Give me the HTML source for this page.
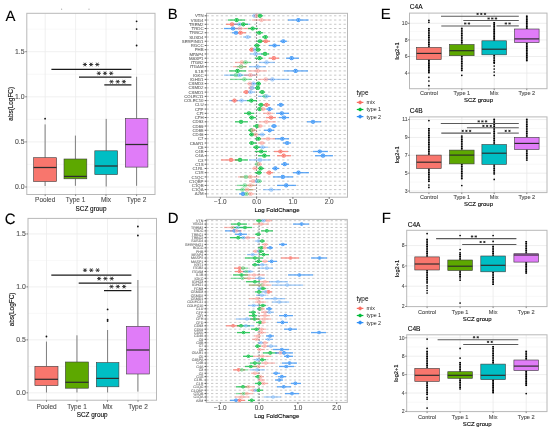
<!DOCTYPE html>
<html><head><meta charset="utf-8"><style>
html,body{margin:0;padding:0;background:#fff;}
body{width:550px;height:429px;overflow:hidden;}
svg{display:block;will-change:transform;font-family:"Liberation Sans", sans-serif;}
</style></head><body>
<svg width="550" height="429" viewBox="0 0 550 429">
<rect x="0" y="0" width="550" height="429" fill="#fff"/>
<text x="5.5" y="20.7" font-size="14.9" text-anchor="start" fill="#000" stroke="#000" stroke-width="0.1" style="text-rendering:geometricPrecision">A</text>
<rect x="26.8" y="13.3" width="128.2" height="181.2" fill="#fff" stroke="none" stroke-width="0"/>
<line x1="26.8" y1="164.45" x2="155" y2="164.45" stroke="#F5F5F5" stroke-width="0.7"/>
<line x1="26.8" y1="119.35" x2="155" y2="119.35" stroke="#F5F5F5" stroke-width="0.7"/>
<line x1="26.8" y1="74.25" x2="155" y2="74.25" stroke="#F5F5F5" stroke-width="0.7"/>
<line x1="26.8" y1="29.15" x2="155" y2="29.15" stroke="#F5F5F5" stroke-width="0.7"/>
<line x1="26.8" y1="187" x2="155" y2="187" stroke="#ECECEC" stroke-width="0.8"/>
<line x1="26.8" y1="141.9" x2="155" y2="141.9" stroke="#ECECEC" stroke-width="0.8"/>
<line x1="26.8" y1="96.8" x2="155" y2="96.8" stroke="#ECECEC" stroke-width="0.8"/>
<line x1="26.8" y1="51.7" x2="155" y2="51.7" stroke="#ECECEC" stroke-width="0.8"/>
<line x1="45.2" y1="13.3" x2="45.2" y2="194.5" stroke="#ECECEC" stroke-width="0.8"/>
<line x1="75.6" y1="13.3" x2="75.6" y2="194.5" stroke="#ECECEC" stroke-width="0.8"/>
<line x1="106" y1="13.3" x2="106" y2="194.5" stroke="#ECECEC" stroke-width="0.8"/>
<line x1="136.6" y1="13.3" x2="136.6" y2="194.5" stroke="#ECECEC" stroke-width="0.8"/>
<rect x="26.8" y="13.3" width="128.2" height="181.2" fill="none" stroke="#B8B8B8" stroke-width="1"/>
<line x1="25.2" y1="187" x2="26.8" y2="187" stroke="#555" stroke-width="0.7"/>
<text x="24.6" y="189.4" font-size="6.9" text-anchor="end" fill="#4D4D4D" stroke="#4D4D4D" stroke-width="0.1">0.0</text>
<line x1="25.2" y1="141.9" x2="26.8" y2="141.9" stroke="#555" stroke-width="0.7"/>
<text x="24.6" y="144.3" font-size="6.9" text-anchor="end" fill="#4D4D4D" stroke="#4D4D4D" stroke-width="0.1">0.5</text>
<line x1="25.2" y1="96.8" x2="26.8" y2="96.8" stroke="#555" stroke-width="0.7"/>
<text x="24.6" y="99.2" font-size="6.9" text-anchor="end" fill="#4D4D4D" stroke="#4D4D4D" stroke-width="0.1">1.0</text>
<line x1="25.2" y1="51.7" x2="26.8" y2="51.7" stroke="#555" stroke-width="0.7"/>
<text x="24.6" y="54.1" font-size="6.9" text-anchor="end" fill="#4D4D4D" stroke="#4D4D4D" stroke-width="0.1">1.5</text>
<line x1="45.2" y1="194.5" x2="45.2" y2="196.1" stroke="#555" stroke-width="0.7"/>
<text x="45.2" y="202.1" font-size="6.5" text-anchor="middle" fill="#4D4D4D" stroke="#4D4D4D" stroke-width="0.1">Pooled</text>
<line x1="75.6" y1="194.5" x2="75.6" y2="196.1" stroke="#555" stroke-width="0.7"/>
<text x="75.6" y="202.1" font-size="6.5" text-anchor="middle" fill="#4D4D4D" stroke="#4D4D4D" stroke-width="0.1">Type 1</text>
<line x1="106" y1="194.5" x2="106" y2="196.1" stroke="#555" stroke-width="0.7"/>
<text x="106" y="202.1" font-size="6.5" text-anchor="middle" fill="#4D4D4D" stroke="#4D4D4D" stroke-width="0.1">Mix</text>
<line x1="136.6" y1="194.5" x2="136.6" y2="196.1" stroke="#555" stroke-width="0.7"/>
<text x="136.6" y="202.1" font-size="6.5" text-anchor="middle" fill="#4D4D4D" stroke="#4D4D4D" stroke-width="0.1">Type 2</text>
<text x="91" y="210.6" font-size="6.4" text-anchor="middle" fill="#000" stroke="#000" stroke-width="0.1">SCZ group</text>
<text x="12.6" y="103.8" font-size="6.4" text-anchor="middle" fill="#000" stroke="#000" stroke-width="0.1" transform="rotate(-90 12.6 103.8)">abs(LogFC)</text>
<line x1="45.1" y1="124.4" x2="45.1" y2="157.7" stroke="#555" stroke-width="0.75"/>
<line x1="45.1" y1="181.5" x2="45.1" y2="186" stroke="#555" stroke-width="0.75"/>
<rect x="33.6" y="157.7" width="23" height="23.8" fill="#F8766D" stroke="#3c3c3c" stroke-width="0.6"/>
<line x1="33.6" y1="167.5" x2="56.6" y2="167.5" stroke="#2e2e2e" stroke-width="1.25"/>
<circle cx="45.1" cy="118.7" r="0.9" fill="#111"/>
<line x1="75.4" y1="135.6" x2="75.4" y2="159" stroke="#555" stroke-width="0.75"/>
<line x1="75.4" y1="178.8" x2="75.4" y2="185.8" stroke="#555" stroke-width="0.75"/>
<rect x="64" y="159" width="22.8" height="19.8" fill="#5DA800" stroke="#3c3c3c" stroke-width="0.6"/>
<line x1="64" y1="176.4" x2="86.8" y2="176.4" stroke="#2e2e2e" stroke-width="1.25"/>
<line x1="106.2" y1="118.9" x2="106.2" y2="150.8" stroke="#555" stroke-width="0.75"/>
<line x1="106.2" y1="174.6" x2="106.2" y2="186.5" stroke="#555" stroke-width="0.75"/>
<rect x="94.8" y="150.8" width="22.8" height="23.8" fill="#00BEC4" stroke="#3c3c3c" stroke-width="0.6"/>
<line x1="94.8" y1="166" x2="117.6" y2="166" stroke="#2e2e2e" stroke-width="1.25"/>
<line x1="136.6" y1="76.8" x2="136.6" y2="118.6" stroke="#555" stroke-width="0.75"/>
<line x1="136.6" y1="167.1" x2="136.6" y2="185.8" stroke="#555" stroke-width="0.75"/>
<rect x="125.3" y="118.6" width="22.6" height="48.5" fill="#E07CF8" stroke="#3c3c3c" stroke-width="0.6"/>
<line x1="125.3" y1="144.5" x2="147.9" y2="144.5" stroke="#2e2e2e" stroke-width="1.25"/>
<circle cx="136.6" cy="21.3" r="0.9" fill="#111"/>
<circle cx="136.6" cy="29.1" r="0.9" fill="#111"/>
<circle cx="136.6" cy="45.5" r="0.9" fill="#111"/>
<line x1="51.4" y1="69.3" x2="131.4" y2="69.3" stroke="#1a1a1a" stroke-width="1.25"/>
<line x1="79" y1="77.1" x2="131.4" y2="77.1" stroke="#1a1a1a" stroke-width="1.25"/>
<line x1="104.3" y1="84.9" x2="131.4" y2="84.9" stroke="#1a1a1a" stroke-width="1.25"/>
<path d="M82.8 64.5L87 64.5M83.85 62.68L85.95 66.32M85.95 62.68L83.85 66.32" stroke="#262626" stroke-width="0.85" fill="none"/>
<path d="M89 64.5L93.2 64.5M90.05 62.68L92.15 66.32M92.15 62.68L90.05 66.32" stroke="#262626" stroke-width="0.85" fill="none"/>
<path d="M95.2 64.5L99.4 64.5M96.25 62.68L98.35 66.32M98.35 62.68L96.25 66.32" stroke="#262626" stroke-width="0.85" fill="none"/>
<path d="M96.7 73.3L100.9 73.3M97.75 71.48L99.85 75.12M99.85 71.48L97.75 75.12" stroke="#262626" stroke-width="0.85" fill="none"/>
<path d="M102.9 73.3L107.1 73.3M103.95 71.48L106.05 75.12M106.05 71.48L103.95 75.12" stroke="#262626" stroke-width="0.85" fill="none"/>
<path d="M109.1 73.3L113.3 73.3M110.15 71.48L112.25 75.12M112.25 71.48L110.15 75.12" stroke="#262626" stroke-width="0.85" fill="none"/>
<path d="M109.4 81.7L113.6 81.7M110.45 79.88L112.55 83.52M112.55 79.88L110.45 83.52" stroke="#262626" stroke-width="0.85" fill="none"/>
<path d="M115.6 81.7L119.8 81.7M116.65 79.88L118.75 83.52M118.75 79.88L116.65 83.52" stroke="#262626" stroke-width="0.85" fill="none"/>
<path d="M121.8 81.7L126 81.7M122.85 79.88L124.95 83.52M124.95 79.88L122.85 83.52" stroke="#262626" stroke-width="0.85" fill="none"/>
<circle cx="61.6" cy="9.2" r="0.6" fill="#aaa"/>
<circle cx="89" cy="9.2" r="0.6" fill="#aaa"/>
<text x="4.7" y="224.2" font-size="14.9" text-anchor="start" fill="#000" stroke="#000" stroke-width="0.1" style="text-rendering:geometricPrecision">C</text>
<rect x="28" y="218.4" width="128.5" height="181.8" fill="#fff" stroke="none" stroke-width="0"/>
<line x1="28" y1="366.32" x2="156.5" y2="366.32" stroke="#F5F5F5" stroke-width="0.7"/>
<line x1="28" y1="313.38" x2="156.5" y2="313.38" stroke="#F5F5F5" stroke-width="0.7"/>
<line x1="28" y1="260.43" x2="156.5" y2="260.43" stroke="#F5F5F5" stroke-width="0.7"/>
<line x1="28" y1="392.8" x2="156.5" y2="392.8" stroke="#ECECEC" stroke-width="0.8"/>
<line x1="28" y1="339.85" x2="156.5" y2="339.85" stroke="#ECECEC" stroke-width="0.8"/>
<line x1="28" y1="286.9" x2="156.5" y2="286.9" stroke="#ECECEC" stroke-width="0.8"/>
<line x1="28" y1="233.95" x2="156.5" y2="233.95" stroke="#ECECEC" stroke-width="0.8"/>
<line x1="46.5" y1="218.4" x2="46.5" y2="400.2" stroke="#ECECEC" stroke-width="0.8"/>
<line x1="77" y1="218.4" x2="77" y2="400.2" stroke="#ECECEC" stroke-width="0.8"/>
<line x1="107.5" y1="218.4" x2="107.5" y2="400.2" stroke="#ECECEC" stroke-width="0.8"/>
<line x1="138" y1="218.4" x2="138" y2="400.2" stroke="#ECECEC" stroke-width="0.8"/>
<rect x="28" y="218.4" width="128.5" height="181.8" fill="none" stroke="#B8B8B8" stroke-width="1"/>
<line x1="26.4" y1="392.8" x2="28" y2="392.8" stroke="#555" stroke-width="0.7"/>
<text x="25.8" y="395.2" font-size="6.9" text-anchor="end" fill="#4D4D4D" stroke="#4D4D4D" stroke-width="0.1">0.0</text>
<line x1="26.4" y1="339.85" x2="28" y2="339.85" stroke="#555" stroke-width="0.7"/>
<text x="25.8" y="342.25" font-size="6.9" text-anchor="end" fill="#4D4D4D" stroke="#4D4D4D" stroke-width="0.1">0.5</text>
<line x1="26.4" y1="286.9" x2="28" y2="286.9" stroke="#555" stroke-width="0.7"/>
<text x="25.8" y="289.3" font-size="6.9" text-anchor="end" fill="#4D4D4D" stroke="#4D4D4D" stroke-width="0.1">1.0</text>
<line x1="26.4" y1="233.95" x2="28" y2="233.95" stroke="#555" stroke-width="0.7"/>
<text x="25.8" y="236.35" font-size="6.9" text-anchor="end" fill="#4D4D4D" stroke="#4D4D4D" stroke-width="0.1">1.5</text>
<line x1="46.5" y1="400.2" x2="46.5" y2="401.8" stroke="#555" stroke-width="0.7"/>
<text x="46.5" y="408.8" font-size="6.5" text-anchor="middle" fill="#4D4D4D" stroke="#4D4D4D" stroke-width="0.1">Pooled</text>
<line x1="77" y1="400.2" x2="77" y2="401.8" stroke="#555" stroke-width="0.7"/>
<text x="77" y="408.8" font-size="6.5" text-anchor="middle" fill="#4D4D4D" stroke="#4D4D4D" stroke-width="0.1">Type 1</text>
<line x1="107.5" y1="400.2" x2="107.5" y2="401.8" stroke="#555" stroke-width="0.7"/>
<text x="107.5" y="408.8" font-size="6.5" text-anchor="middle" fill="#4D4D4D" stroke="#4D4D4D" stroke-width="0.1">Mix</text>
<line x1="138" y1="400.2" x2="138" y2="401.8" stroke="#555" stroke-width="0.7"/>
<text x="138" y="408.8" font-size="6.5" text-anchor="middle" fill="#4D4D4D" stroke="#4D4D4D" stroke-width="0.1">Type 2</text>
<text x="92.2" y="417.4" font-size="6.4" text-anchor="middle" fill="#000" stroke="#000" stroke-width="0.1">SCZ group</text>
<text x="13.8" y="309.5" font-size="6.4" text-anchor="middle" fill="#000" stroke="#000" stroke-width="0.1" transform="rotate(-90 13.8 309.5)">abs(LogFC)</text>
<line x1="46.45" y1="341.6" x2="46.45" y2="366.3" stroke="#555" stroke-width="0.75"/>
<line x1="46.45" y1="385.6" x2="46.45" y2="392.5" stroke="#555" stroke-width="0.75"/>
<rect x="34.9" y="366.3" width="23.1" height="19.3" fill="#F8766D" stroke="#3c3c3c" stroke-width="0.6"/>
<line x1="34.9" y1="379.3" x2="58" y2="379.3" stroke="#2e2e2e" stroke-width="1.25"/>
<circle cx="46.45" cy="336.5" r="0.9" fill="#111"/>
<line x1="76.95" y1="335.3" x2="76.95" y2="362" stroke="#555" stroke-width="0.75"/>
<line x1="76.95" y1="388.2" x2="76.95" y2="392.5" stroke="#555" stroke-width="0.75"/>
<rect x="65.4" y="362" width="23.1" height="26.2" fill="#5DA800" stroke="#3c3c3c" stroke-width="0.6"/>
<line x1="65.4" y1="382.3" x2="88.5" y2="382.3" stroke="#2e2e2e" stroke-width="1.25"/>
<line x1="107.6" y1="330" x2="107.6" y2="362.6" stroke="#555" stroke-width="0.75"/>
<line x1="107.6" y1="386.8" x2="107.6" y2="392.5" stroke="#555" stroke-width="0.75"/>
<rect x="96.3" y="362.6" width="22.6" height="24.2" fill="#00BEC4" stroke="#3c3c3c" stroke-width="0.6"/>
<line x1="96.3" y1="378.4" x2="118.9" y2="378.4" stroke="#2e2e2e" stroke-width="1.25"/>
<circle cx="107.6" cy="309.4" r="0.9" fill="#111"/>
<circle cx="107.6" cy="319.6" r="0.9" fill="#111"/>
<circle cx="107.6" cy="321" r="0.9" fill="#111"/>
<line x1="137.9" y1="280" x2="137.9" y2="326.3" stroke="#555" stroke-width="0.75"/>
<line x1="137.9" y1="374" x2="137.9" y2="391.6" stroke="#555" stroke-width="0.75"/>
<rect x="126.5" y="326.3" width="22.8" height="47.7" fill="#E07CF8" stroke="#3c3c3c" stroke-width="0.6"/>
<line x1="126.5" y1="350" x2="149.3" y2="350" stroke="#2e2e2e" stroke-width="1.25"/>
<circle cx="137.9" cy="226.5" r="0.9" fill="#111"/>
<circle cx="137.9" cy="235.5" r="0.9" fill="#111"/>
<line x1="51.3" y1="275" x2="131.4" y2="275" stroke="#1a1a1a" stroke-width="1.25"/>
<line x1="78.7" y1="283.2" x2="131.4" y2="283.2" stroke="#1a1a1a" stroke-width="1.25"/>
<line x1="104" y1="290.6" x2="131.4" y2="290.6" stroke="#1a1a1a" stroke-width="1.25"/>
<path d="M82.9 270.2L87.1 270.2M83.95 268.38L86.05 272.02M86.05 268.38L83.95 272.02" stroke="#262626" stroke-width="0.85" fill="none"/>
<path d="M89.2 270.2L93.4 270.2M90.25 268.38L92.35 272.02M92.35 268.38L90.25 272.02" stroke="#262626" stroke-width="0.85" fill="none"/>
<path d="M95.5 270.2L99.7 270.2M96.55 268.38L98.65 272.02M98.65 268.38L96.55 272.02" stroke="#262626" stroke-width="0.85" fill="none"/>
<path d="M97 278.6L101.2 278.6M98.05 276.78L100.15 280.42M100.15 276.78L98.05 280.42" stroke="#262626" stroke-width="0.85" fill="none"/>
<path d="M103.3 278.6L107.5 278.6M104.35 276.78L106.45 280.42M106.45 276.78L104.35 280.42" stroke="#262626" stroke-width="0.85" fill="none"/>
<path d="M109.6 278.6L113.8 278.6M110.65 276.78L112.75 280.42M112.75 276.78L110.65 280.42" stroke="#262626" stroke-width="0.85" fill="none"/>
<path d="M109.4 286.6L113.6 286.6M110.45 284.78L112.55 288.42M112.55 284.78L110.45 288.42" stroke="#262626" stroke-width="0.85" fill="none"/>
<path d="M115.7 286.6L119.9 286.6M116.75 284.78L118.85 288.42M118.85 284.78L116.75 288.42" stroke="#262626" stroke-width="0.85" fill="none"/>
<path d="M122 286.6L126.2 286.6M123.05 284.78L125.15 288.42M125.15 284.78L123.05 288.42" stroke="#262626" stroke-width="0.85" fill="none"/>
<text x="167.8" y="19.2" font-size="14.9" text-anchor="start" fill="#000" stroke="#000" stroke-width="0.1" style="text-rendering:geometricPrecision">B</text>
<rect x="206.5" y="13.3" width="141" height="183.9" fill="#fff" stroke="none" stroke-width="0"/>
<line x1="206.65" y1="15.8" x2="347.5" y2="15.8" stroke="#C8C8C8" stroke-width="1" stroke-dasharray="2.3 2.42"/>
<line x1="206.65" y1="20.04" x2="347.5" y2="20.04" stroke="#C8C8C8" stroke-width="1" stroke-dasharray="2.3 2.42"/>
<line x1="206.65" y1="24.28" x2="347.5" y2="24.28" stroke="#C8C8C8" stroke-width="1" stroke-dasharray="2.3 2.42"/>
<line x1="206.65" y1="28.52" x2="347.5" y2="28.52" stroke="#C8C8C8" stroke-width="1" stroke-dasharray="2.3 2.42"/>
<line x1="206.65" y1="32.76" x2="347.5" y2="32.76" stroke="#C8C8C8" stroke-width="1" stroke-dasharray="2.3 2.42"/>
<line x1="206.65" y1="37" x2="347.5" y2="37" stroke="#C8C8C8" stroke-width="1" stroke-dasharray="2.3 2.42"/>
<line x1="206.65" y1="41.24" x2="347.5" y2="41.24" stroke="#C8C8C8" stroke-width="1" stroke-dasharray="2.3 2.42"/>
<line x1="206.65" y1="45.48" x2="347.5" y2="45.48" stroke="#C8C8C8" stroke-width="1" stroke-dasharray="2.3 2.42"/>
<line x1="206.65" y1="49.72" x2="347.5" y2="49.72" stroke="#C8C8C8" stroke-width="1" stroke-dasharray="2.3 2.42"/>
<line x1="206.65" y1="53.96" x2="347.5" y2="53.96" stroke="#C8C8C8" stroke-width="1" stroke-dasharray="2.3 2.42"/>
<line x1="206.65" y1="58.2" x2="347.5" y2="58.2" stroke="#C8C8C8" stroke-width="1" stroke-dasharray="2.3 2.42"/>
<line x1="206.65" y1="62.44" x2="347.5" y2="62.44" stroke="#C8C8C8" stroke-width="1" stroke-dasharray="2.3 2.42"/>
<line x1="206.65" y1="66.68" x2="347.5" y2="66.68" stroke="#C8C8C8" stroke-width="1" stroke-dasharray="2.3 2.42"/>
<line x1="206.65" y1="70.92" x2="347.5" y2="70.92" stroke="#C8C8C8" stroke-width="1" stroke-dasharray="2.3 2.42"/>
<line x1="206.65" y1="75.16" x2="347.5" y2="75.16" stroke="#C8C8C8" stroke-width="1" stroke-dasharray="2.3 2.42"/>
<line x1="206.65" y1="79.4" x2="347.5" y2="79.4" stroke="#C8C8C8" stroke-width="1" stroke-dasharray="2.3 2.42"/>
<line x1="206.65" y1="83.64" x2="347.5" y2="83.64" stroke="#C8C8C8" stroke-width="1" stroke-dasharray="2.3 2.42"/>
<line x1="206.65" y1="87.88" x2="347.5" y2="87.88" stroke="#C8C8C8" stroke-width="1" stroke-dasharray="2.3 2.42"/>
<line x1="206.65" y1="92.12" x2="347.5" y2="92.12" stroke="#C8C8C8" stroke-width="1" stroke-dasharray="2.3 2.42"/>
<line x1="206.65" y1="96.36" x2="347.5" y2="96.36" stroke="#C8C8C8" stroke-width="1" stroke-dasharray="2.3 2.42"/>
<line x1="206.65" y1="100.6" x2="347.5" y2="100.6" stroke="#C8C8C8" stroke-width="1" stroke-dasharray="2.3 2.42"/>
<line x1="206.65" y1="104.84" x2="347.5" y2="104.84" stroke="#C8C8C8" stroke-width="1" stroke-dasharray="2.3 2.42"/>
<line x1="206.65" y1="109.08" x2="347.5" y2="109.08" stroke="#C8C8C8" stroke-width="1" stroke-dasharray="2.3 2.42"/>
<line x1="206.65" y1="113.32" x2="347.5" y2="113.32" stroke="#C8C8C8" stroke-width="1" stroke-dasharray="2.3 2.42"/>
<line x1="206.65" y1="117.56" x2="347.5" y2="117.56" stroke="#C8C8C8" stroke-width="1" stroke-dasharray="2.3 2.42"/>
<line x1="206.65" y1="121.8" x2="347.5" y2="121.8" stroke="#C8C8C8" stroke-width="1" stroke-dasharray="2.3 2.42"/>
<line x1="206.65" y1="126.04" x2="347.5" y2="126.04" stroke="#C8C8C8" stroke-width="1" stroke-dasharray="2.3 2.42"/>
<line x1="206.65" y1="130.28" x2="347.5" y2="130.28" stroke="#C8C8C8" stroke-width="1" stroke-dasharray="2.3 2.42"/>
<line x1="206.65" y1="134.52" x2="347.5" y2="134.52" stroke="#C8C8C8" stroke-width="1" stroke-dasharray="2.3 2.42"/>
<line x1="206.65" y1="138.76" x2="347.5" y2="138.76" stroke="#C8C8C8" stroke-width="1" stroke-dasharray="2.3 2.42"/>
<line x1="206.65" y1="143" x2="347.5" y2="143" stroke="#C8C8C8" stroke-width="1" stroke-dasharray="2.3 2.42"/>
<line x1="206.65" y1="147.24" x2="347.5" y2="147.24" stroke="#C8C8C8" stroke-width="1" stroke-dasharray="2.3 2.42"/>
<line x1="206.65" y1="151.48" x2="347.5" y2="151.48" stroke="#C8C8C8" stroke-width="1" stroke-dasharray="2.3 2.42"/>
<line x1="206.65" y1="155.72" x2="347.5" y2="155.72" stroke="#C8C8C8" stroke-width="1" stroke-dasharray="2.3 2.42"/>
<line x1="206.65" y1="159.96" x2="347.5" y2="159.96" stroke="#C8C8C8" stroke-width="1" stroke-dasharray="2.3 2.42"/>
<line x1="206.65" y1="164.2" x2="347.5" y2="164.2" stroke="#C8C8C8" stroke-width="1" stroke-dasharray="2.3 2.42"/>
<line x1="206.65" y1="168.44" x2="347.5" y2="168.44" stroke="#C8C8C8" stroke-width="1" stroke-dasharray="2.3 2.42"/>
<line x1="206.65" y1="172.68" x2="347.5" y2="172.68" stroke="#C8C8C8" stroke-width="1" stroke-dasharray="2.3 2.42"/>
<line x1="206.65" y1="176.92" x2="347.5" y2="176.92" stroke="#C8C8C8" stroke-width="1" stroke-dasharray="2.3 2.42"/>
<line x1="206.65" y1="181.16" x2="347.5" y2="181.16" stroke="#C8C8C8" stroke-width="1" stroke-dasharray="2.3 2.42"/>
<line x1="206.65" y1="185.4" x2="347.5" y2="185.4" stroke="#C8C8C8" stroke-width="1" stroke-dasharray="2.3 2.42"/>
<line x1="206.65" y1="189.64" x2="347.5" y2="189.64" stroke="#C8C8C8" stroke-width="1" stroke-dasharray="2.3 2.42"/>
<line x1="206.65" y1="193.88" x2="347.5" y2="193.88" stroke="#C8C8C8" stroke-width="1" stroke-dasharray="2.3 2.42"/>
<line x1="256.6" y1="13.3" x2="256.6" y2="197.2" stroke="#555" stroke-width="0.8" stroke-dasharray="1.6 1.4"/>
<rect x="206.5" y="13.3" width="141" height="183.9" fill="none" stroke="#B8B8B8" stroke-width="1"/>
<line x1="206.5" y1="13.3" x2="206.5" y2="197.2" stroke="#ABABAB" stroke-width="0.9"/>
<line x1="204.7" y1="15.8" x2="206.5" y2="15.8" stroke="#333" stroke-width="0.8"/>
<text x="203.5" y="17.39" font-size="4.3" text-anchor="end" fill="#666666" stroke="#666666" stroke-width="0.08" style="text-rendering:geometricPrecision">VTN</text>
<line x1="204.7" y1="20.04" x2="206.5" y2="20.04" stroke="#333" stroke-width="0.8"/>
<text x="203.5" y="21.63" font-size="4.3" text-anchor="end" fill="#666666" stroke="#666666" stroke-width="0.08" style="text-rendering:geometricPrecision">VSIG4</text>
<line x1="204.7" y1="24.28" x2="206.5" y2="24.28" stroke="#333" stroke-width="0.8"/>
<text x="203.5" y="25.87" font-size="4.3" text-anchor="end" fill="#666666" stroke="#666666" stroke-width="0.08" style="text-rendering:geometricPrecision">TREM2</text>
<line x1="204.7" y1="28.52" x2="206.5" y2="28.52" stroke="#333" stroke-width="0.8"/>
<text x="203.5" y="30.11" font-size="4.3" text-anchor="end" fill="#666666" stroke="#666666" stroke-width="0.08" style="text-rendering:geometricPrecision">TRDC</text>
<line x1="204.7" y1="32.76" x2="206.5" y2="32.76" stroke="#333" stroke-width="0.8"/>
<text x="203.5" y="34.35" font-size="4.3" text-anchor="end" fill="#666666" stroke="#666666" stroke-width="0.08" style="text-rendering:geometricPrecision">TRBC2</text>
<line x1="204.7" y1="37" x2="206.5" y2="37" stroke="#333" stroke-width="0.8"/>
<text x="203.5" y="38.59" font-size="4.3" text-anchor="end" fill="#666666" stroke="#666666" stroke-width="0.08" style="text-rendering:geometricPrecision">SUSD4</text>
<line x1="204.7" y1="41.24" x2="206.5" y2="41.24" stroke="#333" stroke-width="0.8"/>
<text x="203.5" y="42.83" font-size="4.3" text-anchor="end" fill="#666666" stroke="#666666" stroke-width="0.08" style="text-rendering:geometricPrecision">SERPING1</text>
<line x1="204.7" y1="45.48" x2="206.5" y2="45.48" stroke="#333" stroke-width="0.8"/>
<text x="203.5" y="47.07" font-size="4.3" text-anchor="end" fill="#666666" stroke="#666666" stroke-width="0.08" style="text-rendering:geometricPrecision">RGCC</text>
<line x1="204.7" y1="49.72" x2="206.5" y2="49.72" stroke="#333" stroke-width="0.8"/>
<text x="203.5" y="51.31" font-size="4.3" text-anchor="end" fill="#666666" stroke="#666666" stroke-width="0.08" style="text-rendering:geometricPrecision">PHB</text>
<line x1="204.7" y1="53.96" x2="206.5" y2="53.96" stroke="#333" stroke-width="0.8"/>
<text x="203.5" y="55.55" font-size="4.3" text-anchor="end" fill="#666666" stroke="#666666" stroke-width="0.08" style="text-rendering:geometricPrecision">MFAP4</text>
<line x1="204.7" y1="58.2" x2="206.5" y2="58.2" stroke="#333" stroke-width="0.8"/>
<text x="203.5" y="59.79" font-size="4.3" text-anchor="end" fill="#666666" stroke="#666666" stroke-width="0.08" style="text-rendering:geometricPrecision">MASP1</text>
<line x1="204.7" y1="62.44" x2="206.5" y2="62.44" stroke="#333" stroke-width="0.8"/>
<text x="203.5" y="64.03" font-size="4.3" text-anchor="end" fill="#666666" stroke="#666666" stroke-width="0.08" style="text-rendering:geometricPrecision">ITGB2</text>
<line x1="204.7" y1="66.68" x2="206.5" y2="66.68" stroke="#333" stroke-width="0.8"/>
<text x="203.5" y="68.27" font-size="4.3" text-anchor="end" fill="#666666" stroke="#666666" stroke-width="0.08" style="text-rendering:geometricPrecision">ITGAM</text>
<line x1="204.7" y1="70.92" x2="206.5" y2="70.92" stroke="#333" stroke-width="0.8"/>
<text x="203.5" y="72.51" font-size="4.3" text-anchor="end" fill="#666666" stroke="#666666" stroke-width="0.08" style="text-rendering:geometricPrecision">IL1B</text>
<line x1="204.7" y1="75.16" x2="206.5" y2="75.16" stroke="#333" stroke-width="0.8"/>
<text x="203.5" y="76.75" font-size="4.3" text-anchor="end" fill="#666666" stroke="#666666" stroke-width="0.08" style="text-rendering:geometricPrecision">IGKC</text>
<line x1="204.7" y1="79.4" x2="206.5" y2="79.4" stroke="#333" stroke-width="0.8"/>
<text x="203.5" y="80.99" font-size="4.3" text-anchor="end" fill="#666666" stroke="#666666" stroke-width="0.08" style="text-rendering:geometricPrecision">IGHG1</text>
<line x1="204.7" y1="83.64" x2="206.5" y2="83.64" stroke="#333" stroke-width="0.8"/>
<text x="203.5" y="85.23" font-size="4.3" text-anchor="end" fill="#666666" stroke="#666666" stroke-width="0.08" style="text-rendering:geometricPrecision">CSMD3</text>
<line x1="204.7" y1="87.88" x2="206.5" y2="87.88" stroke="#333" stroke-width="0.8"/>
<text x="203.5" y="89.47" font-size="4.3" text-anchor="end" fill="#666666" stroke="#666666" stroke-width="0.08" style="text-rendering:geometricPrecision">CSMD2</text>
<line x1="204.7" y1="92.12" x2="206.5" y2="92.12" stroke="#333" stroke-width="0.8"/>
<text x="203.5" y="93.71" font-size="4.3" text-anchor="end" fill="#666666" stroke="#666666" stroke-width="0.08" style="text-rendering:geometricPrecision">CSMD1</text>
<line x1="204.7" y1="96.36" x2="206.5" y2="96.36" stroke="#333" stroke-width="0.8"/>
<text x="203.5" y="97.95" font-size="4.3" text-anchor="end" fill="#666666" stroke="#666666" stroke-width="0.08" style="text-rendering:geometricPrecision">COLEC11</text>
<line x1="204.7" y1="100.6" x2="206.5" y2="100.6" stroke="#333" stroke-width="0.8"/>
<text x="203.5" y="102.19" font-size="4.3" text-anchor="end" fill="#666666" stroke="#666666" stroke-width="0.08" style="text-rendering:geometricPrecision">COLEC10</text>
<line x1="204.7" y1="104.84" x2="206.5" y2="104.84" stroke="#333" stroke-width="0.8"/>
<text x="203.5" y="106.43" font-size="4.3" text-anchor="end" fill="#666666" stroke="#666666" stroke-width="0.08" style="text-rendering:geometricPrecision">CLU</text>
<line x1="204.7" y1="109.08" x2="206.5" y2="109.08" stroke="#333" stroke-width="0.8"/>
<text x="203.5" y="110.67" font-size="4.3" text-anchor="end" fill="#666666" stroke="#666666" stroke-width="0.08" style="text-rendering:geometricPrecision">CFP</text>
<line x1="204.7" y1="113.32" x2="206.5" y2="113.32" stroke="#333" stroke-width="0.8"/>
<text x="203.5" y="114.91" font-size="4.3" text-anchor="end" fill="#666666" stroke="#666666" stroke-width="0.08" style="text-rendering:geometricPrecision">CFI</text>
<line x1="204.7" y1="117.56" x2="206.5" y2="117.56" stroke="#333" stroke-width="0.8"/>
<text x="203.5" y="119.15" font-size="4.3" text-anchor="end" fill="#666666" stroke="#666666" stroke-width="0.08" style="text-rendering:geometricPrecision">CFH</text>
<line x1="204.7" y1="121.8" x2="206.5" y2="121.8" stroke="#333" stroke-width="0.8"/>
<text x="203.5" y="123.39" font-size="4.3" text-anchor="end" fill="#666666" stroke="#666666" stroke-width="0.08" style="text-rendering:geometricPrecision">CD93</text>
<line x1="204.7" y1="126.04" x2="206.5" y2="126.04" stroke="#333" stroke-width="0.8"/>
<text x="203.5" y="127.63" font-size="4.3" text-anchor="end" fill="#666666" stroke="#666666" stroke-width="0.08" style="text-rendering:geometricPrecision">CD59</text>
<line x1="204.7" y1="130.28" x2="206.5" y2="130.28" stroke="#333" stroke-width="0.8"/>
<text x="203.5" y="131.87" font-size="4.3" text-anchor="end" fill="#666666" stroke="#666666" stroke-width="0.08" style="text-rendering:geometricPrecision">CD55</text>
<line x1="204.7" y1="134.52" x2="206.5" y2="134.52" stroke="#333" stroke-width="0.8"/>
<text x="203.5" y="136.11" font-size="4.3" text-anchor="end" fill="#666666" stroke="#666666" stroke-width="0.08" style="text-rendering:geometricPrecision">CD46</text>
<line x1="204.7" y1="138.76" x2="206.5" y2="138.76" stroke="#333" stroke-width="0.8"/>
<text x="203.5" y="140.35" font-size="4.3" text-anchor="end" fill="#666666" stroke="#666666" stroke-width="0.08" style="text-rendering:geometricPrecision">C7</text>
<line x1="204.7" y1="143" x2="206.5" y2="143" stroke="#333" stroke-width="0.8"/>
<text x="203.5" y="144.59" font-size="4.3" text-anchor="end" fill="#666666" stroke="#666666" stroke-width="0.08" style="text-rendering:geometricPrecision">C5AR1</text>
<line x1="204.7" y1="147.24" x2="206.5" y2="147.24" stroke="#333" stroke-width="0.8"/>
<text x="203.5" y="148.83" font-size="4.3" text-anchor="end" fill="#666666" stroke="#666666" stroke-width="0.08" style="text-rendering:geometricPrecision">C5</text>
<line x1="204.7" y1="151.48" x2="206.5" y2="151.48" stroke="#333" stroke-width="0.8"/>
<text x="203.5" y="153.07" font-size="4.3" text-anchor="end" fill="#666666" stroke="#666666" stroke-width="0.08" style="text-rendering:geometricPrecision">C4B</text>
<line x1="204.7" y1="155.72" x2="206.5" y2="155.72" stroke="#333" stroke-width="0.8"/>
<text x="203.5" y="157.31" font-size="4.3" text-anchor="end" fill="#666666" stroke="#666666" stroke-width="0.08" style="text-rendering:geometricPrecision">C4A</text>
<line x1="204.7" y1="159.96" x2="206.5" y2="159.96" stroke="#333" stroke-width="0.8"/>
<text x="203.5" y="161.55" font-size="4.3" text-anchor="end" fill="#666666" stroke="#666666" stroke-width="0.08" style="text-rendering:geometricPrecision">C3</text>
<line x1="204.7" y1="164.2" x2="206.5" y2="164.2" stroke="#333" stroke-width="0.8"/>
<text x="203.5" y="165.79" font-size="4.3" text-anchor="end" fill="#666666" stroke="#666666" stroke-width="0.08" style="text-rendering:geometricPrecision">C1S</text>
<line x1="204.7" y1="168.44" x2="206.5" y2="168.44" stroke="#333" stroke-width="0.8"/>
<text x="203.5" y="170.03" font-size="4.3" text-anchor="end" fill="#666666" stroke="#666666" stroke-width="0.08" style="text-rendering:geometricPrecision">C1RL</text>
<line x1="204.7" y1="172.68" x2="206.5" y2="172.68" stroke="#333" stroke-width="0.8"/>
<text x="203.5" y="174.27" font-size="4.3" text-anchor="end" fill="#666666" stroke="#666666" stroke-width="0.08" style="text-rendering:geometricPrecision">C1R</text>
<line x1="204.7" y1="176.92" x2="206.5" y2="176.92" stroke="#333" stroke-width="0.8"/>
<text x="203.5" y="178.51" font-size="4.3" text-anchor="end" fill="#666666" stroke="#666666" stroke-width="0.08" style="text-rendering:geometricPrecision">C1QC</text>
<line x1="204.7" y1="181.16" x2="206.5" y2="181.16" stroke="#333" stroke-width="0.8"/>
<text x="203.5" y="182.75" font-size="4.3" text-anchor="end" fill="#666666" stroke="#666666" stroke-width="0.08" style="text-rendering:geometricPrecision">C1QBP</text>
<line x1="204.7" y1="185.4" x2="206.5" y2="185.4" stroke="#333" stroke-width="0.8"/>
<text x="203.5" y="186.99" font-size="4.3" text-anchor="end" fill="#666666" stroke="#666666" stroke-width="0.08" style="text-rendering:geometricPrecision">C1QB</text>
<line x1="204.7" y1="189.64" x2="206.5" y2="189.64" stroke="#333" stroke-width="0.8"/>
<text x="203.5" y="191.23" font-size="4.3" text-anchor="end" fill="#666666" stroke="#666666" stroke-width="0.08" style="text-rendering:geometricPrecision">C1QA</text>
<line x1="204.7" y1="193.88" x2="206.5" y2="193.88" stroke="#333" stroke-width="0.8"/>
<text x="203.5" y="195.47" font-size="4.3" text-anchor="end" fill="#666666" stroke="#666666" stroke-width="0.08" style="text-rendering:geometricPrecision">A2M</text>
<line x1="252" y1="15.8" x2="257" y2="15.8" stroke="#2E8EF6" stroke-width="1.3" stroke-opacity="0.45"/>
<line x1="253" y1="15.8" x2="260" y2="15.8" stroke="#F96D62" stroke-width="1.3" stroke-opacity="0.45"/>
<line x1="257" y1="15.8" x2="263" y2="15.8" stroke="#00BC3A" stroke-width="1.3" stroke-opacity="0.75"/>
<circle cx="254.6" cy="15.8" r="2.1" fill="#2E8EF6" fill-opacity="0.5"/>
<circle cx="254.6" cy="15.8" r="1.22" fill="none" stroke="#fff" stroke-width="0.5" stroke-opacity="0.85"/>
<circle cx="256.6" cy="15.8" r="2.1" fill="#F96D62" fill-opacity="0.5"/>
<circle cx="256.6" cy="15.8" r="1.22" fill="none" stroke="#fff" stroke-width="0.5" stroke-opacity="0.85"/>
<circle cx="260" cy="15.8" r="2.1" fill="#00BC3A" fill-opacity="1"/>
<circle cx="260" cy="15.8" r="1.22" fill="none" stroke="#fff" stroke-width="0.5" stroke-opacity="0.65"/>
<line x1="228" y1="20.04" x2="245" y2="20.04" stroke="#00BC3A" stroke-width="1.3" stroke-opacity="0.75"/>
<line x1="252" y1="20.04" x2="271" y2="20.04" stroke="#F96D62" stroke-width="1.3" stroke-opacity="0.45"/>
<line x1="288" y1="20.04" x2="308.6" y2="20.04" stroke="#2E8EF6" stroke-width="1.3" stroke-opacity="0.75"/>
<circle cx="236.6" cy="20.04" r="2.1" fill="#00BC3A" fill-opacity="1"/>
<circle cx="236.6" cy="20.04" r="1.22" fill="none" stroke="#fff" stroke-width="0.5" stroke-opacity="0.65"/>
<circle cx="261.4" cy="20.04" r="2.1" fill="#F96D62" fill-opacity="0.5"/>
<circle cx="261.4" cy="20.04" r="1.22" fill="none" stroke="#fff" stroke-width="0.5" stroke-opacity="0.85"/>
<circle cx="298.4" cy="20.04" r="2.1" fill="#2E8EF6" fill-opacity="1"/>
<circle cx="298.4" cy="20.04" r="1.22" fill="none" stroke="#fff" stroke-width="0.5" stroke-opacity="0.65"/>
<line x1="226" y1="24.28" x2="238" y2="24.28" stroke="#F96D62" stroke-width="1.3" stroke-opacity="0.75"/>
<line x1="230" y1="24.28" x2="250" y2="24.28" stroke="#2E8EF6" stroke-width="1.3" stroke-opacity="0.45"/>
<line x1="238" y1="24.28" x2="248" y2="24.28" stroke="#00BC3A" stroke-width="1.3" stroke-opacity="0.75"/>
<circle cx="232" cy="24.28" r="2.1" fill="#F96D62" fill-opacity="1"/>
<circle cx="232" cy="24.28" r="1.22" fill="none" stroke="#fff" stroke-width="0.5" stroke-opacity="0.65"/>
<circle cx="239.5" cy="24.28" r="2.1" fill="#2E8EF6" fill-opacity="0.5"/>
<circle cx="239.5" cy="24.28" r="1.22" fill="none" stroke="#fff" stroke-width="0.5" stroke-opacity="0.85"/>
<circle cx="243.3" cy="24.28" r="2.1" fill="#00BC3A" fill-opacity="1"/>
<circle cx="243.3" cy="24.28" r="1.22" fill="none" stroke="#fff" stroke-width="0.5" stroke-opacity="0.65"/>
<line x1="224" y1="28.52" x2="242" y2="28.52" stroke="#2E8EF6" stroke-width="1.3" stroke-opacity="0.75"/>
<line x1="232" y1="28.52" x2="252" y2="28.52" stroke="#F96D62" stroke-width="1.3" stroke-opacity="0.45"/>
<line x1="248" y1="28.52" x2="258" y2="28.52" stroke="#00BC3A" stroke-width="1.3" stroke-opacity="0.75"/>
<circle cx="233" cy="28.52" r="2.1" fill="#2E8EF6" fill-opacity="1"/>
<circle cx="233" cy="28.52" r="1.22" fill="none" stroke="#fff" stroke-width="0.5" stroke-opacity="0.65"/>
<circle cx="240" cy="28.52" r="2.1" fill="#F96D62" fill-opacity="0.5"/>
<circle cx="240" cy="28.52" r="1.22" fill="none" stroke="#fff" stroke-width="0.5" stroke-opacity="0.85"/>
<circle cx="252.6" cy="28.52" r="2.1" fill="#00BC3A" fill-opacity="1"/>
<circle cx="252.6" cy="28.52" r="1.22" fill="none" stroke="#fff" stroke-width="0.5" stroke-opacity="0.65"/>
<line x1="232" y1="32.76" x2="240" y2="32.76" stroke="#2E8EF6" stroke-width="1.3" stroke-opacity="0.75"/>
<line x1="236" y1="32.76" x2="246" y2="32.76" stroke="#F96D62" stroke-width="1.3" stroke-opacity="0.75"/>
<line x1="256" y1="32.76" x2="263" y2="32.76" stroke="#00BC3A" stroke-width="1.3" stroke-opacity="0.75"/>
<circle cx="236" cy="32.76" r="2.1" fill="#2E8EF6" fill-opacity="1"/>
<circle cx="236" cy="32.76" r="1.22" fill="none" stroke="#fff" stroke-width="0.5" stroke-opacity="0.65"/>
<circle cx="240.6" cy="32.76" r="2.1" fill="#F96D62" fill-opacity="1"/>
<circle cx="240.6" cy="32.76" r="1.22" fill="none" stroke="#fff" stroke-width="0.5" stroke-opacity="0.65"/>
<circle cx="259.3" cy="32.76" r="2.1" fill="#00BC3A" fill-opacity="1"/>
<circle cx="259.3" cy="32.76" r="1.22" fill="none" stroke="#fff" stroke-width="0.5" stroke-opacity="0.65"/>
<line x1="243" y1="37" x2="251" y2="37" stroke="#2E8EF6" stroke-width="1.3" stroke-opacity="0.45"/>
<line x1="262" y1="37" x2="268" y2="37" stroke="#00BC3A" stroke-width="1.3" stroke-opacity="0.75"/>
<circle cx="247.6" cy="37" r="2.1" fill="#2E8EF6" fill-opacity="0.5"/>
<circle cx="247.6" cy="37" r="1.22" fill="none" stroke="#fff" stroke-width="0.5" stroke-opacity="0.85"/>
<circle cx="265.4" cy="37" r="2.1" fill="#00BC3A" fill-opacity="1"/>
<circle cx="265.4" cy="37" r="1.22" fill="none" stroke="#fff" stroke-width="0.5" stroke-opacity="0.65"/>
<line x1="257" y1="41.24" x2="264" y2="41.24" stroke="#00BC3A" stroke-width="1.3" stroke-opacity="0.75"/>
<line x1="262" y1="41.24" x2="270" y2="41.24" stroke="#F96D62" stroke-width="1.3" stroke-opacity="0.75"/>
<line x1="280" y1="41.24" x2="287" y2="41.24" stroke="#2E8EF6" stroke-width="1.3" stroke-opacity="0.75"/>
<circle cx="260" cy="41.24" r="2.1" fill="#00BC3A" fill-opacity="1"/>
<circle cx="260" cy="41.24" r="1.22" fill="none" stroke="#fff" stroke-width="0.5" stroke-opacity="0.65"/>
<circle cx="265.8" cy="41.24" r="2.1" fill="#F96D62" fill-opacity="1"/>
<circle cx="265.8" cy="41.24" r="1.22" fill="none" stroke="#fff" stroke-width="0.5" stroke-opacity="0.65"/>
<circle cx="283.3" cy="41.24" r="2.1" fill="#2E8EF6" fill-opacity="1"/>
<circle cx="283.3" cy="41.24" r="1.22" fill="none" stroke="#fff" stroke-width="0.5" stroke-opacity="0.65"/>
<line x1="254" y1="45.48" x2="260" y2="45.48" stroke="#00BC3A" stroke-width="1.3" stroke-opacity="0.75"/>
<line x1="269" y1="45.48" x2="280" y2="45.48" stroke="#2E8EF6" stroke-width="1.3" stroke-opacity="0.75"/>
<circle cx="257" cy="45.48" r="2.1" fill="#00BC3A" fill-opacity="1"/>
<circle cx="257" cy="45.48" r="1.22" fill="none" stroke="#fff" stroke-width="0.5" stroke-opacity="0.65"/>
<circle cx="274.5" cy="45.48" r="2.1" fill="#2E8EF6" fill-opacity="1"/>
<circle cx="274.5" cy="45.48" r="1.22" fill="none" stroke="#fff" stroke-width="0.5" stroke-opacity="0.65"/>
<line x1="249" y1="49.72" x2="255" y2="49.72" stroke="#F96D62" stroke-width="1.3" stroke-opacity="0.75"/>
<line x1="251" y1="49.72" x2="259" y2="49.72" stroke="#2E8EF6" stroke-width="1.3" stroke-opacity="0.45"/>
<line x1="255" y1="49.72" x2="261" y2="49.72" stroke="#00BC3A" stroke-width="1.3" stroke-opacity="0.75"/>
<circle cx="251.7" cy="49.72" r="2.1" fill="#F96D62" fill-opacity="1"/>
<circle cx="251.7" cy="49.72" r="1.22" fill="none" stroke="#fff" stroke-width="0.5" stroke-opacity="0.65"/>
<circle cx="255" cy="49.72" r="2.1" fill="#2E8EF6" fill-opacity="0.5"/>
<circle cx="255" cy="49.72" r="1.22" fill="none" stroke="#fff" stroke-width="0.5" stroke-opacity="0.85"/>
<circle cx="258" cy="49.72" r="2.1" fill="#00BC3A" fill-opacity="1"/>
<circle cx="258" cy="49.72" r="1.22" fill="none" stroke="#fff" stroke-width="0.5" stroke-opacity="0.65"/>
<line x1="250" y1="53.96" x2="263" y2="53.96" stroke="#2E8EF6" stroke-width="1.3" stroke-opacity="0.45"/>
<line x1="261" y1="53.96" x2="269" y2="53.96" stroke="#00BC3A" stroke-width="1.3" stroke-opacity="0.75"/>
<circle cx="255.6" cy="53.96" r="2.1" fill="#2E8EF6" fill-opacity="0.5"/>
<circle cx="255.6" cy="53.96" r="1.22" fill="none" stroke="#fff" stroke-width="0.5" stroke-opacity="0.85"/>
<circle cx="265" cy="53.96" r="2.1" fill="#00BC3A" fill-opacity="1"/>
<circle cx="265" cy="53.96" r="1.22" fill="none" stroke="#fff" stroke-width="0.5" stroke-opacity="0.65"/>
<line x1="255" y1="58.2" x2="263" y2="58.2" stroke="#00BC3A" stroke-width="1.3" stroke-opacity="0.75"/>
<line x1="269" y1="58.2" x2="279" y2="58.2" stroke="#F96D62" stroke-width="1.3" stroke-opacity="0.75"/>
<line x1="286" y1="58.2" x2="299" y2="58.2" stroke="#2E8EF6" stroke-width="1.3" stroke-opacity="0.75"/>
<circle cx="259.6" cy="58.2" r="2.1" fill="#00BC3A" fill-opacity="1"/>
<circle cx="259.6" cy="58.2" r="1.22" fill="none" stroke="#fff" stroke-width="0.5" stroke-opacity="0.65"/>
<circle cx="273.8" cy="58.2" r="2.1" fill="#F96D62" fill-opacity="1"/>
<circle cx="273.8" cy="58.2" r="1.22" fill="none" stroke="#fff" stroke-width="0.5" stroke-opacity="0.65"/>
<circle cx="291.6" cy="58.2" r="2.1" fill="#2E8EF6" fill-opacity="1"/>
<circle cx="291.6" cy="58.2" r="1.22" fill="none" stroke="#fff" stroke-width="0.5" stroke-opacity="0.65"/>
<line x1="235" y1="62.44" x2="248" y2="62.44" stroke="#F96D62" stroke-width="1.3" stroke-opacity="0.45"/>
<line x1="242" y1="62.44" x2="251" y2="62.44" stroke="#00BC3A" stroke-width="1.3" stroke-opacity="0.45"/>
<line x1="259" y1="62.44" x2="275" y2="62.44" stroke="#2E8EF6" stroke-width="1.3" stroke-opacity="0.45"/>
<circle cx="241.8" cy="62.44" r="2.1" fill="#F96D62" fill-opacity="0.5"/>
<circle cx="241.8" cy="62.44" r="1.22" fill="none" stroke="#fff" stroke-width="0.5" stroke-opacity="0.85"/>
<circle cx="245.5" cy="62.44" r="2.1" fill="#00BC3A" fill-opacity="0.5"/>
<circle cx="245.5" cy="62.44" r="1.22" fill="none" stroke="#fff" stroke-width="0.5" stroke-opacity="0.85"/>
<circle cx="266.5" cy="62.44" r="2.1" fill="#2E8EF6" fill-opacity="0.5"/>
<circle cx="266.5" cy="62.44" r="1.22" fill="none" stroke="#fff" stroke-width="0.5" stroke-opacity="0.85"/>
<line x1="233" y1="66.68" x2="247" y2="66.68" stroke="#F96D62" stroke-width="1.3" stroke-opacity="0.45"/>
<line x1="237" y1="66.68" x2="246" y2="66.68" stroke="#00BC3A" stroke-width="1.3" stroke-opacity="0.45"/>
<line x1="249" y1="66.68" x2="266" y2="66.68" stroke="#2E8EF6" stroke-width="1.3" stroke-opacity="0.45"/>
<circle cx="241" cy="66.68" r="2.1" fill="#F96D62" fill-opacity="0.5"/>
<circle cx="241" cy="66.68" r="1.22" fill="none" stroke="#fff" stroke-width="0.5" stroke-opacity="0.85"/>
<circle cx="241" cy="66.68" r="2.1" fill="#00BC3A" fill-opacity="0.5"/>
<circle cx="241" cy="66.68" r="1.22" fill="none" stroke="#fff" stroke-width="0.5" stroke-opacity="0.85"/>
<circle cx="257.5" cy="66.68" r="2.1" fill="#2E8EF6" fill-opacity="0.5"/>
<circle cx="257.5" cy="66.68" r="1.22" fill="none" stroke="#fff" stroke-width="0.5" stroke-opacity="0.85"/>
<line x1="229" y1="70.92" x2="246" y2="70.92" stroke="#00BC3A" stroke-width="1.3" stroke-opacity="0.75"/>
<line x1="248" y1="70.92" x2="267" y2="70.92" stroke="#F96D62" stroke-width="1.3" stroke-opacity="0.45"/>
<line x1="284" y1="70.92" x2="308" y2="70.92" stroke="#2E8EF6" stroke-width="1.3" stroke-opacity="0.75"/>
<circle cx="237.5" cy="70.92" r="2.1" fill="#00BC3A" fill-opacity="1"/>
<circle cx="237.5" cy="70.92" r="1.22" fill="none" stroke="#fff" stroke-width="0.5" stroke-opacity="0.65"/>
<circle cx="257.5" cy="70.92" r="2.1" fill="#F96D62" fill-opacity="0.5"/>
<circle cx="257.5" cy="70.92" r="1.22" fill="none" stroke="#fff" stroke-width="0.5" stroke-opacity="0.85"/>
<circle cx="295.6" cy="70.92" r="2.1" fill="#2E8EF6" fill-opacity="1"/>
<circle cx="295.6" cy="70.92" r="1.22" fill="none" stroke="#fff" stroke-width="0.5" stroke-opacity="0.65"/>
<line x1="230" y1="75.16" x2="243" y2="75.16" stroke="#00BC3A" stroke-width="1.3" stroke-opacity="0.45"/>
<line x1="224" y1="75.16" x2="255" y2="75.16" stroke="#2E8EF6" stroke-width="1.3" stroke-opacity="0.45"/>
<line x1="244" y1="75.16" x2="258" y2="75.16" stroke="#F96D62" stroke-width="1.3" stroke-opacity="0.45"/>
<circle cx="236" cy="75.16" r="2.1" fill="#00BC3A" fill-opacity="0.5"/>
<circle cx="236" cy="75.16" r="1.22" fill="none" stroke="#fff" stroke-width="0.5" stroke-opacity="0.85"/>
<circle cx="239.6" cy="75.16" r="2.1" fill="#2E8EF6" fill-opacity="0.5"/>
<circle cx="239.6" cy="75.16" r="1.22" fill="none" stroke="#fff" stroke-width="0.5" stroke-opacity="0.85"/>
<circle cx="250.5" cy="75.16" r="2.1" fill="#F96D62" fill-opacity="0.5"/>
<circle cx="250.5" cy="75.16" r="1.22" fill="none" stroke="#fff" stroke-width="0.5" stroke-opacity="0.85"/>
<line x1="230" y1="79.4" x2="252" y2="79.4" stroke="#00BC3A" stroke-width="1.3" stroke-opacity="0.45"/>
<line x1="258" y1="79.4" x2="273" y2="79.4" stroke="#F96D62" stroke-width="1.3" stroke-opacity="0.45"/>
<line x1="265" y1="79.4" x2="289" y2="79.4" stroke="#2E8EF6" stroke-width="1.3" stroke-opacity="0.45"/>
<circle cx="244.4" cy="79.4" r="2.1" fill="#00BC3A" fill-opacity="0.5"/>
<circle cx="244.4" cy="79.4" r="1.22" fill="none" stroke="#fff" stroke-width="0.5" stroke-opacity="0.85"/>
<circle cx="265.8" cy="79.4" r="2.1" fill="#F96D62" fill-opacity="0.5"/>
<circle cx="265.8" cy="79.4" r="1.22" fill="none" stroke="#fff" stroke-width="0.5" stroke-opacity="0.85"/>
<circle cx="272.4" cy="79.4" r="2.1" fill="#2E8EF6" fill-opacity="0.5"/>
<circle cx="272.4" cy="79.4" r="1.22" fill="none" stroke="#fff" stroke-width="0.5" stroke-opacity="0.85"/>
<line x1="247" y1="83.64" x2="254" y2="83.64" stroke="#F96D62" stroke-width="1.3" stroke-opacity="0.45"/>
<line x1="249" y1="83.64" x2="257" y2="83.64" stroke="#2E8EF6" stroke-width="1.3" stroke-opacity="0.45"/>
<line x1="256" y1="83.64" x2="261" y2="83.64" stroke="#00BC3A" stroke-width="1.3" stroke-opacity="0.75"/>
<circle cx="250" cy="83.64" r="2.1" fill="#F96D62" fill-opacity="0.5"/>
<circle cx="250" cy="83.64" r="1.22" fill="none" stroke="#fff" stroke-width="0.5" stroke-opacity="0.85"/>
<circle cx="253.5" cy="83.64" r="2.1" fill="#2E8EF6" fill-opacity="0.5"/>
<circle cx="253.5" cy="83.64" r="1.22" fill="none" stroke="#fff" stroke-width="0.5" stroke-opacity="0.85"/>
<circle cx="258.5" cy="83.64" r="2.1" fill="#00BC3A" fill-opacity="1"/>
<circle cx="258.5" cy="83.64" r="1.22" fill="none" stroke="#fff" stroke-width="0.5" stroke-opacity="0.65"/>
<line x1="248" y1="87.88" x2="254" y2="87.88" stroke="#F96D62" stroke-width="1.3" stroke-opacity="0.45"/>
<line x1="249" y1="87.88" x2="256" y2="87.88" stroke="#2E8EF6" stroke-width="1.3" stroke-opacity="0.45"/>
<line x1="255" y1="87.88" x2="260" y2="87.88" stroke="#00BC3A" stroke-width="1.3" stroke-opacity="0.75"/>
<circle cx="251.3" cy="87.88" r="2.1" fill="#F96D62" fill-opacity="0.5"/>
<circle cx="251.3" cy="87.88" r="1.22" fill="none" stroke="#fff" stroke-width="0.5" stroke-opacity="0.85"/>
<circle cx="252" cy="87.88" r="2.1" fill="#2E8EF6" fill-opacity="0.5"/>
<circle cx="252" cy="87.88" r="1.22" fill="none" stroke="#fff" stroke-width="0.5" stroke-opacity="0.85"/>
<circle cx="257.8" cy="87.88" r="2.1" fill="#00BC3A" fill-opacity="1"/>
<circle cx="257.8" cy="87.88" r="1.22" fill="none" stroke="#fff" stroke-width="0.5" stroke-opacity="0.65"/>
<line x1="243" y1="92.12" x2="249" y2="92.12" stroke="#F96D62" stroke-width="1.3" stroke-opacity="0.75"/>
<line x1="247" y1="92.12" x2="255" y2="92.12" stroke="#2E8EF6" stroke-width="1.3" stroke-opacity="0.45"/>
<line x1="259" y1="92.12" x2="265" y2="92.12" stroke="#00BC3A" stroke-width="1.3" stroke-opacity="0.75"/>
<circle cx="246.2" cy="92.12" r="2.1" fill="#F96D62" fill-opacity="1"/>
<circle cx="246.2" cy="92.12" r="1.22" fill="none" stroke="#fff" stroke-width="0.5" stroke-opacity="0.65"/>
<circle cx="250.5" cy="92.12" r="2.1" fill="#2E8EF6" fill-opacity="0.5"/>
<circle cx="250.5" cy="92.12" r="1.22" fill="none" stroke="#fff" stroke-width="0.5" stroke-opacity="0.85"/>
<circle cx="262.2" cy="92.12" r="2.1" fill="#00BC3A" fill-opacity="1"/>
<circle cx="262.2" cy="92.12" r="1.22" fill="none" stroke="#fff" stroke-width="0.5" stroke-opacity="0.65"/>
<line x1="262" y1="96.36" x2="268" y2="96.36" stroke="#00BC3A" stroke-width="1.3" stroke-opacity="0.45"/>
<line x1="258" y1="96.36" x2="271" y2="96.36" stroke="#2E8EF6" stroke-width="1.3" stroke-opacity="0.45"/>
<circle cx="265" cy="96.36" r="2.1" fill="#00BC3A" fill-opacity="0.5"/>
<circle cx="265" cy="96.36" r="1.22" fill="none" stroke="#fff" stroke-width="0.5" stroke-opacity="0.85"/>
<circle cx="266.5" cy="96.36" r="2.1" fill="#2E8EF6" fill-opacity="0.5"/>
<circle cx="266.5" cy="96.36" r="1.22" fill="none" stroke="#fff" stroke-width="0.5" stroke-opacity="0.85"/>
<line x1="231" y1="100.6" x2="238" y2="100.6" stroke="#F96D62" stroke-width="1.3" stroke-opacity="0.75"/>
<line x1="229" y1="100.6" x2="252" y2="100.6" stroke="#2E8EF6" stroke-width="1.3" stroke-opacity="0.45"/>
<line x1="247" y1="100.6" x2="257" y2="100.6" stroke="#00BC3A" stroke-width="1.3" stroke-opacity="0.75"/>
<circle cx="234.5" cy="100.6" r="2.1" fill="#F96D62" fill-opacity="1"/>
<circle cx="234.5" cy="100.6" r="1.22" fill="none" stroke="#fff" stroke-width="0.5" stroke-opacity="0.65"/>
<circle cx="241.5" cy="100.6" r="2.1" fill="#2E8EF6" fill-opacity="0.5"/>
<circle cx="241.5" cy="100.6" r="1.22" fill="none" stroke="#fff" stroke-width="0.5" stroke-opacity="0.85"/>
<circle cx="251.3" cy="100.6" r="2.1" fill="#00BC3A" fill-opacity="1"/>
<circle cx="251.3" cy="100.6" r="1.22" fill="none" stroke="#fff" stroke-width="0.5" stroke-opacity="0.65"/>
<line x1="258" y1="104.84" x2="265" y2="104.84" stroke="#00BC3A" stroke-width="1.3" stroke-opacity="0.75"/>
<line x1="263" y1="104.84" x2="270" y2="104.84" stroke="#F96D62" stroke-width="1.3" stroke-opacity="0.75"/>
<line x1="277" y1="104.84" x2="284" y2="104.84" stroke="#2E8EF6" stroke-width="1.3" stroke-opacity="0.75"/>
<circle cx="261" cy="104.84" r="2.1" fill="#00BC3A" fill-opacity="1"/>
<circle cx="261" cy="104.84" r="1.22" fill="none" stroke="#fff" stroke-width="0.5" stroke-opacity="0.65"/>
<circle cx="266.5" cy="104.84" r="2.1" fill="#F96D62" fill-opacity="1"/>
<circle cx="266.5" cy="104.84" r="1.22" fill="none" stroke="#fff" stroke-width="0.5" stroke-opacity="0.65"/>
<circle cx="280.8" cy="104.84" r="2.1" fill="#2E8EF6" fill-opacity="1"/>
<circle cx="280.8" cy="104.84" r="1.22" fill="none" stroke="#fff" stroke-width="0.5" stroke-opacity="0.65"/>
<line x1="257" y1="109.08" x2="263" y2="109.08" stroke="#00BC3A" stroke-width="1.3" stroke-opacity="0.75"/>
<line x1="260" y1="109.08" x2="266" y2="109.08" stroke="#F96D62" stroke-width="1.3" stroke-opacity="0.45"/>
<line x1="266" y1="109.08" x2="273" y2="109.08" stroke="#2E8EF6" stroke-width="1.3" stroke-opacity="0.75"/>
<circle cx="259.6" cy="109.08" r="2.1" fill="#00BC3A" fill-opacity="1"/>
<circle cx="259.6" cy="109.08" r="1.22" fill="none" stroke="#fff" stroke-width="0.5" stroke-opacity="0.65"/>
<circle cx="263" cy="109.08" r="2.1" fill="#F96D62" fill-opacity="0.5"/>
<circle cx="263" cy="109.08" r="1.22" fill="none" stroke="#fff" stroke-width="0.5" stroke-opacity="0.85"/>
<circle cx="269.5" cy="109.08" r="2.1" fill="#2E8EF6" fill-opacity="1"/>
<circle cx="269.5" cy="109.08" r="1.22" fill="none" stroke="#fff" stroke-width="0.5" stroke-opacity="0.65"/>
<line x1="244" y1="113.32" x2="254" y2="113.32" stroke="#00BC3A" stroke-width="1.3" stroke-opacity="0.75"/>
<line x1="263" y1="113.32" x2="273" y2="113.32" stroke="#F96D62" stroke-width="1.3" stroke-opacity="0.45"/>
<line x1="276" y1="113.32" x2="289" y2="113.32" stroke="#2E8EF6" stroke-width="1.3" stroke-opacity="0.75"/>
<circle cx="249" cy="113.32" r="2.1" fill="#00BC3A" fill-opacity="1"/>
<circle cx="249" cy="113.32" r="1.22" fill="none" stroke="#fff" stroke-width="0.5" stroke-opacity="0.65"/>
<circle cx="268.7" cy="113.32" r="2.1" fill="#F96D62" fill-opacity="0.5"/>
<circle cx="268.7" cy="113.32" r="1.22" fill="none" stroke="#fff" stroke-width="0.5" stroke-opacity="0.85"/>
<circle cx="281.8" cy="113.32" r="2.1" fill="#2E8EF6" fill-opacity="1"/>
<circle cx="281.8" cy="113.32" r="1.22" fill="none" stroke="#fff" stroke-width="0.5" stroke-opacity="0.65"/>
<line x1="249" y1="117.56" x2="256" y2="117.56" stroke="#00BC3A" stroke-width="1.3" stroke-opacity="0.75"/>
<line x1="266" y1="117.56" x2="276" y2="117.56" stroke="#F96D62" stroke-width="1.3" stroke-opacity="0.75"/>
<line x1="279" y1="117.56" x2="289" y2="117.56" stroke="#2E8EF6" stroke-width="1.3" stroke-opacity="0.75"/>
<circle cx="251.7" cy="117.56" r="2.1" fill="#00BC3A" fill-opacity="1"/>
<circle cx="251.7" cy="117.56" r="1.22" fill="none" stroke="#fff" stroke-width="0.5" stroke-opacity="0.65"/>
<circle cx="271" cy="117.56" r="2.1" fill="#F96D62" fill-opacity="1"/>
<circle cx="271" cy="117.56" r="1.22" fill="none" stroke="#fff" stroke-width="0.5" stroke-opacity="0.65"/>
<circle cx="284" cy="117.56" r="2.1" fill="#2E8EF6" fill-opacity="1"/>
<circle cx="284" cy="117.56" r="1.22" fill="none" stroke="#fff" stroke-width="0.5" stroke-opacity="0.65"/>
<line x1="235" y1="121.8" x2="248" y2="121.8" stroke="#00BC3A" stroke-width="1.3" stroke-opacity="0.75"/>
<line x1="259" y1="121.8" x2="276" y2="121.8" stroke="#F96D62" stroke-width="1.3" stroke-opacity="0.45"/>
<line x1="307" y1="121.8" x2="321" y2="121.8" stroke="#2E8EF6" stroke-width="1.3" stroke-opacity="0.75"/>
<circle cx="241" cy="121.8" r="2.1" fill="#00BC3A" fill-opacity="1"/>
<circle cx="241" cy="121.8" r="1.22" fill="none" stroke="#fff" stroke-width="0.5" stroke-opacity="0.65"/>
<circle cx="266.3" cy="121.8" r="2.1" fill="#F96D62" fill-opacity="0.5"/>
<circle cx="266.3" cy="121.8" r="1.22" fill="none" stroke="#fff" stroke-width="0.5" stroke-opacity="0.85"/>
<circle cx="313" cy="121.8" r="2.1" fill="#2E8EF6" fill-opacity="1"/>
<circle cx="313" cy="121.8" r="1.22" fill="none" stroke="#fff" stroke-width="0.5" stroke-opacity="0.65"/>
<line x1="253" y1="126.04" x2="260" y2="126.04" stroke="#00BC3A" stroke-width="1.3" stroke-opacity="0.75"/>
<line x1="256" y1="126.04" x2="263" y2="126.04" stroke="#F96D62" stroke-width="1.3" stroke-opacity="0.45"/>
<line x1="271" y1="126.04" x2="277" y2="126.04" stroke="#2E8EF6" stroke-width="1.3" stroke-opacity="0.75"/>
<circle cx="257" cy="126.04" r="2.1" fill="#00BC3A" fill-opacity="1"/>
<circle cx="257" cy="126.04" r="1.22" fill="none" stroke="#fff" stroke-width="0.5" stroke-opacity="0.65"/>
<circle cx="260" cy="126.04" r="2.1" fill="#F96D62" fill-opacity="0.5"/>
<circle cx="260" cy="126.04" r="1.22" fill="none" stroke="#fff" stroke-width="0.5" stroke-opacity="0.85"/>
<circle cx="274" cy="126.04" r="2.1" fill="#2E8EF6" fill-opacity="1"/>
<circle cx="274" cy="126.04" r="1.22" fill="none" stroke="#fff" stroke-width="0.5" stroke-opacity="0.65"/>
<line x1="248" y1="130.28" x2="255" y2="130.28" stroke="#00BC3A" stroke-width="1.3" stroke-opacity="0.75"/>
<line x1="250" y1="130.28" x2="257" y2="130.28" stroke="#F96D62" stroke-width="1.3" stroke-opacity="0.45"/>
<line x1="264" y1="130.28" x2="274" y2="130.28" stroke="#2E8EF6" stroke-width="1.3" stroke-opacity="0.75"/>
<circle cx="251.3" cy="130.28" r="2.1" fill="#00BC3A" fill-opacity="1"/>
<circle cx="251.3" cy="130.28" r="1.22" fill="none" stroke="#fff" stroke-width="0.5" stroke-opacity="0.65"/>
<circle cx="252.7" cy="130.28" r="2.1" fill="#F96D62" fill-opacity="0.5"/>
<circle cx="252.7" cy="130.28" r="1.22" fill="none" stroke="#fff" stroke-width="0.5" stroke-opacity="0.85"/>
<circle cx="269.7" cy="130.28" r="2.1" fill="#2E8EF6" fill-opacity="1"/>
<circle cx="269.7" cy="130.28" r="1.22" fill="none" stroke="#fff" stroke-width="0.5" stroke-opacity="0.65"/>
<line x1="249" y1="134.52" x2="256" y2="134.52" stroke="#00BC3A" stroke-width="1.3" stroke-opacity="0.75"/>
<line x1="253" y1="134.52" x2="260" y2="134.52" stroke="#F96D62" stroke-width="1.3" stroke-opacity="0.45"/>
<line x1="258" y1="134.52" x2="265" y2="134.52" stroke="#2E8EF6" stroke-width="1.3" stroke-opacity="0.45"/>
<circle cx="251.7" cy="134.52" r="2.1" fill="#00BC3A" fill-opacity="1"/>
<circle cx="251.7" cy="134.52" r="1.22" fill="none" stroke="#fff" stroke-width="0.5" stroke-opacity="0.65"/>
<circle cx="255.6" cy="134.52" r="2.1" fill="#F96D62" fill-opacity="0.5"/>
<circle cx="255.6" cy="134.52" r="1.22" fill="none" stroke="#fff" stroke-width="0.5" stroke-opacity="0.85"/>
<circle cx="262.2" cy="134.52" r="2.1" fill="#2E8EF6" fill-opacity="0.5"/>
<circle cx="262.2" cy="134.52" r="1.22" fill="none" stroke="#fff" stroke-width="0.5" stroke-opacity="0.85"/>
<line x1="255" y1="138.76" x2="261" y2="138.76" stroke="#00BC3A" stroke-width="1.3" stroke-opacity="0.75"/>
<line x1="259" y1="138.76" x2="276" y2="138.76" stroke="#F96D62" stroke-width="1.3" stroke-opacity="0.45"/>
<line x1="275" y1="138.76" x2="289" y2="138.76" stroke="#2E8EF6" stroke-width="1.3" stroke-opacity="0.75"/>
<circle cx="258.5" cy="138.76" r="2.1" fill="#00BC3A" fill-opacity="1"/>
<circle cx="258.5" cy="138.76" r="1.22" fill="none" stroke="#fff" stroke-width="0.5" stroke-opacity="0.65"/>
<circle cx="268" cy="138.76" r="2.1" fill="#F96D62" fill-opacity="0.5"/>
<circle cx="268" cy="138.76" r="1.22" fill="none" stroke="#fff" stroke-width="0.5" stroke-opacity="0.85"/>
<circle cx="282.3" cy="138.76" r="2.1" fill="#2E8EF6" fill-opacity="1"/>
<circle cx="282.3" cy="138.76" r="1.22" fill="none" stroke="#fff" stroke-width="0.5" stroke-opacity="0.65"/>
<line x1="249" y1="143" x2="256" y2="143" stroke="#00BC3A" stroke-width="1.3" stroke-opacity="0.75"/>
<line x1="258" y1="143" x2="265" y2="143" stroke="#F96D62" stroke-width="1.3" stroke-opacity="0.45"/>
<line x1="283" y1="143" x2="291" y2="143" stroke="#2E8EF6" stroke-width="1.3" stroke-opacity="0.75"/>
<circle cx="251.7" cy="143" r="2.1" fill="#00BC3A" fill-opacity="1"/>
<circle cx="251.7" cy="143" r="1.22" fill="none" stroke="#fff" stroke-width="0.5" stroke-opacity="0.65"/>
<circle cx="261.9" cy="143" r="2.1" fill="#F96D62" fill-opacity="0.5"/>
<circle cx="261.9" cy="143" r="1.22" fill="none" stroke="#fff" stroke-width="0.5" stroke-opacity="0.85"/>
<circle cx="287.2" cy="143" r="2.1" fill="#2E8EF6" fill-opacity="1"/>
<circle cx="287.2" cy="143" r="1.22" fill="none" stroke="#fff" stroke-width="0.5" stroke-opacity="0.65"/>
<line x1="253" y1="147.24" x2="260" y2="147.24" stroke="#00BC3A" stroke-width="1.3" stroke-opacity="0.75"/>
<line x1="259" y1="147.24" x2="268" y2="147.24" stroke="#2E8EF6" stroke-width="1.3" stroke-opacity="0.45"/>
<circle cx="256.4" cy="147.24" r="2.1" fill="#00BC3A" fill-opacity="1"/>
<circle cx="256.4" cy="147.24" r="1.22" fill="none" stroke="#fff" stroke-width="0.5" stroke-opacity="0.65"/>
<circle cx="262.5" cy="147.24" r="2.1" fill="#2E8EF6" fill-opacity="0.5"/>
<circle cx="262.5" cy="147.24" r="1.22" fill="none" stroke="#fff" stroke-width="0.5" stroke-opacity="0.85"/>
<line x1="255" y1="151.48" x2="267" y2="151.48" stroke="#00BC3A" stroke-width="1.3" stroke-opacity="0.75"/>
<line x1="274" y1="151.48" x2="288" y2="151.48" stroke="#F96D62" stroke-width="1.3" stroke-opacity="0.75"/>
<line x1="313" y1="151.48" x2="328" y2="151.48" stroke="#2E8EF6" stroke-width="1.3" stroke-opacity="0.75"/>
<circle cx="261.2" cy="151.48" r="2.1" fill="#00BC3A" fill-opacity="1"/>
<circle cx="261.2" cy="151.48" r="1.22" fill="none" stroke="#fff" stroke-width="0.5" stroke-opacity="0.65"/>
<circle cx="280.4" cy="151.48" r="2.1" fill="#F96D62" fill-opacity="1"/>
<circle cx="280.4" cy="151.48" r="1.22" fill="none" stroke="#fff" stroke-width="0.5" stroke-opacity="0.65"/>
<circle cx="319.7" cy="151.48" r="2.1" fill="#2E8EF6" fill-opacity="1"/>
<circle cx="319.7" cy="151.48" r="1.22" fill="none" stroke="#fff" stroke-width="0.5" stroke-opacity="0.65"/>
<line x1="258" y1="155.72" x2="270" y2="155.72" stroke="#00BC3A" stroke-width="1.3" stroke-opacity="0.75"/>
<line x1="277" y1="155.72" x2="291" y2="155.72" stroke="#F96D62" stroke-width="1.3" stroke-opacity="0.75"/>
<line x1="315" y1="155.72" x2="333" y2="155.72" stroke="#2E8EF6" stroke-width="1.3" stroke-opacity="0.75"/>
<circle cx="264.4" cy="155.72" r="2.1" fill="#00BC3A" fill-opacity="1"/>
<circle cx="264.4" cy="155.72" r="1.22" fill="none" stroke="#fff" stroke-width="0.5" stroke-opacity="0.65"/>
<circle cx="283.7" cy="155.72" r="2.1" fill="#F96D62" fill-opacity="1"/>
<circle cx="283.7" cy="155.72" r="1.22" fill="none" stroke="#fff" stroke-width="0.5" stroke-opacity="0.65"/>
<circle cx="323" cy="155.72" r="2.1" fill="#2E8EF6" fill-opacity="1"/>
<circle cx="323" cy="155.72" r="1.22" fill="none" stroke="#fff" stroke-width="0.5" stroke-opacity="0.65"/>
<line x1="221" y1="159.96" x2="240" y2="159.96" stroke="#F96D62" stroke-width="1.3" stroke-opacity="0.75"/>
<line x1="235" y1="159.96" x2="248" y2="159.96" stroke="#00BC3A" stroke-width="1.3" stroke-opacity="0.75"/>
<line x1="249" y1="159.96" x2="271" y2="159.96" stroke="#2E8EF6" stroke-width="1.3" stroke-opacity="0.45"/>
<circle cx="231" cy="159.96" r="2.1" fill="#F96D62" fill-opacity="1"/>
<circle cx="231" cy="159.96" r="1.22" fill="none" stroke="#fff" stroke-width="0.5" stroke-opacity="0.65"/>
<circle cx="240" cy="159.96" r="2.1" fill="#00BC3A" fill-opacity="1"/>
<circle cx="240" cy="159.96" r="1.22" fill="none" stroke="#fff" stroke-width="0.5" stroke-opacity="0.65"/>
<circle cx="260" cy="159.96" r="2.1" fill="#2E8EF6" fill-opacity="0.5"/>
<circle cx="260" cy="159.96" r="1.22" fill="none" stroke="#fff" stroke-width="0.5" stroke-opacity="0.85"/>
<line x1="255" y1="164.2" x2="260" y2="164.2" stroke="#00BC3A" stroke-width="1.3" stroke-opacity="0.45"/>
<line x1="256" y1="164.2" x2="262" y2="164.2" stroke="#F96D62" stroke-width="1.3" stroke-opacity="0.45"/>
<line x1="281" y1="164.2" x2="289" y2="164.2" stroke="#2E8EF6" stroke-width="1.3" stroke-opacity="0.75"/>
<circle cx="257.4" cy="164.2" r="2.1" fill="#00BC3A" fill-opacity="0.5"/>
<circle cx="257.4" cy="164.2" r="1.22" fill="none" stroke="#fff" stroke-width="0.5" stroke-opacity="0.85"/>
<circle cx="259.3" cy="164.2" r="2.1" fill="#F96D62" fill-opacity="0.5"/>
<circle cx="259.3" cy="164.2" r="1.22" fill="none" stroke="#fff" stroke-width="0.5" stroke-opacity="0.85"/>
<circle cx="284.7" cy="164.2" r="2.1" fill="#2E8EF6" fill-opacity="1"/>
<circle cx="284.7" cy="164.2" r="1.22" fill="none" stroke="#fff" stroke-width="0.5" stroke-opacity="0.65"/>
<line x1="252" y1="168.44" x2="258" y2="168.44" stroke="#F96D62" stroke-width="1.3" stroke-opacity="0.45"/>
<line x1="258" y1="168.44" x2="264" y2="168.44" stroke="#00BC3A" stroke-width="1.3" stroke-opacity="0.75"/>
<line x1="272" y1="168.44" x2="279" y2="168.44" stroke="#2E8EF6" stroke-width="1.3" stroke-opacity="0.75"/>
<circle cx="255" cy="168.44" r="2.1" fill="#F96D62" fill-opacity="0.5"/>
<circle cx="255" cy="168.44" r="1.22" fill="none" stroke="#fff" stroke-width="0.5" stroke-opacity="0.85"/>
<circle cx="260.7" cy="168.44" r="2.1" fill="#00BC3A" fill-opacity="1"/>
<circle cx="260.7" cy="168.44" r="1.22" fill="none" stroke="#fff" stroke-width="0.5" stroke-opacity="0.65"/>
<circle cx="275.3" cy="168.44" r="2.1" fill="#2E8EF6" fill-opacity="1"/>
<circle cx="275.3" cy="168.44" r="1.22" fill="none" stroke="#fff" stroke-width="0.5" stroke-opacity="0.65"/>
<line x1="255" y1="172.68" x2="262" y2="172.68" stroke="#00BC3A" stroke-width="1.3" stroke-opacity="0.75"/>
<line x1="266" y1="172.68" x2="273" y2="172.68" stroke="#F96D62" stroke-width="1.3" stroke-opacity="0.75"/>
<line x1="293" y1="172.68" x2="309" y2="172.68" stroke="#2E8EF6" stroke-width="1.3" stroke-opacity="0.75"/>
<circle cx="259" cy="172.68" r="2.1" fill="#00BC3A" fill-opacity="1"/>
<circle cx="259" cy="172.68" r="1.22" fill="none" stroke="#fff" stroke-width="0.5" stroke-opacity="0.65"/>
<circle cx="269.2" cy="172.68" r="2.1" fill="#F96D62" fill-opacity="1"/>
<circle cx="269.2" cy="172.68" r="1.22" fill="none" stroke="#fff" stroke-width="0.5" stroke-opacity="0.65"/>
<circle cx="298.5" cy="172.68" r="2.1" fill="#2E8EF6" fill-opacity="1"/>
<circle cx="298.5" cy="172.68" r="1.22" fill="none" stroke="#fff" stroke-width="0.5" stroke-opacity="0.65"/>
<line x1="240" y1="176.92" x2="252" y2="176.92" stroke="#00BC3A" stroke-width="1.3" stroke-opacity="0.45"/>
<line x1="238" y1="176.92" x2="259" y2="176.92" stroke="#F96D62" stroke-width="1.3" stroke-opacity="0.45"/>
<line x1="273" y1="176.92" x2="293" y2="176.92" stroke="#2E8EF6" stroke-width="1.3" stroke-opacity="0.75"/>
<circle cx="245.9" cy="176.92" r="2.1" fill="#00BC3A" fill-opacity="0.5"/>
<circle cx="245.9" cy="176.92" r="1.22" fill="none" stroke="#fff" stroke-width="0.5" stroke-opacity="0.85"/>
<circle cx="250.3" cy="176.92" r="2.1" fill="#F96D62" fill-opacity="0.5"/>
<circle cx="250.3" cy="176.92" r="1.22" fill="none" stroke="#fff" stroke-width="0.5" stroke-opacity="0.85"/>
<circle cx="282.8" cy="176.92" r="2.1" fill="#2E8EF6" fill-opacity="1"/>
<circle cx="282.8" cy="176.92" r="1.22" fill="none" stroke="#fff" stroke-width="0.5" stroke-opacity="0.65"/>
<line x1="249" y1="181.16" x2="256" y2="181.16" stroke="#F96D62" stroke-width="1.3" stroke-opacity="0.45"/>
<line x1="254" y1="181.16" x2="261" y2="181.16" stroke="#2E8EF6" stroke-width="1.3" stroke-opacity="0.45"/>
<line x1="256" y1="181.16" x2="262" y2="181.16" stroke="#00BC3A" stroke-width="1.3" stroke-opacity="0.45"/>
<circle cx="253.2" cy="181.16" r="2.1" fill="#F96D62" fill-opacity="0.5"/>
<circle cx="253.2" cy="181.16" r="1.22" fill="none" stroke="#fff" stroke-width="0.5" stroke-opacity="0.85"/>
<circle cx="257.1" cy="181.16" r="2.1" fill="#2E8EF6" fill-opacity="0.5"/>
<circle cx="257.1" cy="181.16" r="1.22" fill="none" stroke="#fff" stroke-width="0.5" stroke-opacity="0.85"/>
<circle cx="259.3" cy="181.16" r="2.1" fill="#00BC3A" fill-opacity="0.5"/>
<circle cx="259.3" cy="181.16" r="1.22" fill="none" stroke="#fff" stroke-width="0.5" stroke-opacity="0.85"/>
<line x1="237" y1="185.4" x2="254" y2="185.4" stroke="#00BC3A" stroke-width="1.3" stroke-opacity="0.45"/>
<line x1="246" y1="185.4" x2="256" y2="185.4" stroke="#F96D62" stroke-width="1.3" stroke-opacity="0.45"/>
<line x1="277" y1="185.4" x2="296" y2="185.4" stroke="#2E8EF6" stroke-width="1.3" stroke-opacity="0.75"/>
<circle cx="244.7" cy="185.4" r="2.1" fill="#00BC3A" fill-opacity="0.5"/>
<circle cx="244.7" cy="185.4" r="1.22" fill="none" stroke="#fff" stroke-width="0.5" stroke-opacity="0.85"/>
<circle cx="250.5" cy="185.4" r="2.1" fill="#F96D62" fill-opacity="0.5"/>
<circle cx="250.5" cy="185.4" r="1.22" fill="none" stroke="#fff" stroke-width="0.5" stroke-opacity="0.85"/>
<circle cx="286.2" cy="185.4" r="2.1" fill="#2E8EF6" fill-opacity="1"/>
<circle cx="286.2" cy="185.4" r="1.22" fill="none" stroke="#fff" stroke-width="0.5" stroke-opacity="0.65"/>
<line x1="236" y1="189.64" x2="253" y2="189.64" stroke="#00BC3A" stroke-width="1.3" stroke-opacity="0.45"/>
<line x1="245" y1="189.64" x2="254" y2="189.64" stroke="#F96D62" stroke-width="1.3" stroke-opacity="0.45"/>
<line x1="263" y1="189.64" x2="281" y2="189.64" stroke="#2E8EF6" stroke-width="1.3" stroke-opacity="0.45"/>
<circle cx="242.5" cy="189.64" r="2.1" fill="#00BC3A" fill-opacity="0.5"/>
<circle cx="242.5" cy="189.64" r="1.22" fill="none" stroke="#fff" stroke-width="0.5" stroke-opacity="0.85"/>
<circle cx="247" cy="189.64" r="2.1" fill="#F96D62" fill-opacity="0.5"/>
<circle cx="247" cy="189.64" r="1.22" fill="none" stroke="#fff" stroke-width="0.5" stroke-opacity="0.85"/>
<circle cx="271.2" cy="189.64" r="2.1" fill="#2E8EF6" fill-opacity="0.5"/>
<circle cx="271.2" cy="189.64" r="1.22" fill="none" stroke="#fff" stroke-width="0.5" stroke-opacity="0.85"/>
<line x1="239" y1="193.88" x2="246" y2="193.88" stroke="#2E8EF6" stroke-width="1.3" stroke-opacity="0.75"/>
<line x1="243" y1="193.88" x2="250" y2="193.88" stroke="#00BC3A" stroke-width="1.3" stroke-opacity="0.45"/>
<line x1="247" y1="193.88" x2="254" y2="193.88" stroke="#F96D62" stroke-width="1.3" stroke-opacity="0.45"/>
<circle cx="243" cy="193.88" r="2.1" fill="#2E8EF6" fill-opacity="1"/>
<circle cx="243" cy="193.88" r="1.22" fill="none" stroke="#fff" stroke-width="0.5" stroke-opacity="0.65"/>
<circle cx="246.5" cy="193.88" r="2.1" fill="#00BC3A" fill-opacity="0.5"/>
<circle cx="246.5" cy="193.88" r="1.22" fill="none" stroke="#fff" stroke-width="0.5" stroke-opacity="0.85"/>
<circle cx="250.5" cy="193.88" r="2.1" fill="#F96D62" fill-opacity="0.5"/>
<circle cx="250.5" cy="193.88" r="1.22" fill="none" stroke="#fff" stroke-width="0.5" stroke-opacity="0.85"/>
<line x1="220.3" y1="197.2" x2="220.3" y2="198.8" stroke="#333" stroke-width="0.7"/>
<text x="220.3" y="204.3" font-size="6.4" text-anchor="middle" fill="#4D4D4D" stroke="#4D4D4D" stroke-width="0.1">−1.0</text>
<line x1="256.6" y1="197.2" x2="256.6" y2="198.8" stroke="#333" stroke-width="0.7"/>
<text x="256.6" y="204.3" font-size="6.4" text-anchor="middle" fill="#4D4D4D" stroke="#4D4D4D" stroke-width="0.1">0.0</text>
<line x1="292.9" y1="197.2" x2="292.9" y2="198.8" stroke="#333" stroke-width="0.7"/>
<text x="292.9" y="204.3" font-size="6.4" text-anchor="middle" fill="#4D4D4D" stroke="#4D4D4D" stroke-width="0.1">1.0</text>
<line x1="329.2" y1="197.2" x2="329.2" y2="198.8" stroke="#333" stroke-width="0.7"/>
<text x="329.2" y="204.3" font-size="6.4" text-anchor="middle" fill="#4D4D4D" stroke="#4D4D4D" stroke-width="0.1">2.0</text>
<text x="277" y="211.8" font-size="6.1" text-anchor="middle" fill="#000" stroke="#000" stroke-width="0.1">Log FoldChange</text>
<text x="356.4" y="95.2" font-size="6.4" text-anchor="start" fill="#000">type</text>
<line x1="356.8" y1="102.4" x2="363.4" y2="102.4" stroke="#F96D62" stroke-width="1.2"/>
<path d="M357.5 102.4L360.1 100.3L362.7 102.4L360.1 104.5Z" fill="#F96D62"/>
<text x="366.6" y="104.3" font-size="5.3" text-anchor="start" fill="#222">mix</text>
<line x1="356.8" y1="109.5" x2="363.4" y2="109.5" stroke="#00BC3A" stroke-width="1.2"/>
<path d="M357.5 109.5L360.1 107.4L362.7 109.5L360.1 111.6Z" fill="#00BC3A"/>
<text x="366.6" y="111.4" font-size="5.3" text-anchor="start" fill="#222">type 1</text>
<line x1="356.8" y1="116.6" x2="363.4" y2="116.6" stroke="#2E8EF6" stroke-width="1.2"/>
<path d="M357.5 116.6L360.1 114.5L362.7 116.6L360.1 118.7Z" fill="#2E8EF6"/>
<text x="366.6" y="118.5" font-size="5.3" text-anchor="start" fill="#222">type 2</text>
<text x="167.8" y="223.2" font-size="14.9" text-anchor="start" fill="#000" stroke="#000" stroke-width="0.1" style="text-rendering:geometricPrecision">D</text>
<rect x="206.3" y="219.4" width="141" height="183" fill="#fff" stroke="none" stroke-width="0"/>
<line x1="206.45" y1="220.7" x2="347.3" y2="220.7" stroke="#C8C8C8" stroke-width="1" stroke-dasharray="2.25 2.35"/>
<line x1="206.45" y1="224.09" x2="347.3" y2="224.09" stroke="#C8C8C8" stroke-width="1" stroke-dasharray="2.25 2.35"/>
<line x1="206.45" y1="227.48" x2="347.3" y2="227.48" stroke="#C8C8C8" stroke-width="1" stroke-dasharray="2.25 2.35"/>
<line x1="206.45" y1="230.87" x2="347.3" y2="230.87" stroke="#C8C8C8" stroke-width="1" stroke-dasharray="2.25 2.35"/>
<line x1="206.45" y1="234.26" x2="347.3" y2="234.26" stroke="#C8C8C8" stroke-width="1" stroke-dasharray="2.25 2.35"/>
<line x1="206.45" y1="237.65" x2="347.3" y2="237.65" stroke="#C8C8C8" stroke-width="1" stroke-dasharray="2.25 2.35"/>
<line x1="206.45" y1="241.04" x2="347.3" y2="241.04" stroke="#C8C8C8" stroke-width="1" stroke-dasharray="2.25 2.35"/>
<line x1="206.45" y1="244.43" x2="347.3" y2="244.43" stroke="#C8C8C8" stroke-width="1" stroke-dasharray="2.25 2.35"/>
<line x1="206.45" y1="247.82" x2="347.3" y2="247.82" stroke="#C8C8C8" stroke-width="1" stroke-dasharray="2.25 2.35"/>
<line x1="206.45" y1="251.21" x2="347.3" y2="251.21" stroke="#C8C8C8" stroke-width="1" stroke-dasharray="2.25 2.35"/>
<line x1="206.45" y1="254.6" x2="347.3" y2="254.6" stroke="#C8C8C8" stroke-width="1" stroke-dasharray="2.25 2.35"/>
<line x1="206.45" y1="257.99" x2="347.3" y2="257.99" stroke="#C8C8C8" stroke-width="1" stroke-dasharray="2.25 2.35"/>
<line x1="206.45" y1="261.38" x2="347.3" y2="261.38" stroke="#C8C8C8" stroke-width="1" stroke-dasharray="2.25 2.35"/>
<line x1="206.45" y1="264.77" x2="347.3" y2="264.77" stroke="#C8C8C8" stroke-width="1" stroke-dasharray="2.25 2.35"/>
<line x1="206.45" y1="268.16" x2="347.3" y2="268.16" stroke="#C8C8C8" stroke-width="1" stroke-dasharray="2.25 2.35"/>
<line x1="206.45" y1="271.55" x2="347.3" y2="271.55" stroke="#C8C8C8" stroke-width="1" stroke-dasharray="2.25 2.35"/>
<line x1="206.45" y1="274.94" x2="347.3" y2="274.94" stroke="#C8C8C8" stroke-width="1" stroke-dasharray="2.25 2.35"/>
<line x1="206.45" y1="278.33" x2="347.3" y2="278.33" stroke="#C8C8C8" stroke-width="1" stroke-dasharray="2.25 2.35"/>
<line x1="206.45" y1="281.72" x2="347.3" y2="281.72" stroke="#C8C8C8" stroke-width="1" stroke-dasharray="2.25 2.35"/>
<line x1="206.45" y1="285.11" x2="347.3" y2="285.11" stroke="#C8C8C8" stroke-width="1" stroke-dasharray="2.25 2.35"/>
<line x1="206.45" y1="288.5" x2="347.3" y2="288.5" stroke="#C8C8C8" stroke-width="1" stroke-dasharray="2.25 2.35"/>
<line x1="206.45" y1="291.89" x2="347.3" y2="291.89" stroke="#C8C8C8" stroke-width="1" stroke-dasharray="2.25 2.35"/>
<line x1="206.45" y1="295.28" x2="347.3" y2="295.28" stroke="#C8C8C8" stroke-width="1" stroke-dasharray="2.25 2.35"/>
<line x1="206.45" y1="298.67" x2="347.3" y2="298.67" stroke="#C8C8C8" stroke-width="1" stroke-dasharray="2.25 2.35"/>
<line x1="206.45" y1="302.06" x2="347.3" y2="302.06" stroke="#C8C8C8" stroke-width="1" stroke-dasharray="2.25 2.35"/>
<line x1="206.45" y1="305.45" x2="347.3" y2="305.45" stroke="#C8C8C8" stroke-width="1" stroke-dasharray="2.25 2.35"/>
<line x1="206.45" y1="308.84" x2="347.3" y2="308.84" stroke="#C8C8C8" stroke-width="1" stroke-dasharray="2.25 2.35"/>
<line x1="206.45" y1="312.23" x2="347.3" y2="312.23" stroke="#C8C8C8" stroke-width="1" stroke-dasharray="2.25 2.35"/>
<line x1="206.45" y1="315.62" x2="347.3" y2="315.62" stroke="#C8C8C8" stroke-width="1" stroke-dasharray="2.25 2.35"/>
<line x1="206.45" y1="319.01" x2="347.3" y2="319.01" stroke="#C8C8C8" stroke-width="1" stroke-dasharray="2.25 2.35"/>
<line x1="206.45" y1="322.4" x2="347.3" y2="322.4" stroke="#C8C8C8" stroke-width="1" stroke-dasharray="2.25 2.35"/>
<line x1="206.45" y1="325.79" x2="347.3" y2="325.79" stroke="#C8C8C8" stroke-width="1" stroke-dasharray="2.25 2.35"/>
<line x1="206.45" y1="329.18" x2="347.3" y2="329.18" stroke="#C8C8C8" stroke-width="1" stroke-dasharray="2.25 2.35"/>
<line x1="206.45" y1="332.57" x2="347.3" y2="332.57" stroke="#C8C8C8" stroke-width="1" stroke-dasharray="2.25 2.35"/>
<line x1="206.45" y1="335.96" x2="347.3" y2="335.96" stroke="#C8C8C8" stroke-width="1" stroke-dasharray="2.25 2.35"/>
<line x1="206.45" y1="339.35" x2="347.3" y2="339.35" stroke="#C8C8C8" stroke-width="1" stroke-dasharray="2.25 2.35"/>
<line x1="206.45" y1="342.74" x2="347.3" y2="342.74" stroke="#C8C8C8" stroke-width="1" stroke-dasharray="2.25 2.35"/>
<line x1="206.45" y1="346.13" x2="347.3" y2="346.13" stroke="#C8C8C8" stroke-width="1" stroke-dasharray="2.25 2.35"/>
<line x1="206.45" y1="349.52" x2="347.3" y2="349.52" stroke="#C8C8C8" stroke-width="1" stroke-dasharray="2.25 2.35"/>
<line x1="206.45" y1="352.91" x2="347.3" y2="352.91" stroke="#C8C8C8" stroke-width="1" stroke-dasharray="2.25 2.35"/>
<line x1="206.45" y1="356.3" x2="347.3" y2="356.3" stroke="#C8C8C8" stroke-width="1" stroke-dasharray="2.25 2.35"/>
<line x1="206.45" y1="359.69" x2="347.3" y2="359.69" stroke="#C8C8C8" stroke-width="1" stroke-dasharray="2.25 2.35"/>
<line x1="206.45" y1="363.08" x2="347.3" y2="363.08" stroke="#C8C8C8" stroke-width="1" stroke-dasharray="2.25 2.35"/>
<line x1="206.45" y1="366.47" x2="347.3" y2="366.47" stroke="#C8C8C8" stroke-width="1" stroke-dasharray="2.25 2.35"/>
<line x1="206.45" y1="369.86" x2="347.3" y2="369.86" stroke="#C8C8C8" stroke-width="1" stroke-dasharray="2.25 2.35"/>
<line x1="206.45" y1="373.25" x2="347.3" y2="373.25" stroke="#C8C8C8" stroke-width="1" stroke-dasharray="2.25 2.35"/>
<line x1="206.45" y1="376.64" x2="347.3" y2="376.64" stroke="#C8C8C8" stroke-width="1" stroke-dasharray="2.25 2.35"/>
<line x1="206.45" y1="380.03" x2="347.3" y2="380.03" stroke="#C8C8C8" stroke-width="1" stroke-dasharray="2.25 2.35"/>
<line x1="206.45" y1="383.42" x2="347.3" y2="383.42" stroke="#C8C8C8" stroke-width="1" stroke-dasharray="2.25 2.35"/>
<line x1="206.45" y1="386.81" x2="347.3" y2="386.81" stroke="#C8C8C8" stroke-width="1" stroke-dasharray="2.25 2.35"/>
<line x1="206.45" y1="390.2" x2="347.3" y2="390.2" stroke="#C8C8C8" stroke-width="1" stroke-dasharray="2.25 2.35"/>
<line x1="206.45" y1="393.59" x2="347.3" y2="393.59" stroke="#C8C8C8" stroke-width="1" stroke-dasharray="2.25 2.35"/>
<line x1="206.45" y1="396.98" x2="347.3" y2="396.98" stroke="#C8C8C8" stroke-width="1" stroke-dasharray="2.25 2.35"/>
<line x1="206.45" y1="400.37" x2="347.3" y2="400.37" stroke="#C8C8C8" stroke-width="1" stroke-dasharray="2.25 2.35"/>
<line x1="259.1" y1="219.4" x2="259.1" y2="402.4" stroke="#555" stroke-width="0.8" stroke-dasharray="1.6 1.4"/>
<rect x="206.3" y="219.4" width="141" height="183" fill="none" stroke="#B8B8B8" stroke-width="1"/>
<line x1="206.3" y1="219.4" x2="206.3" y2="402.4" stroke="#ABABAB" stroke-width="0.9"/>
<line x1="204.5" y1="220.7" x2="206.3" y2="220.7" stroke="#333" stroke-width="0.8"/>
<text x="203.3" y="222.03" font-size="3.6" text-anchor="end" fill="#666666" stroke="#666666" stroke-width="0.08" style="text-rendering:geometricPrecision">VTN</text>
<line x1="204.5" y1="224.09" x2="206.3" y2="224.09" stroke="#333" stroke-width="0.8"/>
<text x="203.3" y="225.42" font-size="3.6" text-anchor="end" fill="#666666" stroke="#666666" stroke-width="0.08" style="text-rendering:geometricPrecision">VSIG4</text>
<line x1="204.5" y1="227.48" x2="206.3" y2="227.48" stroke="#333" stroke-width="0.8"/>
<text x="203.3" y="228.81" font-size="3.6" text-anchor="end" fill="#666666" stroke="#666666" stroke-width="0.08" style="text-rendering:geometricPrecision">TREM2</text>
<line x1="204.5" y1="230.87" x2="206.3" y2="230.87" stroke="#333" stroke-width="0.8"/>
<text x="203.3" y="232.2" font-size="3.6" text-anchor="end" fill="#666666" stroke="#666666" stroke-width="0.08" style="text-rendering:geometricPrecision">TRDC</text>
<line x1="204.5" y1="234.26" x2="206.3" y2="234.26" stroke="#333" stroke-width="0.8"/>
<text x="203.3" y="235.59" font-size="3.6" text-anchor="end" fill="#666666" stroke="#666666" stroke-width="0.08" style="text-rendering:geometricPrecision">TRBC1</text>
<line x1="204.5" y1="237.65" x2="206.3" y2="237.65" stroke="#333" stroke-width="0.8"/>
<text x="203.3" y="238.98" font-size="3.6" text-anchor="end" fill="#666666" stroke="#666666" stroke-width="0.08" style="text-rendering:geometricPrecision">TRBC2</text>
<line x1="204.5" y1="241.04" x2="206.3" y2="241.04" stroke="#333" stroke-width="0.8"/>
<text x="203.3" y="242.37" font-size="3.6" text-anchor="end" fill="#666666" stroke="#666666" stroke-width="0.08" style="text-rendering:geometricPrecision">SUSD4</text>
<line x1="204.5" y1="244.43" x2="206.3" y2="244.43" stroke="#333" stroke-width="0.8"/>
<text x="203.3" y="245.76" font-size="3.6" text-anchor="end" fill="#666666" stroke="#666666" stroke-width="0.08" style="text-rendering:geometricPrecision">SERPING1</text>
<line x1="204.5" y1="247.82" x2="206.3" y2="247.82" stroke="#333" stroke-width="0.8"/>
<text x="203.3" y="249.15" font-size="3.6" text-anchor="end" fill="#666666" stroke="#666666" stroke-width="0.08" style="text-rendering:geometricPrecision">RGCC</text>
<line x1="204.5" y1="251.21" x2="206.3" y2="251.21" stroke="#333" stroke-width="0.8"/>
<text x="203.3" y="252.54" font-size="3.6" text-anchor="end" fill="#666666" stroke="#666666" stroke-width="0.08" style="text-rendering:geometricPrecision">PHB</text>
<line x1="204.5" y1="254.6" x2="206.3" y2="254.6" stroke="#333" stroke-width="0.8"/>
<text x="203.3" y="255.93" font-size="3.6" text-anchor="end" fill="#666666" stroke="#666666" stroke-width="0.08" style="text-rendering:geometricPrecision">MFAP4</text>
<line x1="204.5" y1="257.99" x2="206.3" y2="257.99" stroke="#333" stroke-width="0.8"/>
<text x="203.3" y="259.32" font-size="3.6" text-anchor="end" fill="#666666" stroke="#666666" stroke-width="0.08" style="text-rendering:geometricPrecision">MASP2</text>
<line x1="204.5" y1="261.38" x2="206.3" y2="261.38" stroke="#333" stroke-width="0.8"/>
<text x="203.3" y="262.71" font-size="3.6" text-anchor="end" fill="#666666" stroke="#666666" stroke-width="0.08" style="text-rendering:geometricPrecision">MASP1</text>
<line x1="204.5" y1="264.77" x2="206.3" y2="264.77" stroke="#333" stroke-width="0.8"/>
<text x="203.3" y="266.1" font-size="3.6" text-anchor="end" fill="#666666" stroke="#666666" stroke-width="0.08" style="text-rendering:geometricPrecision">KRT1</text>
<line x1="204.5" y1="268.16" x2="206.3" y2="268.16" stroke="#333" stroke-width="0.8"/>
<text x="203.3" y="269.49" font-size="3.6" text-anchor="end" fill="#666666" stroke="#666666" stroke-width="0.08" style="text-rendering:geometricPrecision">ITGB2</text>
<line x1="204.5" y1="271.55" x2="206.3" y2="271.55" stroke="#333" stroke-width="0.8"/>
<text x="203.3" y="272.88" font-size="3.6" text-anchor="end" fill="#666666" stroke="#666666" stroke-width="0.08" style="text-rendering:geometricPrecision">ITGAM</text>
<line x1="204.5" y1="274.94" x2="206.3" y2="274.94" stroke="#333" stroke-width="0.8"/>
<text x="203.3" y="276.27" font-size="3.6" text-anchor="end" fill="#666666" stroke="#666666" stroke-width="0.08" style="text-rendering:geometricPrecision">IL1B</text>
<line x1="204.5" y1="278.33" x2="206.3" y2="278.33" stroke="#333" stroke-width="0.8"/>
<text x="203.3" y="279.66" font-size="3.6" text-anchor="end" fill="#666666" stroke="#666666" stroke-width="0.08" style="text-rendering:geometricPrecision">IGKC</text>
<line x1="204.5" y1="281.72" x2="206.3" y2="281.72" stroke="#333" stroke-width="0.8"/>
<text x="203.3" y="283.05" font-size="3.6" text-anchor="end" fill="#666666" stroke="#666666" stroke-width="0.08" style="text-rendering:geometricPrecision">IGHG3</text>
<line x1="204.5" y1="285.11" x2="206.3" y2="285.11" stroke="#333" stroke-width="0.8"/>
<text x="203.3" y="286.44" font-size="3.6" text-anchor="end" fill="#666666" stroke="#666666" stroke-width="0.08" style="text-rendering:geometricPrecision">IGHG1</text>
<line x1="204.5" y1="288.5" x2="206.3" y2="288.5" stroke="#333" stroke-width="0.8"/>
<text x="203.3" y="289.83" font-size="3.6" text-anchor="end" fill="#666666" stroke="#666666" stroke-width="0.08" style="text-rendering:geometricPrecision">FCN3</text>
<line x1="204.5" y1="291.89" x2="206.3" y2="291.89" stroke="#333" stroke-width="0.8"/>
<text x="203.3" y="293.22" font-size="3.6" text-anchor="end" fill="#666666" stroke="#666666" stroke-width="0.08" style="text-rendering:geometricPrecision">CSMD3</text>
<line x1="204.5" y1="295.28" x2="206.3" y2="295.28" stroke="#333" stroke-width="0.8"/>
<text x="203.3" y="296.61" font-size="3.6" text-anchor="end" fill="#666666" stroke="#666666" stroke-width="0.08" style="text-rendering:geometricPrecision">CSMD2</text>
<line x1="204.5" y1="298.67" x2="206.3" y2="298.67" stroke="#333" stroke-width="0.8"/>
<text x="203.3" y="300" font-size="3.6" text-anchor="end" fill="#666666" stroke="#666666" stroke-width="0.08" style="text-rendering:geometricPrecision">CSMD1</text>
<line x1="204.5" y1="302.06" x2="206.3" y2="302.06" stroke="#333" stroke-width="0.8"/>
<text x="203.3" y="303.39" font-size="3.6" text-anchor="end" fill="#666666" stroke="#666666" stroke-width="0.08" style="text-rendering:geometricPrecision">COLEC11</text>
<line x1="204.5" y1="305.45" x2="206.3" y2="305.45" stroke="#333" stroke-width="0.8"/>
<text x="203.3" y="306.78" font-size="3.6" text-anchor="end" fill="#666666" stroke="#666666" stroke-width="0.08" style="text-rendering:geometricPrecision">COLEC10</text>
<line x1="204.5" y1="308.84" x2="206.3" y2="308.84" stroke="#333" stroke-width="0.8"/>
<text x="203.3" y="310.17" font-size="3.6" text-anchor="end" fill="#666666" stroke="#666666" stroke-width="0.08" style="text-rendering:geometricPrecision">CLU</text>
<line x1="204.5" y1="312.23" x2="206.3" y2="312.23" stroke="#333" stroke-width="0.8"/>
<text x="203.3" y="313.56" font-size="3.6" text-anchor="end" fill="#666666" stroke="#666666" stroke-width="0.08" style="text-rendering:geometricPrecision">CFP</text>
<line x1="204.5" y1="315.62" x2="206.3" y2="315.62" stroke="#333" stroke-width="0.8"/>
<text x="203.3" y="316.95" font-size="3.6" text-anchor="end" fill="#666666" stroke="#666666" stroke-width="0.08" style="text-rendering:geometricPrecision">CFI</text>
<line x1="204.5" y1="319.01" x2="206.3" y2="319.01" stroke="#333" stroke-width="0.8"/>
<text x="203.3" y="320.34" font-size="3.6" text-anchor="end" fill="#666666" stroke="#666666" stroke-width="0.08" style="text-rendering:geometricPrecision">CFH</text>
<line x1="204.5" y1="322.4" x2="206.3" y2="322.4" stroke="#333" stroke-width="0.8"/>
<text x="203.3" y="323.73" font-size="3.6" text-anchor="end" fill="#666666" stroke="#666666" stroke-width="0.08" style="text-rendering:geometricPrecision">CFD</text>
<line x1="204.5" y1="325.79" x2="206.3" y2="325.79" stroke="#333" stroke-width="0.8"/>
<text x="203.3" y="327.12" font-size="3.6" text-anchor="end" fill="#666666" stroke="#666666" stroke-width="0.08" style="text-rendering:geometricPrecision">CD93</text>
<line x1="204.5" y1="329.18" x2="206.3" y2="329.18" stroke="#333" stroke-width="0.8"/>
<text x="203.3" y="330.51" font-size="3.6" text-anchor="end" fill="#666666" stroke="#666666" stroke-width="0.08" style="text-rendering:geometricPrecision">CD59</text>
<line x1="204.5" y1="332.57" x2="206.3" y2="332.57" stroke="#333" stroke-width="0.8"/>
<text x="203.3" y="333.9" font-size="3.6" text-anchor="end" fill="#666666" stroke="#666666" stroke-width="0.08" style="text-rendering:geometricPrecision">CD55</text>
<line x1="204.5" y1="335.96" x2="206.3" y2="335.96" stroke="#333" stroke-width="0.8"/>
<text x="203.3" y="337.29" font-size="3.6" text-anchor="end" fill="#666666" stroke="#666666" stroke-width="0.08" style="text-rendering:geometricPrecision">CD46</text>
<line x1="204.5" y1="339.35" x2="206.3" y2="339.35" stroke="#333" stroke-width="0.8"/>
<text x="203.3" y="340.68" font-size="3.6" text-anchor="end" fill="#666666" stroke="#666666" stroke-width="0.08" style="text-rendering:geometricPrecision">C9</text>
<line x1="204.5" y1="342.74" x2="206.3" y2="342.74" stroke="#333" stroke-width="0.8"/>
<text x="203.3" y="344.07" font-size="3.6" text-anchor="end" fill="#666666" stroke="#666666" stroke-width="0.08" style="text-rendering:geometricPrecision">C8B</text>
<line x1="204.5" y1="346.13" x2="206.3" y2="346.13" stroke="#333" stroke-width="0.8"/>
<text x="203.3" y="347.46" font-size="3.6" text-anchor="end" fill="#666666" stroke="#666666" stroke-width="0.08" style="text-rendering:geometricPrecision">C7</text>
<line x1="204.5" y1="349.52" x2="206.3" y2="349.52" stroke="#333" stroke-width="0.8"/>
<text x="203.3" y="350.85" font-size="3.6" text-anchor="end" fill="#666666" stroke="#666666" stroke-width="0.08" style="text-rendering:geometricPrecision">C6</text>
<line x1="204.5" y1="352.91" x2="206.3" y2="352.91" stroke="#333" stroke-width="0.8"/>
<text x="203.3" y="354.24" font-size="3.6" text-anchor="end" fill="#666666" stroke="#666666" stroke-width="0.08" style="text-rendering:geometricPrecision">C5AR1</text>
<line x1="204.5" y1="356.3" x2="206.3" y2="356.3" stroke="#333" stroke-width="0.8"/>
<text x="203.3" y="357.63" font-size="3.6" text-anchor="end" fill="#666666" stroke="#666666" stroke-width="0.08" style="text-rendering:geometricPrecision">C5</text>
<line x1="204.5" y1="359.69" x2="206.3" y2="359.69" stroke="#333" stroke-width="0.8"/>
<text x="203.3" y="361.02" font-size="3.6" text-anchor="end" fill="#666666" stroke="#666666" stroke-width="0.08" style="text-rendering:geometricPrecision">C4BPA</text>
<line x1="204.5" y1="363.08" x2="206.3" y2="363.08" stroke="#333" stroke-width="0.8"/>
<text x="203.3" y="364.41" font-size="3.6" text-anchor="end" fill="#666666" stroke="#666666" stroke-width="0.08" style="text-rendering:geometricPrecision">C4B</text>
<line x1="204.5" y1="366.47" x2="206.3" y2="366.47" stroke="#333" stroke-width="0.8"/>
<text x="203.3" y="367.8" font-size="3.6" text-anchor="end" fill="#666666" stroke="#666666" stroke-width="0.08" style="text-rendering:geometricPrecision">C4A</text>
<line x1="204.5" y1="369.86" x2="206.3" y2="369.86" stroke="#333" stroke-width="0.8"/>
<text x="203.3" y="371.19" font-size="3.6" text-anchor="end" fill="#666666" stroke="#666666" stroke-width="0.08" style="text-rendering:geometricPrecision">C3</text>
<line x1="204.5" y1="373.25" x2="206.3" y2="373.25" stroke="#333" stroke-width="0.8"/>
<text x="203.3" y="374.58" font-size="3.6" text-anchor="end" fill="#666666" stroke="#666666" stroke-width="0.08" style="text-rendering:geometricPrecision">C2</text>
<line x1="204.5" y1="376.64" x2="206.3" y2="376.64" stroke="#333" stroke-width="0.8"/>
<text x="203.3" y="377.97" font-size="3.6" text-anchor="end" fill="#666666" stroke="#666666" stroke-width="0.08" style="text-rendering:geometricPrecision">C1S</text>
<line x1="204.5" y1="380.03" x2="206.3" y2="380.03" stroke="#333" stroke-width="0.8"/>
<text x="203.3" y="381.36" font-size="3.6" text-anchor="end" fill="#666666" stroke="#666666" stroke-width="0.08" style="text-rendering:geometricPrecision">C1RL</text>
<line x1="204.5" y1="383.42" x2="206.3" y2="383.42" stroke="#333" stroke-width="0.8"/>
<text x="203.3" y="384.75" font-size="3.6" text-anchor="end" fill="#666666" stroke="#666666" stroke-width="0.08" style="text-rendering:geometricPrecision">C1R</text>
<line x1="204.5" y1="386.81" x2="206.3" y2="386.81" stroke="#333" stroke-width="0.8"/>
<text x="203.3" y="388.14" font-size="3.6" text-anchor="end" fill="#666666" stroke="#666666" stroke-width="0.08" style="text-rendering:geometricPrecision">C1QC</text>
<line x1="204.5" y1="390.2" x2="206.3" y2="390.2" stroke="#333" stroke-width="0.8"/>
<text x="203.3" y="391.53" font-size="3.6" text-anchor="end" fill="#666666" stroke="#666666" stroke-width="0.08" style="text-rendering:geometricPrecision">C1QBP</text>
<line x1="204.5" y1="393.59" x2="206.3" y2="393.59" stroke="#333" stroke-width="0.8"/>
<text x="203.3" y="394.92" font-size="3.6" text-anchor="end" fill="#666666" stroke="#666666" stroke-width="0.08" style="text-rendering:geometricPrecision">C1QB</text>
<line x1="204.5" y1="396.98" x2="206.3" y2="396.98" stroke="#333" stroke-width="0.8"/>
<text x="203.3" y="398.31" font-size="3.6" text-anchor="end" fill="#666666" stroke="#666666" stroke-width="0.08" style="text-rendering:geometricPrecision">C1QA</text>
<line x1="204.5" y1="400.37" x2="206.3" y2="400.37" stroke="#333" stroke-width="0.8"/>
<text x="203.3" y="401.7" font-size="3.6" text-anchor="end" fill="#666666" stroke="#666666" stroke-width="0.08" style="text-rendering:geometricPrecision">A2M</text>
<line x1="256" y1="220.7" x2="262" y2="220.7" stroke="#00BC3A" stroke-width="1.3" stroke-opacity="0.75"/>
<line x1="260" y1="220.7" x2="266" y2="220.7" stroke="#2E8EF6" stroke-width="1.3" stroke-opacity="0.45"/>
<line x1="265" y1="220.7" x2="272" y2="220.7" stroke="#F96D62" stroke-width="1.3" stroke-opacity="0.45"/>
<circle cx="259" cy="220.7" r="1.8" fill="#00BC3A" fill-opacity="1"/>
<circle cx="259" cy="220.7" r="1.04" fill="none" stroke="#fff" stroke-width="0.5" stroke-opacity="0.65"/>
<circle cx="263.6" cy="220.7" r="1.8" fill="#2E8EF6" fill-opacity="0.5"/>
<circle cx="263.6" cy="220.7" r="1.04" fill="none" stroke="#fff" stroke-width="0.5" stroke-opacity="0.85"/>
<circle cx="268" cy="220.7" r="1.8" fill="#F96D62" fill-opacity="0.5"/>
<circle cx="268" cy="220.7" r="1.04" fill="none" stroke="#fff" stroke-width="0.5" stroke-opacity="0.85"/>
<line x1="231" y1="224.09" x2="247" y2="224.09" stroke="#00BC3A" stroke-width="1.3" stroke-opacity="0.75"/>
<line x1="253" y1="224.09" x2="269" y2="224.09" stroke="#F96D62" stroke-width="1.3" stroke-opacity="0.45"/>
<line x1="293" y1="224.09" x2="309" y2="224.09" stroke="#2E8EF6" stroke-width="1.3" stroke-opacity="0.75"/>
<circle cx="238.9" cy="224.09" r="1.8" fill="#00BC3A" fill-opacity="1"/>
<circle cx="238.9" cy="224.09" r="1.04" fill="none" stroke="#fff" stroke-width="0.5" stroke-opacity="0.65"/>
<circle cx="261.2" cy="224.09" r="1.8" fill="#F96D62" fill-opacity="0.5"/>
<circle cx="261.2" cy="224.09" r="1.04" fill="none" stroke="#fff" stroke-width="0.5" stroke-opacity="0.85"/>
<circle cx="301.6" cy="224.09" r="1.8" fill="#2E8EF6" fill-opacity="1"/>
<circle cx="301.6" cy="224.09" r="1.04" fill="none" stroke="#fff" stroke-width="0.5" stroke-opacity="0.65"/>
<line x1="224" y1="227.48" x2="238" y2="227.48" stroke="#F96D62" stroke-width="1.3" stroke-opacity="0.45"/>
<line x1="232" y1="227.48" x2="244" y2="227.48" stroke="#2E8EF6" stroke-width="1.3" stroke-opacity="0.45"/>
<line x1="231" y1="227.48" x2="252" y2="227.48" stroke="#00BC3A" stroke-width="1.3" stroke-opacity="0.75"/>
<circle cx="232.4" cy="227.48" r="1.8" fill="#F96D62" fill-opacity="0.5"/>
<circle cx="232.4" cy="227.48" r="1.04" fill="none" stroke="#fff" stroke-width="0.5" stroke-opacity="0.85"/>
<circle cx="237.7" cy="227.48" r="1.8" fill="#2E8EF6" fill-opacity="0.5"/>
<circle cx="237.7" cy="227.48" r="1.04" fill="none" stroke="#fff" stroke-width="0.5" stroke-opacity="0.85"/>
<circle cx="245" cy="227.48" r="1.8" fill="#00BC3A" fill-opacity="1"/>
<circle cx="245" cy="227.48" r="1.04" fill="none" stroke="#fff" stroke-width="0.5" stroke-opacity="0.65"/>
<line x1="225" y1="230.87" x2="241" y2="230.87" stroke="#2E8EF6" stroke-width="1.3" stroke-opacity="0.75"/>
<line x1="230" y1="230.87" x2="242" y2="230.87" stroke="#F96D62" stroke-width="1.3" stroke-opacity="0.45"/>
<line x1="261" y1="230.87" x2="273" y2="230.87" stroke="#00BC3A" stroke-width="1.3" stroke-opacity="0.75"/>
<circle cx="234.3" cy="230.87" r="1.8" fill="#2E8EF6" fill-opacity="1"/>
<circle cx="234.3" cy="230.87" r="1.04" fill="none" stroke="#fff" stroke-width="0.5" stroke-opacity="0.65"/>
<circle cx="236.3" cy="230.87" r="1.8" fill="#F96D62" fill-opacity="0.5"/>
<circle cx="236.3" cy="230.87" r="1.04" fill="none" stroke="#fff" stroke-width="0.5" stroke-opacity="0.85"/>
<circle cx="266.8" cy="230.87" r="1.8" fill="#00BC3A" fill-opacity="1"/>
<circle cx="266.8" cy="230.87" r="1.04" fill="none" stroke="#fff" stroke-width="0.5" stroke-opacity="0.65"/>
<line x1="235" y1="234.26" x2="247" y2="234.26" stroke="#2E8EF6" stroke-width="1.3" stroke-opacity="0.75"/>
<line x1="255" y1="234.26" x2="261" y2="234.26" stroke="#00BC3A" stroke-width="1.3" stroke-opacity="0.75"/>
<circle cx="240.4" cy="234.26" r="1.8" fill="#2E8EF6" fill-opacity="1"/>
<circle cx="240.4" cy="234.26" r="1.04" fill="none" stroke="#fff" stroke-width="0.5" stroke-opacity="0.65"/>
<circle cx="258.1" cy="234.26" r="1.8" fill="#00BC3A" fill-opacity="1"/>
<circle cx="258.1" cy="234.26" r="1.04" fill="none" stroke="#fff" stroke-width="0.5" stroke-opacity="0.65"/>
<line x1="230" y1="237.65" x2="245" y2="237.65" stroke="#00BC3A" stroke-width="1.3" stroke-opacity="0.75"/>
<line x1="237" y1="237.65" x2="250" y2="237.65" stroke="#2E8EF6" stroke-width="1.3" stroke-opacity="0.45"/>
<line x1="244" y1="237.65" x2="255" y2="237.65" stroke="#F96D62" stroke-width="1.3" stroke-opacity="0.45"/>
<circle cx="238.2" cy="237.65" r="1.8" fill="#00BC3A" fill-opacity="1"/>
<circle cx="238.2" cy="237.65" r="1.04" fill="none" stroke="#fff" stroke-width="0.5" stroke-opacity="0.65"/>
<circle cx="243.6" cy="237.65" r="1.8" fill="#2E8EF6" fill-opacity="0.5"/>
<circle cx="243.6" cy="237.65" r="1.04" fill="none" stroke="#fff" stroke-width="0.5" stroke-opacity="0.85"/>
<circle cx="247.9" cy="237.65" r="1.8" fill="#F96D62" fill-opacity="0.5"/>
<circle cx="247.9" cy="237.65" r="1.04" fill="none" stroke="#fff" stroke-width="0.5" stroke-opacity="0.85"/>
<line x1="255" y1="241.04" x2="262" y2="241.04" stroke="#2E8EF6" stroke-width="1.3" stroke-opacity="0.45"/>
<line x1="259" y1="241.04" x2="265" y2="241.04" stroke="#00BC3A" stroke-width="1.3" stroke-opacity="0.75"/>
<circle cx="258.5" cy="241.04" r="1.8" fill="#2E8EF6" fill-opacity="0.5"/>
<circle cx="258.5" cy="241.04" r="1.04" fill="none" stroke="#fff" stroke-width="0.5" stroke-opacity="0.85"/>
<circle cx="262.2" cy="241.04" r="1.8" fill="#00BC3A" fill-opacity="1"/>
<circle cx="262.2" cy="241.04" r="1.04" fill="none" stroke="#fff" stroke-width="0.5" stroke-opacity="0.65"/>
<line x1="262" y1="244.43" x2="268" y2="244.43" stroke="#F96D62" stroke-width="1.3" stroke-opacity="0.45"/>
<line x1="279" y1="244.43" x2="287" y2="244.43" stroke="#2E8EF6" stroke-width="1.3" stroke-opacity="0.75"/>
<circle cx="265.4" cy="244.43" r="1.8" fill="#F96D62" fill-opacity="0.5"/>
<circle cx="265.4" cy="244.43" r="1.04" fill="none" stroke="#fff" stroke-width="0.5" stroke-opacity="0.85"/>
<circle cx="282.8" cy="244.43" r="1.8" fill="#2E8EF6" fill-opacity="1"/>
<circle cx="282.8" cy="244.43" r="1.04" fill="none" stroke="#fff" stroke-width="0.5" stroke-opacity="0.65"/>
<line x1="258" y1="247.82" x2="264" y2="247.82" stroke="#00BC3A" stroke-width="1.3" stroke-opacity="0.75"/>
<line x1="262" y1="247.82" x2="268" y2="247.82" stroke="#F96D62" stroke-width="1.3" stroke-opacity="0.45"/>
<line x1="267" y1="247.82" x2="273" y2="247.82" stroke="#2E8EF6" stroke-width="1.3" stroke-opacity="0.75"/>
<circle cx="261.5" cy="247.82" r="1.8" fill="#00BC3A" fill-opacity="1"/>
<circle cx="261.5" cy="247.82" r="1.04" fill="none" stroke="#fff" stroke-width="0.5" stroke-opacity="0.65"/>
<circle cx="264.4" cy="247.82" r="1.8" fill="#F96D62" fill-opacity="0.5"/>
<circle cx="264.4" cy="247.82" r="1.04" fill="none" stroke="#fff" stroke-width="0.5" stroke-opacity="0.85"/>
<circle cx="270.2" cy="247.82" r="1.8" fill="#2E8EF6" fill-opacity="1"/>
<circle cx="270.2" cy="247.82" r="1.04" fill="none" stroke="#fff" stroke-width="0.5" stroke-opacity="0.65"/>
<line x1="253" y1="251.21" x2="259" y2="251.21" stroke="#F96D62" stroke-width="1.3" stroke-opacity="0.45"/>
<line x1="256" y1="251.21" x2="262" y2="251.21" stroke="#2E8EF6" stroke-width="1.3" stroke-opacity="0.45"/>
<line x1="258" y1="251.21" x2="264" y2="251.21" stroke="#00BC3A" stroke-width="1.3" stroke-opacity="0.75"/>
<circle cx="255.6" cy="251.21" r="1.8" fill="#F96D62" fill-opacity="0.5"/>
<circle cx="255.6" cy="251.21" r="1.04" fill="none" stroke="#fff" stroke-width="0.5" stroke-opacity="0.85"/>
<circle cx="259" cy="251.21" r="1.8" fill="#2E8EF6" fill-opacity="0.5"/>
<circle cx="259" cy="251.21" r="1.04" fill="none" stroke="#fff" stroke-width="0.5" stroke-opacity="0.85"/>
<circle cx="260.7" cy="251.21" r="1.8" fill="#00BC3A" fill-opacity="1"/>
<circle cx="260.7" cy="251.21" r="1.04" fill="none" stroke="#fff" stroke-width="0.5" stroke-opacity="0.65"/>
<line x1="247" y1="254.6" x2="257" y2="254.6" stroke="#2E8EF6" stroke-width="1.3" stroke-opacity="0.45"/>
<line x1="259" y1="254.6" x2="269" y2="254.6" stroke="#00BC3A" stroke-width="1.3" stroke-opacity="0.75"/>
<circle cx="252.7" cy="254.6" r="1.8" fill="#2E8EF6" fill-opacity="0.5"/>
<circle cx="252.7" cy="254.6" r="1.04" fill="none" stroke="#fff" stroke-width="0.5" stroke-opacity="0.85"/>
<circle cx="263.6" cy="254.6" r="1.8" fill="#00BC3A" fill-opacity="1"/>
<circle cx="263.6" cy="254.6" r="1.04" fill="none" stroke="#fff" stroke-width="0.5" stroke-opacity="0.65"/>
<line x1="245" y1="257.99" x2="263" y2="257.99" stroke="#00BC3A" stroke-width="1.3" stroke-opacity="0.75"/>
<line x1="281" y1="257.99" x2="299" y2="257.99" stroke="#F96D62" stroke-width="1.3" stroke-opacity="0.75"/>
<line x1="311" y1="257.99" x2="327" y2="257.99" stroke="#2E8EF6" stroke-width="1.3" stroke-opacity="0.75"/>
<circle cx="254.9" cy="257.99" r="1.8" fill="#00BC3A" fill-opacity="1"/>
<circle cx="254.9" cy="257.99" r="1.04" fill="none" stroke="#fff" stroke-width="0.5" stroke-opacity="0.65"/>
<circle cx="290.5" cy="257.99" r="1.8" fill="#F96D62" fill-opacity="1"/>
<circle cx="290.5" cy="257.99" r="1.04" fill="none" stroke="#fff" stroke-width="0.5" stroke-opacity="0.65"/>
<circle cx="319.5" cy="257.99" r="1.8" fill="#2E8EF6" fill-opacity="1"/>
<circle cx="319.5" cy="257.99" r="1.04" fill="none" stroke="#fff" stroke-width="0.5" stroke-opacity="0.65"/>
<line x1="255" y1="261.38" x2="262" y2="261.38" stroke="#00BC3A" stroke-width="1.3" stroke-opacity="0.75"/>
<line x1="262" y1="261.38" x2="268" y2="261.38" stroke="#F96D62" stroke-width="1.3" stroke-opacity="0.45"/>
<line x1="268" y1="261.38" x2="277" y2="261.38" stroke="#2E8EF6" stroke-width="1.3" stroke-opacity="0.75"/>
<circle cx="258.6" cy="261.38" r="1.8" fill="#00BC3A" fill-opacity="1"/>
<circle cx="258.6" cy="261.38" r="1.04" fill="none" stroke="#fff" stroke-width="0.5" stroke-opacity="0.65"/>
<circle cx="265" cy="261.38" r="1.8" fill="#F96D62" fill-opacity="0.5"/>
<circle cx="265" cy="261.38" r="1.04" fill="none" stroke="#fff" stroke-width="0.5" stroke-opacity="0.85"/>
<circle cx="271.6" cy="261.38" r="1.8" fill="#2E8EF6" fill-opacity="1"/>
<circle cx="271.6" cy="261.38" r="1.04" fill="none" stroke="#fff" stroke-width="0.5" stroke-opacity="0.65"/>
<line x1="252" y1="264.77" x2="259" y2="264.77" stroke="#00BC3A" stroke-width="1.3" stroke-opacity="0.75"/>
<line x1="253" y1="264.77" x2="267" y2="264.77" stroke="#2E8EF6" stroke-width="1.3" stroke-opacity="0.45"/>
<circle cx="254.9" cy="264.77" r="1.8" fill="#00BC3A" fill-opacity="1"/>
<circle cx="254.9" cy="264.77" r="1.04" fill="none" stroke="#fff" stroke-width="0.5" stroke-opacity="0.65"/>
<circle cx="262.2" cy="264.77" r="1.8" fill="#2E8EF6" fill-opacity="0.5"/>
<circle cx="262.2" cy="264.77" r="1.04" fill="none" stroke="#fff" stroke-width="0.5" stroke-opacity="0.85"/>
<line x1="234" y1="268.16" x2="245" y2="268.16" stroke="#F96D62" stroke-width="1.3" stroke-opacity="0.75"/>
<line x1="239" y1="268.16" x2="248" y2="268.16" stroke="#00BC3A" stroke-width="1.3" stroke-opacity="0.45"/>
<line x1="260" y1="268.16" x2="273" y2="268.16" stroke="#2E8EF6" stroke-width="1.3" stroke-opacity="0.45"/>
<circle cx="239.6" cy="268.16" r="1.8" fill="#F96D62" fill-opacity="1"/>
<circle cx="239.6" cy="268.16" r="1.04" fill="none" stroke="#fff" stroke-width="0.5" stroke-opacity="0.65"/>
<circle cx="243" cy="268.16" r="1.8" fill="#00BC3A" fill-opacity="0.5"/>
<circle cx="243" cy="268.16" r="1.04" fill="none" stroke="#fff" stroke-width="0.5" stroke-opacity="0.85"/>
<circle cx="266.8" cy="268.16" r="1.8" fill="#2E8EF6" fill-opacity="0.5"/>
<circle cx="266.8" cy="268.16" r="1.04" fill="none" stroke="#fff" stroke-width="0.5" stroke-opacity="0.85"/>
<line x1="235" y1="271.55" x2="244" y2="271.55" stroke="#F96D62" stroke-width="1.3" stroke-opacity="0.75"/>
<line x1="243" y1="271.55" x2="250" y2="271.55" stroke="#00BC3A" stroke-width="1.3" stroke-opacity="0.45"/>
<line x1="243" y1="271.55" x2="253" y2="271.55" stroke="#2E8EF6" stroke-width="1.3" stroke-opacity="0.45"/>
<circle cx="239.6" cy="271.55" r="1.8" fill="#F96D62" fill-opacity="1"/>
<circle cx="239.6" cy="271.55" r="1.04" fill="none" stroke="#fff" stroke-width="0.5" stroke-opacity="0.65"/>
<circle cx="246.2" cy="271.55" r="1.8" fill="#00BC3A" fill-opacity="0.5"/>
<circle cx="246.2" cy="271.55" r="1.04" fill="none" stroke="#fff" stroke-width="0.5" stroke-opacity="0.85"/>
<circle cx="249.8" cy="271.55" r="1.8" fill="#2E8EF6" fill-opacity="0.5"/>
<circle cx="249.8" cy="271.55" r="1.04" fill="none" stroke="#fff" stroke-width="0.5" stroke-opacity="0.85"/>
<line x1="233" y1="274.94" x2="248" y2="274.94" stroke="#00BC3A" stroke-width="1.3" stroke-opacity="0.75"/>
<line x1="245" y1="274.94" x2="265" y2="274.94" stroke="#F96D62" stroke-width="1.3" stroke-opacity="0.45"/>
<line x1="288" y1="274.94" x2="313" y2="274.94" stroke="#2E8EF6" stroke-width="1.3" stroke-opacity="0.75"/>
<circle cx="241.5" cy="274.94" r="1.8" fill="#00BC3A" fill-opacity="1"/>
<circle cx="241.5" cy="274.94" r="1.04" fill="none" stroke="#fff" stroke-width="0.5" stroke-opacity="0.65"/>
<circle cx="254.2" cy="274.94" r="1.8" fill="#F96D62" fill-opacity="0.5"/>
<circle cx="254.2" cy="274.94" r="1.04" fill="none" stroke="#fff" stroke-width="0.5" stroke-opacity="0.85"/>
<circle cx="299.3" cy="274.94" r="1.8" fill="#2E8EF6" fill-opacity="1"/>
<circle cx="299.3" cy="274.94" r="1.04" fill="none" stroke="#fff" stroke-width="0.5" stroke-opacity="0.65"/>
<line x1="231" y1="278.33" x2="248" y2="278.33" stroke="#00BC3A" stroke-width="1.3" stroke-opacity="0.45"/>
<line x1="243" y1="278.33" x2="256" y2="278.33" stroke="#F96D62" stroke-width="1.3" stroke-opacity="0.45"/>
<line x1="255" y1="278.33" x2="265" y2="278.33" stroke="#2E8EF6" stroke-width="1.3" stroke-opacity="0.45"/>
<circle cx="242.5" cy="278.33" r="1.8" fill="#00BC3A" fill-opacity="0.5"/>
<circle cx="242.5" cy="278.33" r="1.04" fill="none" stroke="#fff" stroke-width="0.5" stroke-opacity="0.85"/>
<circle cx="249" cy="278.33" r="1.8" fill="#F96D62" fill-opacity="0.5"/>
<circle cx="249" cy="278.33" r="1.04" fill="none" stroke="#fff" stroke-width="0.5" stroke-opacity="0.85"/>
<circle cx="260" cy="278.33" r="1.8" fill="#2E8EF6" fill-opacity="0.5"/>
<circle cx="260" cy="278.33" r="1.04" fill="none" stroke="#fff" stroke-width="0.5" stroke-opacity="0.85"/>
<line x1="246" y1="281.72" x2="260" y2="281.72" stroke="#00BC3A" stroke-width="1.3" stroke-opacity="0.75"/>
<line x1="260" y1="281.72" x2="270" y2="281.72" stroke="#F96D62" stroke-width="1.3" stroke-opacity="0.45"/>
<line x1="269" y1="281.72" x2="288" y2="281.72" stroke="#2E8EF6" stroke-width="1.3" stroke-opacity="0.45"/>
<circle cx="254.9" cy="281.72" r="1.8" fill="#00BC3A" fill-opacity="1"/>
<circle cx="254.9" cy="281.72" r="1.04" fill="none" stroke="#fff" stroke-width="0.5" stroke-opacity="0.65"/>
<circle cx="265" cy="281.72" r="1.8" fill="#F96D62" fill-opacity="0.5"/>
<circle cx="265" cy="281.72" r="1.04" fill="none" stroke="#fff" stroke-width="0.5" stroke-opacity="0.85"/>
<circle cx="277.9" cy="281.72" r="1.8" fill="#2E8EF6" fill-opacity="0.5"/>
<circle cx="277.9" cy="281.72" r="1.04" fill="none" stroke="#fff" stroke-width="0.5" stroke-opacity="0.85"/>
<line x1="249" y1="285.11" x2="264" y2="285.11" stroke="#00BC3A" stroke-width="1.3" stroke-opacity="0.45"/>
<line x1="249" y1="285.11" x2="271" y2="285.11" stroke="#F96D62" stroke-width="1.3" stroke-opacity="0.45"/>
<line x1="272" y1="285.11" x2="303" y2="285.11" stroke="#2E8EF6" stroke-width="1.3" stroke-opacity="0.45"/>
<circle cx="261.9" cy="285.11" r="1.8" fill="#00BC3A" fill-opacity="0.5"/>
<circle cx="261.9" cy="285.11" r="1.04" fill="none" stroke="#fff" stroke-width="0.5" stroke-opacity="0.85"/>
<circle cx="263" cy="285.11" r="1.8" fill="#F96D62" fill-opacity="0.5"/>
<circle cx="263" cy="285.11" r="1.04" fill="none" stroke="#fff" stroke-width="0.5" stroke-opacity="0.85"/>
<circle cx="287.2" cy="285.11" r="1.8" fill="#2E8EF6" fill-opacity="0.5"/>
<circle cx="287.2" cy="285.11" r="1.04" fill="none" stroke="#fff" stroke-width="0.5" stroke-opacity="0.85"/>
<line x1="257" y1="288.5" x2="263" y2="288.5" stroke="#2E8EF6" stroke-width="1.3" stroke-opacity="0.45"/>
<line x1="260" y1="288.5" x2="266" y2="288.5" stroke="#00BC3A" stroke-width="1.3" stroke-opacity="0.75"/>
<circle cx="260" cy="288.5" r="1.8" fill="#2E8EF6" fill-opacity="0.5"/>
<circle cx="260" cy="288.5" r="1.04" fill="none" stroke="#fff" stroke-width="0.5" stroke-opacity="0.85"/>
<circle cx="263" cy="288.5" r="1.8" fill="#00BC3A" fill-opacity="1"/>
<circle cx="263" cy="288.5" r="1.04" fill="none" stroke="#fff" stroke-width="0.5" stroke-opacity="0.65"/>
<line x1="255" y1="291.89" x2="262" y2="291.89" stroke="#00BC3A" stroke-width="1.3" stroke-opacity="0.75"/>
<line x1="262" y1="291.89" x2="268" y2="291.89" stroke="#2E8EF6" stroke-width="1.3" stroke-opacity="0.45"/>
<line x1="265" y1="291.89" x2="272" y2="291.89" stroke="#F96D62" stroke-width="1.3" stroke-opacity="0.75"/>
<circle cx="259" cy="291.89" r="1.8" fill="#00BC3A" fill-opacity="1"/>
<circle cx="259" cy="291.89" r="1.04" fill="none" stroke="#fff" stroke-width="0.5" stroke-opacity="0.65"/>
<circle cx="265.8" cy="291.89" r="1.8" fill="#2E8EF6" fill-opacity="0.5"/>
<circle cx="265.8" cy="291.89" r="1.04" fill="none" stroke="#fff" stroke-width="0.5" stroke-opacity="0.85"/>
<circle cx="268.5" cy="291.89" r="1.8" fill="#F96D62" fill-opacity="1"/>
<circle cx="268.5" cy="291.89" r="1.04" fill="none" stroke="#fff" stroke-width="0.5" stroke-opacity="0.65"/>
<line x1="256" y1="295.28" x2="266" y2="295.28" stroke="#2E8EF6" stroke-width="1.3" stroke-opacity="0.45"/>
<circle cx="261.9" cy="295.28" r="1.8" fill="#2E8EF6" fill-opacity="0.5"/>
<circle cx="261.9" cy="295.28" r="1.04" fill="none" stroke="#fff" stroke-width="0.5" stroke-opacity="0.85"/>
<line x1="249" y1="298.67" x2="263" y2="298.67" stroke="#F96D62" stroke-width="1.3" stroke-opacity="0.45"/>
<line x1="265" y1="298.67" x2="285" y2="298.67" stroke="#2E8EF6" stroke-width="1.3" stroke-opacity="0.45"/>
<circle cx="257.1" cy="298.67" r="1.8" fill="#F96D62" fill-opacity="0.5"/>
<circle cx="257.1" cy="298.67" r="1.04" fill="none" stroke="#fff" stroke-width="0.5" stroke-opacity="0.85"/>
<circle cx="275" cy="298.67" r="1.8" fill="#2E8EF6" fill-opacity="0.5"/>
<circle cx="275" cy="298.67" r="1.04" fill="none" stroke="#fff" stroke-width="0.5" stroke-opacity="0.85"/>
<line x1="255" y1="302.06" x2="266" y2="302.06" stroke="#F96D62" stroke-width="1.3" stroke-opacity="0.45"/>
<line x1="272" y1="302.06" x2="289" y2="302.06" stroke="#2E8EF6" stroke-width="1.3" stroke-opacity="0.45"/>
<circle cx="259.3" cy="302.06" r="1.8" fill="#F96D62" fill-opacity="0.5"/>
<circle cx="259.3" cy="302.06" r="1.04" fill="none" stroke="#fff" stroke-width="0.5" stroke-opacity="0.85"/>
<circle cx="279.3" cy="302.06" r="1.8" fill="#2E8EF6" fill-opacity="0.5"/>
<circle cx="279.3" cy="302.06" r="1.04" fill="none" stroke="#fff" stroke-width="0.5" stroke-opacity="0.85"/>
<line x1="248" y1="305.45" x2="259" y2="305.45" stroke="#2E8EF6" stroke-width="1.3" stroke-opacity="0.45"/>
<line x1="259" y1="305.45" x2="266" y2="305.45" stroke="#00BC3A" stroke-width="1.3" stroke-opacity="0.75"/>
<circle cx="253.7" cy="305.45" r="1.8" fill="#2E8EF6" fill-opacity="0.5"/>
<circle cx="253.7" cy="305.45" r="1.04" fill="none" stroke="#fff" stroke-width="0.5" stroke-opacity="0.85"/>
<circle cx="262.9" cy="305.45" r="1.8" fill="#00BC3A" fill-opacity="1"/>
<circle cx="262.9" cy="305.45" r="1.04" fill="none" stroke="#fff" stroke-width="0.5" stroke-opacity="0.65"/>
<line x1="257" y1="308.84" x2="263" y2="308.84" stroke="#00BC3A" stroke-width="1.3" stroke-opacity="0.75"/>
<line x1="259" y1="308.84" x2="265" y2="308.84" stroke="#F96D62" stroke-width="1.3" stroke-opacity="0.45"/>
<line x1="266" y1="308.84" x2="272" y2="308.84" stroke="#2E8EF6" stroke-width="1.3" stroke-opacity="0.75"/>
<circle cx="260" cy="308.84" r="1.8" fill="#00BC3A" fill-opacity="1"/>
<circle cx="260" cy="308.84" r="1.04" fill="none" stroke="#fff" stroke-width="0.5" stroke-opacity="0.65"/>
<circle cx="261.9" cy="308.84" r="1.8" fill="#F96D62" fill-opacity="0.5"/>
<circle cx="261.9" cy="308.84" r="1.04" fill="none" stroke="#fff" stroke-width="0.5" stroke-opacity="0.85"/>
<circle cx="269.2" cy="308.84" r="1.8" fill="#2E8EF6" fill-opacity="1"/>
<circle cx="269.2" cy="308.84" r="1.04" fill="none" stroke="#fff" stroke-width="0.5" stroke-opacity="0.65"/>
<line x1="249" y1="312.23" x2="256" y2="312.23" stroke="#00BC3A" stroke-width="1.3" stroke-opacity="0.75"/>
<line x1="261" y1="312.23" x2="269" y2="312.23" stroke="#F96D62" stroke-width="1.3" stroke-opacity="0.45"/>
<line x1="265" y1="312.23" x2="274" y2="312.23" stroke="#2E8EF6" stroke-width="1.3" stroke-opacity="0.45"/>
<circle cx="253.2" cy="312.23" r="1.8" fill="#00BC3A" fill-opacity="1"/>
<circle cx="253.2" cy="312.23" r="1.04" fill="none" stroke="#fff" stroke-width="0.5" stroke-opacity="0.65"/>
<circle cx="265" cy="312.23" r="1.8" fill="#F96D62" fill-opacity="0.5"/>
<circle cx="265" cy="312.23" r="1.04" fill="none" stroke="#fff" stroke-width="0.5" stroke-opacity="0.85"/>
<circle cx="269.5" cy="312.23" r="1.8" fill="#2E8EF6" fill-opacity="0.5"/>
<circle cx="269.5" cy="312.23" r="1.04" fill="none" stroke="#fff" stroke-width="0.5" stroke-opacity="0.85"/>
<line x1="249" y1="315.62" x2="257" y2="315.62" stroke="#00BC3A" stroke-width="1.3" stroke-opacity="0.75"/>
<line x1="260" y1="315.62" x2="270" y2="315.62" stroke="#F96D62" stroke-width="1.3" stroke-opacity="0.45"/>
<line x1="279" y1="315.62" x2="293" y2="315.62" stroke="#2E8EF6" stroke-width="1.3" stroke-opacity="0.75"/>
<circle cx="253.7" cy="315.62" r="1.8" fill="#00BC3A" fill-opacity="1"/>
<circle cx="253.7" cy="315.62" r="1.04" fill="none" stroke="#fff" stroke-width="0.5" stroke-opacity="0.65"/>
<circle cx="265" cy="315.62" r="1.8" fill="#F96D62" fill-opacity="0.5"/>
<circle cx="265" cy="315.62" r="1.04" fill="none" stroke="#fff" stroke-width="0.5" stroke-opacity="0.85"/>
<circle cx="285.5" cy="315.62" r="1.8" fill="#2E8EF6" fill-opacity="1"/>
<circle cx="285.5" cy="315.62" r="1.04" fill="none" stroke="#fff" stroke-width="0.5" stroke-opacity="0.65"/>
<line x1="236" y1="319.01" x2="257" y2="319.01" stroke="#2E8EF6" stroke-width="1.3" stroke-opacity="0.45"/>
<line x1="250" y1="319.01" x2="259" y2="319.01" stroke="#00BC3A" stroke-width="1.3" stroke-opacity="0.75"/>
<line x1="251" y1="319.01" x2="271" y2="319.01" stroke="#F96D62" stroke-width="1.3" stroke-opacity="0.45"/>
<circle cx="246.9" cy="319.01" r="1.8" fill="#2E8EF6" fill-opacity="0.5"/>
<circle cx="246.9" cy="319.01" r="1.04" fill="none" stroke="#fff" stroke-width="0.5" stroke-opacity="0.85"/>
<circle cx="254.6" cy="319.01" r="1.8" fill="#00BC3A" fill-opacity="1"/>
<circle cx="254.6" cy="319.01" r="1.04" fill="none" stroke="#fff" stroke-width="0.5" stroke-opacity="0.65"/>
<circle cx="264.4" cy="319.01" r="1.8" fill="#F96D62" fill-opacity="0.5"/>
<circle cx="264.4" cy="319.01" r="1.04" fill="none" stroke="#fff" stroke-width="0.5" stroke-opacity="0.85"/>
<line x1="256" y1="322.4" x2="262" y2="322.4" stroke="#00BC3A" stroke-width="1.3" stroke-opacity="0.75"/>
<line x1="260" y1="322.4" x2="266" y2="322.4" stroke="#F96D62" stroke-width="1.3" stroke-opacity="0.45"/>
<line x1="277" y1="322.4" x2="288" y2="322.4" stroke="#2E8EF6" stroke-width="1.3" stroke-opacity="0.75"/>
<circle cx="260" cy="322.4" r="1.8" fill="#00BC3A" fill-opacity="1"/>
<circle cx="260" cy="322.4" r="1.04" fill="none" stroke="#fff" stroke-width="0.5" stroke-opacity="0.65"/>
<circle cx="262.9" cy="322.4" r="1.8" fill="#F96D62" fill-opacity="0.5"/>
<circle cx="262.9" cy="322.4" r="1.04" fill="none" stroke="#fff" stroke-width="0.5" stroke-opacity="0.85"/>
<circle cx="282.5" cy="322.4" r="1.8" fill="#2E8EF6" fill-opacity="1"/>
<circle cx="282.5" cy="322.4" r="1.04" fill="none" stroke="#fff" stroke-width="0.5" stroke-opacity="0.65"/>
<line x1="226" y1="325.79" x2="240" y2="325.79" stroke="#F96D62" stroke-width="1.3" stroke-opacity="0.75"/>
<line x1="237" y1="325.79" x2="250" y2="325.79" stroke="#00BC3A" stroke-width="1.3" stroke-opacity="0.75"/>
<line x1="239" y1="325.79" x2="254" y2="325.79" stroke="#2E8EF6" stroke-width="1.3" stroke-opacity="0.45"/>
<circle cx="233.1" cy="325.79" r="1.8" fill="#F96D62" fill-opacity="1"/>
<circle cx="233.1" cy="325.79" r="1.04" fill="none" stroke="#fff" stroke-width="0.5" stroke-opacity="0.65"/>
<circle cx="241" cy="325.79" r="1.8" fill="#00BC3A" fill-opacity="1"/>
<circle cx="241" cy="325.79" r="1.04" fill="none" stroke="#fff" stroke-width="0.5" stroke-opacity="0.65"/>
<circle cx="245.9" cy="325.79" r="1.8" fill="#2E8EF6" fill-opacity="0.5"/>
<circle cx="245.9" cy="325.79" r="1.04" fill="none" stroke="#fff" stroke-width="0.5" stroke-opacity="0.85"/>
<line x1="251" y1="329.18" x2="259" y2="329.18" stroke="#00BC3A" stroke-width="1.3" stroke-opacity="0.75"/>
<line x1="259" y1="329.18" x2="266" y2="329.18" stroke="#F96D62" stroke-width="1.3" stroke-opacity="0.45"/>
<line x1="284" y1="329.18" x2="297" y2="329.18" stroke="#2E8EF6" stroke-width="1.3" stroke-opacity="0.75"/>
<circle cx="256.4" cy="329.18" r="1.8" fill="#00BC3A" fill-opacity="1"/>
<circle cx="256.4" cy="329.18" r="1.04" fill="none" stroke="#fff" stroke-width="0.5" stroke-opacity="0.65"/>
<circle cx="261.5" cy="329.18" r="1.8" fill="#F96D62" fill-opacity="0.5"/>
<circle cx="261.5" cy="329.18" r="1.04" fill="none" stroke="#fff" stroke-width="0.5" stroke-opacity="0.85"/>
<circle cx="290.1" cy="329.18" r="1.8" fill="#2E8EF6" fill-opacity="1"/>
<circle cx="290.1" cy="329.18" r="1.04" fill="none" stroke="#fff" stroke-width="0.5" stroke-opacity="0.65"/>
<line x1="237" y1="332.57" x2="250" y2="332.57" stroke="#00BC3A" stroke-width="1.3" stroke-opacity="0.75"/>
<line x1="258" y1="332.57" x2="266" y2="332.57" stroke="#F96D62" stroke-width="1.3" stroke-opacity="0.45"/>
<line x1="311" y1="332.57" x2="326" y2="332.57" stroke="#2E8EF6" stroke-width="1.3" stroke-opacity="0.75"/>
<circle cx="243.6" cy="332.57" r="1.8" fill="#00BC3A" fill-opacity="1"/>
<circle cx="243.6" cy="332.57" r="1.04" fill="none" stroke="#fff" stroke-width="0.5" stroke-opacity="0.65"/>
<circle cx="261.5" cy="332.57" r="1.8" fill="#F96D62" fill-opacity="0.5"/>
<circle cx="261.5" cy="332.57" r="1.04" fill="none" stroke="#fff" stroke-width="0.5" stroke-opacity="0.85"/>
<circle cx="319" cy="332.57" r="1.8" fill="#2E8EF6" fill-opacity="1"/>
<circle cx="319" cy="332.57" r="1.04" fill="none" stroke="#fff" stroke-width="0.5" stroke-opacity="0.65"/>
<line x1="254" y1="335.96" x2="261" y2="335.96" stroke="#F96D62" stroke-width="1.3" stroke-opacity="0.45"/>
<line x1="266" y1="335.96" x2="274" y2="335.96" stroke="#2E8EF6" stroke-width="1.3" stroke-opacity="0.75"/>
<circle cx="258.1" cy="335.96" r="1.8" fill="#F96D62" fill-opacity="0.5"/>
<circle cx="258.1" cy="335.96" r="1.04" fill="none" stroke="#fff" stroke-width="0.5" stroke-opacity="0.85"/>
<circle cx="270.2" cy="335.96" r="1.8" fill="#2E8EF6" fill-opacity="1"/>
<circle cx="270.2" cy="335.96" r="1.04" fill="none" stroke="#fff" stroke-width="0.5" stroke-opacity="0.65"/>
<line x1="252" y1="339.35" x2="260" y2="339.35" stroke="#F96D62" stroke-width="1.3" stroke-opacity="0.45"/>
<line x1="265" y1="339.35" x2="273" y2="339.35" stroke="#2E8EF6" stroke-width="1.3" stroke-opacity="0.45"/>
<circle cx="256.4" cy="339.35" r="1.8" fill="#F96D62" fill-opacity="0.5"/>
<circle cx="256.4" cy="339.35" r="1.04" fill="none" stroke="#fff" stroke-width="0.5" stroke-opacity="0.85"/>
<circle cx="268.6" cy="339.35" r="1.8" fill="#2E8EF6" fill-opacity="0.5"/>
<circle cx="268.6" cy="339.35" r="1.04" fill="none" stroke="#fff" stroke-width="0.5" stroke-opacity="0.85"/>
<line x1="258" y1="342.74" x2="264" y2="342.74" stroke="#2E8EF6" stroke-width="1.3" stroke-opacity="0.45"/>
<line x1="262" y1="342.74" x2="268" y2="342.74" stroke="#F96D62" stroke-width="1.3" stroke-opacity="0.45"/>
<circle cx="260.7" cy="342.74" r="1.8" fill="#2E8EF6" fill-opacity="0.5"/>
<circle cx="260.7" cy="342.74" r="1.04" fill="none" stroke="#fff" stroke-width="0.5" stroke-opacity="0.85"/>
<circle cx="265" cy="342.74" r="1.8" fill="#F96D62" fill-opacity="0.5"/>
<circle cx="265" cy="342.74" r="1.04" fill="none" stroke="#fff" stroke-width="0.5" stroke-opacity="0.85"/>
<line x1="255" y1="346.13" x2="261" y2="346.13" stroke="#00BC3A" stroke-width="1.3" stroke-opacity="0.75"/>
<line x1="261" y1="346.13" x2="269" y2="346.13" stroke="#F96D62" stroke-width="1.3" stroke-opacity="0.45"/>
<line x1="267" y1="346.13" x2="277" y2="346.13" stroke="#2E8EF6" stroke-width="1.3" stroke-opacity="0.45"/>
<circle cx="257.5" cy="346.13" r="1.8" fill="#00BC3A" fill-opacity="1"/>
<circle cx="257.5" cy="346.13" r="1.04" fill="none" stroke="#fff" stroke-width="0.5" stroke-opacity="0.65"/>
<circle cx="264.4" cy="346.13" r="1.8" fill="#F96D62" fill-opacity="0.5"/>
<circle cx="264.4" cy="346.13" r="1.04" fill="none" stroke="#fff" stroke-width="0.5" stroke-opacity="0.85"/>
<circle cx="270.9" cy="346.13" r="1.8" fill="#2E8EF6" fill-opacity="0.5"/>
<circle cx="270.9" cy="346.13" r="1.04" fill="none" stroke="#fff" stroke-width="0.5" stroke-opacity="0.85"/>
<line x1="257" y1="349.52" x2="265" y2="349.52" stroke="#F96D62" stroke-width="1.3" stroke-opacity="0.45"/>
<line x1="273" y1="349.52" x2="289" y2="349.52" stroke="#2E8EF6" stroke-width="1.3" stroke-opacity="0.75"/>
<circle cx="259.6" cy="349.52" r="1.8" fill="#F96D62" fill-opacity="0.5"/>
<circle cx="259.6" cy="349.52" r="1.04" fill="none" stroke="#fff" stroke-width="0.5" stroke-opacity="0.85"/>
<circle cx="281.8" cy="349.52" r="1.8" fill="#2E8EF6" fill-opacity="1"/>
<circle cx="281.8" cy="349.52" r="1.04" fill="none" stroke="#fff" stroke-width="0.5" stroke-opacity="0.65"/>
<line x1="263" y1="352.91" x2="277" y2="352.91" stroke="#00BC3A" stroke-width="1.3" stroke-opacity="0.75"/>
<line x1="276" y1="352.91" x2="285" y2="352.91" stroke="#F96D62" stroke-width="1.3" stroke-opacity="0.45"/>
<line x1="275" y1="352.91" x2="293" y2="352.91" stroke="#2E8EF6" stroke-width="1.3" stroke-opacity="0.75"/>
<circle cx="270.2" cy="352.91" r="1.8" fill="#00BC3A" fill-opacity="1"/>
<circle cx="270.2" cy="352.91" r="1.04" fill="none" stroke="#fff" stroke-width="0.5" stroke-opacity="0.65"/>
<circle cx="280.4" cy="352.91" r="1.8" fill="#F96D62" fill-opacity="0.5"/>
<circle cx="280.4" cy="352.91" r="1.04" fill="none" stroke="#fff" stroke-width="0.5" stroke-opacity="0.85"/>
<circle cx="284" cy="352.91" r="1.8" fill="#2E8EF6" fill-opacity="1"/>
<circle cx="284" cy="352.91" r="1.04" fill="none" stroke="#fff" stroke-width="0.5" stroke-opacity="0.65"/>
<line x1="243" y1="356.3" x2="253" y2="356.3" stroke="#00BC3A" stroke-width="1.3" stroke-opacity="0.75"/>
<line x1="253" y1="356.3" x2="271" y2="356.3" stroke="#F96D62" stroke-width="1.3" stroke-opacity="0.45"/>
<line x1="284" y1="356.3" x2="293" y2="356.3" stroke="#2E8EF6" stroke-width="1.3" stroke-opacity="0.75"/>
<circle cx="248.4" cy="356.3" r="1.8" fill="#00BC3A" fill-opacity="1"/>
<circle cx="248.4" cy="356.3" r="1.04" fill="none" stroke="#fff" stroke-width="0.5" stroke-opacity="0.65"/>
<circle cx="262.2" cy="356.3" r="1.8" fill="#F96D62" fill-opacity="0.5"/>
<circle cx="262.2" cy="356.3" r="1.04" fill="none" stroke="#fff" stroke-width="0.5" stroke-opacity="0.85"/>
<circle cx="287.6" cy="356.3" r="1.8" fill="#2E8EF6" fill-opacity="1"/>
<circle cx="287.6" cy="356.3" r="1.04" fill="none" stroke="#fff" stroke-width="0.5" stroke-opacity="0.65"/>
<line x1="254" y1="359.69" x2="261" y2="359.69" stroke="#2E8EF6" stroke-width="1.3" stroke-opacity="0.45"/>
<line x1="260" y1="359.69" x2="266" y2="359.69" stroke="#00BC3A" stroke-width="1.3" stroke-opacity="0.75"/>
<circle cx="257.5" cy="359.69" r="1.8" fill="#2E8EF6" fill-opacity="0.5"/>
<circle cx="257.5" cy="359.69" r="1.04" fill="none" stroke="#fff" stroke-width="0.5" stroke-opacity="0.85"/>
<circle cx="262.2" cy="359.69" r="1.8" fill="#00BC3A" fill-opacity="1"/>
<circle cx="262.2" cy="359.69" r="1.04" fill="none" stroke="#fff" stroke-width="0.5" stroke-opacity="0.65"/>
<line x1="250" y1="363.08" x2="261" y2="363.08" stroke="#00BC3A" stroke-width="1.3" stroke-opacity="0.75"/>
<line x1="261" y1="363.08" x2="275" y2="363.08" stroke="#F96D62" stroke-width="1.3" stroke-opacity="0.45"/>
<line x1="282" y1="363.08" x2="297" y2="363.08" stroke="#2E8EF6" stroke-width="1.3" stroke-opacity="0.75"/>
<circle cx="254.9" cy="363.08" r="1.8" fill="#00BC3A" fill-opacity="1"/>
<circle cx="254.9" cy="363.08" r="1.04" fill="none" stroke="#fff" stroke-width="0.5" stroke-opacity="0.65"/>
<circle cx="265.8" cy="363.08" r="1.8" fill="#F96D62" fill-opacity="0.5"/>
<circle cx="265.8" cy="363.08" r="1.04" fill="none" stroke="#fff" stroke-width="0.5" stroke-opacity="0.85"/>
<circle cx="289.5" cy="363.08" r="1.8" fill="#2E8EF6" fill-opacity="1"/>
<circle cx="289.5" cy="363.08" r="1.04" fill="none" stroke="#fff" stroke-width="0.5" stroke-opacity="0.65"/>
<line x1="245" y1="366.47" x2="257" y2="366.47" stroke="#00BC3A" stroke-width="1.3" stroke-opacity="0.75"/>
<line x1="253" y1="366.47" x2="265" y2="366.47" stroke="#F96D62" stroke-width="1.3" stroke-opacity="0.45"/>
<line x1="279" y1="366.47" x2="294" y2="366.47" stroke="#2E8EF6" stroke-width="1.3" stroke-opacity="0.75"/>
<circle cx="250.8" cy="366.47" r="1.8" fill="#00BC3A" fill-opacity="1"/>
<circle cx="250.8" cy="366.47" r="1.04" fill="none" stroke="#fff" stroke-width="0.5" stroke-opacity="0.65"/>
<circle cx="258.5" cy="366.47" r="1.8" fill="#F96D62" fill-opacity="0.5"/>
<circle cx="258.5" cy="366.47" r="1.04" fill="none" stroke="#fff" stroke-width="0.5" stroke-opacity="0.85"/>
<circle cx="286.2" cy="366.47" r="1.8" fill="#2E8EF6" fill-opacity="1"/>
<circle cx="286.2" cy="366.47" r="1.04" fill="none" stroke="#fff" stroke-width="0.5" stroke-opacity="0.65"/>
<line x1="233" y1="369.86" x2="245" y2="369.86" stroke="#F96D62" stroke-width="1.3" stroke-opacity="0.75"/>
<line x1="238" y1="369.86" x2="248" y2="369.86" stroke="#00BC3A" stroke-width="1.3" stroke-opacity="0.45"/>
<line x1="250" y1="369.86" x2="265" y2="369.86" stroke="#2E8EF6" stroke-width="1.3" stroke-opacity="0.45"/>
<circle cx="238.6" cy="369.86" r="1.8" fill="#F96D62" fill-opacity="1"/>
<circle cx="238.6" cy="369.86" r="1.04" fill="none" stroke="#fff" stroke-width="0.5" stroke-opacity="0.65"/>
<circle cx="241.8" cy="369.86" r="1.8" fill="#00BC3A" fill-opacity="0.5"/>
<circle cx="241.8" cy="369.86" r="1.04" fill="none" stroke="#fff" stroke-width="0.5" stroke-opacity="0.85"/>
<circle cx="257.1" cy="369.86" r="1.8" fill="#2E8EF6" fill-opacity="0.5"/>
<circle cx="257.1" cy="369.86" r="1.04" fill="none" stroke="#fff" stroke-width="0.5" stroke-opacity="0.85"/>
<line x1="251" y1="373.25" x2="259" y2="373.25" stroke="#F96D62" stroke-width="1.3" stroke-opacity="0.45"/>
<line x1="273" y1="373.25" x2="280" y2="373.25" stroke="#2E8EF6" stroke-width="1.3" stroke-opacity="0.75"/>
<circle cx="254.9" cy="373.25" r="1.8" fill="#F96D62" fill-opacity="0.5"/>
<circle cx="254.9" cy="373.25" r="1.04" fill="none" stroke="#fff" stroke-width="0.5" stroke-opacity="0.85"/>
<circle cx="276" cy="373.25" r="1.8" fill="#2E8EF6" fill-opacity="1"/>
<circle cx="276" cy="373.25" r="1.04" fill="none" stroke="#fff" stroke-width="0.5" stroke-opacity="0.65"/>
<line x1="255" y1="376.64" x2="261" y2="376.64" stroke="#00BC3A" stroke-width="1.3" stroke-opacity="0.75"/>
<line x1="257" y1="376.64" x2="264" y2="376.64" stroke="#F96D62" stroke-width="1.3" stroke-opacity="0.45"/>
<line x1="278" y1="376.64" x2="286" y2="376.64" stroke="#2E8EF6" stroke-width="1.3" stroke-opacity="0.75"/>
<circle cx="258.1" cy="376.64" r="1.8" fill="#00BC3A" fill-opacity="1"/>
<circle cx="258.1" cy="376.64" r="1.04" fill="none" stroke="#fff" stroke-width="0.5" stroke-opacity="0.65"/>
<circle cx="260.4" cy="376.64" r="1.8" fill="#F96D62" fill-opacity="0.5"/>
<circle cx="260.4" cy="376.64" r="1.04" fill="none" stroke="#fff" stroke-width="0.5" stroke-opacity="0.85"/>
<circle cx="281.8" cy="376.64" r="1.8" fill="#2E8EF6" fill-opacity="1"/>
<circle cx="281.8" cy="376.64" r="1.04" fill="none" stroke="#fff" stroke-width="0.5" stroke-opacity="0.65"/>
<line x1="258" y1="380.03" x2="265" y2="380.03" stroke="#F96D62" stroke-width="1.3" stroke-opacity="0.45"/>
<line x1="275" y1="380.03" x2="283" y2="380.03" stroke="#2E8EF6" stroke-width="1.3" stroke-opacity="0.75"/>
<circle cx="261" cy="380.03" r="1.8" fill="#F96D62" fill-opacity="0.5"/>
<circle cx="261" cy="380.03" r="1.04" fill="none" stroke="#fff" stroke-width="0.5" stroke-opacity="0.85"/>
<circle cx="279.3" cy="380.03" r="1.8" fill="#2E8EF6" fill-opacity="1"/>
<circle cx="279.3" cy="380.03" r="1.04" fill="none" stroke="#fff" stroke-width="0.5" stroke-opacity="0.65"/>
<line x1="255" y1="383.42" x2="262" y2="383.42" stroke="#00BC3A" stroke-width="1.3" stroke-opacity="0.75"/>
<line x1="260" y1="383.42" x2="268" y2="383.42" stroke="#F96D62" stroke-width="1.3" stroke-opacity="0.45"/>
<line x1="291" y1="383.42" x2="301" y2="383.42" stroke="#2E8EF6" stroke-width="1.3" stroke-opacity="0.75"/>
<circle cx="259.3" cy="383.42" r="1.8" fill="#00BC3A" fill-opacity="1"/>
<circle cx="259.3" cy="383.42" r="1.04" fill="none" stroke="#fff" stroke-width="0.5" stroke-opacity="0.65"/>
<circle cx="263.6" cy="383.42" r="1.8" fill="#F96D62" fill-opacity="0.5"/>
<circle cx="263.6" cy="383.42" r="1.04" fill="none" stroke="#fff" stroke-width="0.5" stroke-opacity="0.85"/>
<circle cx="295.3" cy="383.42" r="1.8" fill="#2E8EF6" fill-opacity="1"/>
<circle cx="295.3" cy="383.42" r="1.04" fill="none" stroke="#fff" stroke-width="0.5" stroke-opacity="0.65"/>
<line x1="236" y1="386.81" x2="249" y2="386.81" stroke="#00BC3A" stroke-width="1.3" stroke-opacity="0.75"/>
<line x1="243" y1="386.81" x2="255" y2="386.81" stroke="#F96D62" stroke-width="1.3" stroke-opacity="0.45"/>
<line x1="277" y1="386.81" x2="291" y2="386.81" stroke="#2E8EF6" stroke-width="1.3" stroke-opacity="0.75"/>
<circle cx="243" cy="386.81" r="1.8" fill="#00BC3A" fill-opacity="1"/>
<circle cx="243" cy="386.81" r="1.04" fill="none" stroke="#fff" stroke-width="0.5" stroke-opacity="0.65"/>
<circle cx="248.4" cy="386.81" r="1.8" fill="#F96D62" fill-opacity="0.5"/>
<circle cx="248.4" cy="386.81" r="1.04" fill="none" stroke="#fff" stroke-width="0.5" stroke-opacity="0.85"/>
<circle cx="283.7" cy="386.81" r="1.8" fill="#2E8EF6" fill-opacity="1"/>
<circle cx="283.7" cy="386.81" r="1.04" fill="none" stroke="#fff" stroke-width="0.5" stroke-opacity="0.65"/>
<line x1="250" y1="390.2" x2="257" y2="390.2" stroke="#F96D62" stroke-width="1.3" stroke-opacity="0.45"/>
<line x1="253" y1="390.2" x2="260" y2="390.2" stroke="#2E8EF6" stroke-width="1.3" stroke-opacity="0.45"/>
<line x1="257" y1="390.2" x2="263" y2="390.2" stroke="#00BC3A" stroke-width="1.3" stroke-opacity="0.75"/>
<circle cx="253.2" cy="390.2" r="1.8" fill="#F96D62" fill-opacity="0.5"/>
<circle cx="253.2" cy="390.2" r="1.04" fill="none" stroke="#fff" stroke-width="0.5" stroke-opacity="0.85"/>
<circle cx="255.6" cy="390.2" r="1.8" fill="#2E8EF6" fill-opacity="0.5"/>
<circle cx="255.6" cy="390.2" r="1.04" fill="none" stroke="#fff" stroke-width="0.5" stroke-opacity="0.85"/>
<circle cx="258.5" cy="390.2" r="1.8" fill="#00BC3A" fill-opacity="1"/>
<circle cx="258.5" cy="390.2" r="1.04" fill="none" stroke="#fff" stroke-width="0.5" stroke-opacity="0.65"/>
<line x1="236" y1="393.59" x2="248" y2="393.59" stroke="#00BC3A" stroke-width="1.3" stroke-opacity="0.45"/>
<line x1="240" y1="393.59" x2="253" y2="393.59" stroke="#F96D62" stroke-width="1.3" stroke-opacity="0.45"/>
<line x1="285" y1="393.59" x2="299" y2="393.59" stroke="#2E8EF6" stroke-width="1.3" stroke-opacity="0.75"/>
<circle cx="243.6" cy="393.59" r="1.8" fill="#00BC3A" fill-opacity="0.5"/>
<circle cx="243.6" cy="393.59" r="1.04" fill="none" stroke="#fff" stroke-width="0.5" stroke-opacity="0.85"/>
<circle cx="246.9" cy="393.59" r="1.8" fill="#F96D62" fill-opacity="0.5"/>
<circle cx="246.9" cy="393.59" r="1.04" fill="none" stroke="#fff" stroke-width="0.5" stroke-opacity="0.85"/>
<circle cx="292" cy="393.59" r="1.8" fill="#2E8EF6" fill-opacity="1"/>
<circle cx="292" cy="393.59" r="1.04" fill="none" stroke="#fff" stroke-width="0.5" stroke-opacity="0.65"/>
<line x1="235" y1="396.98" x2="249" y2="396.98" stroke="#F96D62" stroke-width="1.3" stroke-opacity="0.45"/>
<line x1="264" y1="396.98" x2="281" y2="396.98" stroke="#2E8EF6" stroke-width="1.3" stroke-opacity="0.45"/>
<circle cx="241.8" cy="396.98" r="1.8" fill="#F96D62" fill-opacity="0.5"/>
<circle cx="241.8" cy="396.98" r="1.04" fill="none" stroke="#fff" stroke-width="0.5" stroke-opacity="0.85"/>
<circle cx="273.1" cy="396.98" r="1.8" fill="#2E8EF6" fill-opacity="0.5"/>
<circle cx="273.1" cy="396.98" r="1.04" fill="none" stroke="#fff" stroke-width="0.5" stroke-opacity="0.85"/>
<line x1="230" y1="400.37" x2="241" y2="400.37" stroke="#2E8EF6" stroke-width="1.3" stroke-opacity="0.75"/>
<line x1="234" y1="400.37" x2="245" y2="400.37" stroke="#F96D62" stroke-width="1.3" stroke-opacity="0.75"/>
<line x1="248" y1="400.37" x2="255" y2="400.37" stroke="#00BC3A" stroke-width="1.3" stroke-opacity="0.75"/>
<circle cx="236" cy="400.37" r="1.8" fill="#2E8EF6" fill-opacity="1"/>
<circle cx="236" cy="400.37" r="1.04" fill="none" stroke="#fff" stroke-width="0.5" stroke-opacity="0.65"/>
<circle cx="239.6" cy="400.37" r="1.8" fill="#F96D62" fill-opacity="1"/>
<circle cx="239.6" cy="400.37" r="1.04" fill="none" stroke="#fff" stroke-width="0.5" stroke-opacity="0.65"/>
<circle cx="251.7" cy="400.37" r="1.8" fill="#00BC3A" fill-opacity="1"/>
<circle cx="251.7" cy="400.37" r="1.04" fill="none" stroke="#fff" stroke-width="0.5" stroke-opacity="0.65"/>
<line x1="220.3" y1="402.4" x2="220.3" y2="404" stroke="#333" stroke-width="0.7"/>
<text x="220.3" y="410.2" font-size="6.4" text-anchor="middle" fill="#4D4D4D" stroke="#4D4D4D" stroke-width="0.1">−1.0</text>
<line x1="259.1" y1="402.4" x2="259.1" y2="404" stroke="#333" stroke-width="0.7"/>
<text x="259.1" y="410.2" font-size="6.4" text-anchor="middle" fill="#4D4D4D" stroke="#4D4D4D" stroke-width="0.1">0.0</text>
<line x1="297.9" y1="402.4" x2="297.9" y2="404" stroke="#333" stroke-width="0.7"/>
<text x="297.9" y="410.2" font-size="6.4" text-anchor="middle" fill="#4D4D4D" stroke="#4D4D4D" stroke-width="0.1">1.0</text>
<line x1="336.7" y1="402.4" x2="336.7" y2="404" stroke="#333" stroke-width="0.7"/>
<text x="336.7" y="410.2" font-size="6.4" text-anchor="middle" fill="#4D4D4D" stroke="#4D4D4D" stroke-width="0.1">2.0</text>
<text x="276.8" y="417.8" font-size="6.1" text-anchor="middle" fill="#000" stroke="#000" stroke-width="0.1">Log FoldChange</text>
<text x="356.4" y="301.2" font-size="6.4" text-anchor="start" fill="#000">type</text>
<line x1="356.8" y1="308.4" x2="363.4" y2="308.4" stroke="#F96D62" stroke-width="1.2"/>
<path d="M357.5 308.4L360.1 306.3L362.7 308.4L360.1 310.5Z" fill="#F96D62"/>
<text x="366.6" y="310.3" font-size="5.3" text-anchor="start" fill="#222">mix</text>
<line x1="356.8" y1="315.5" x2="363.4" y2="315.5" stroke="#00BC3A" stroke-width="1.2"/>
<path d="M357.5 315.5L360.1 313.4L362.7 315.5L360.1 317.6Z" fill="#00BC3A"/>
<text x="366.6" y="317.4" font-size="5.3" text-anchor="start" fill="#222">type 1</text>
<line x1="356.8" y1="322.6" x2="363.4" y2="322.6" stroke="#2E8EF6" stroke-width="1.2"/>
<path d="M357.5 322.6L360.1 320.5L362.7 322.6L360.1 324.7Z" fill="#2E8EF6"/>
<text x="366.6" y="324.5" font-size="5.3" text-anchor="start" fill="#222">type 2</text>
<text x="380.7" y="18.9" font-size="14.9" text-anchor="start" fill="#000" stroke="#000" stroke-width="0.1" style="text-rendering:geometricPrecision">E</text>
<text x="409.8" y="9.2" font-size="6.6" text-anchor="start" fill="#000" stroke="#000" stroke-width="0.1">C4A</text>
<rect x="409.5" y="13.1" width="137.5" height="75.6" fill="#fff" stroke="none" stroke-width="0"/>
<line x1="409.5" y1="64.8" x2="547" y2="64.8" stroke="#F4F4F4" stroke-width="0.6"/>
<line x1="409.5" y1="48.2" x2="547" y2="48.2" stroke="#F4F4F4" stroke-width="0.6"/>
<line x1="409.5" y1="31.6" x2="547" y2="31.6" stroke="#F4F4F4" stroke-width="0.6"/>
<line x1="409.5" y1="73.1" x2="547" y2="73.1" stroke="#EAEAEA" stroke-width="0.8"/>
<line x1="409.5" y1="56.5" x2="547" y2="56.5" stroke="#EAEAEA" stroke-width="0.8"/>
<line x1="409.5" y1="39.9" x2="547" y2="39.9" stroke="#EAEAEA" stroke-width="0.8"/>
<line x1="409.5" y1="23.3" x2="547" y2="23.3" stroke="#EAEAEA" stroke-width="0.8"/>
<line x1="428.9" y1="13.1" x2="428.9" y2="88.7" stroke="#EAEAEA" stroke-width="0.8"/>
<line x1="461.8" y1="13.1" x2="461.8" y2="88.7" stroke="#EAEAEA" stroke-width="0.8"/>
<line x1="494.2" y1="13.1" x2="494.2" y2="88.7" stroke="#EAEAEA" stroke-width="0.8"/>
<line x1="526.8" y1="13.1" x2="526.8" y2="88.7" stroke="#EAEAEA" stroke-width="0.8"/>
<rect x="409.5" y="13.1" width="137.5" height="75.6" fill="none" stroke="#B8B8B8" stroke-width="1"/>
<line x1="408" y1="73.1" x2="409.5" y2="73.1" stroke="#555" stroke-width="0.7"/>
<text x="407.5" y="74.9" font-size="5.1" text-anchor="end" fill="#4D4D4D" stroke="#4D4D4D" stroke-width="0.1">4</text>
<line x1="408" y1="56.5" x2="409.5" y2="56.5" stroke="#555" stroke-width="0.7"/>
<text x="407.5" y="58.3" font-size="5.1" text-anchor="end" fill="#4D4D4D" stroke="#4D4D4D" stroke-width="0.1">6</text>
<line x1="408" y1="39.9" x2="409.5" y2="39.9" stroke="#555" stroke-width="0.7"/>
<text x="407.5" y="41.7" font-size="5.1" text-anchor="end" fill="#4D4D4D" stroke="#4D4D4D" stroke-width="0.1">8</text>
<line x1="408" y1="23.3" x2="409.5" y2="23.3" stroke="#555" stroke-width="0.7"/>
<text x="407.5" y="25.1" font-size="5.1" text-anchor="end" fill="#4D4D4D" stroke="#4D4D4D" stroke-width="0.1">10</text>
<line x1="428.9" y1="88.7" x2="428.9" y2="90.2" stroke="#555" stroke-width="0.7"/>
<text x="428.9" y="95.4" font-size="5.6" text-anchor="middle" fill="#4D4D4D" stroke="#4D4D4D" stroke-width="0.1">Control</text>
<line x1="461.8" y1="88.7" x2="461.8" y2="90.2" stroke="#555" stroke-width="0.7"/>
<text x="461.8" y="95.4" font-size="5.6" text-anchor="middle" fill="#4D4D4D" stroke="#4D4D4D" stroke-width="0.1">Type 1</text>
<line x1="494.2" y1="88.7" x2="494.2" y2="90.2" stroke="#555" stroke-width="0.7"/>
<text x="494.2" y="95.4" font-size="5.6" text-anchor="middle" fill="#4D4D4D" stroke="#4D4D4D" stroke-width="0.1">Mix</text>
<line x1="526.8" y1="88.7" x2="526.8" y2="90.2" stroke="#555" stroke-width="0.7"/>
<text x="526.8" y="95.4" font-size="5.6" text-anchor="middle" fill="#4D4D4D" stroke="#4D4D4D" stroke-width="0.1">Type 2</text>
<text x="478.55" y="101.9" font-size="6" text-anchor="middle" fill="#000" stroke="#000" stroke-width="0.1">SCZ group</text>
<text x="399" y="50.9" font-size="5.6" text-anchor="middle" fill="#000" stroke="#000" stroke-width="0.1" transform="rotate(-90 399 50.9)">log2+1</text>
<line x1="428.9" y1="27.9" x2="428.9" y2="47.4" stroke="#333" stroke-width="0.8"/>
<line x1="428.9" y1="27.9" x2="428.9" y2="47.4" stroke="#000" stroke-width="1.75" stroke-dasharray="1.3 0.45"/>
<line x1="428.9" y1="59.6" x2="428.9" y2="73.6" stroke="#333" stroke-width="0.8"/>
<line x1="428.9" y1="59.6" x2="428.9" y2="73.6" stroke="#000" stroke-width="1.75" stroke-dasharray="1.3 0.45"/>
<circle cx="428.9" cy="20.4" r="0.85" fill="#000"/>
<circle cx="428.9" cy="22.3" r="0.85" fill="#000"/>
<circle cx="428.9" cy="77.3" r="0.85" fill="#000"/>
<circle cx="428.9" cy="81" r="0.85" fill="#000"/>
<circle cx="428.9" cy="85.7" r="0.85" fill="#000"/>
<rect x="416.6" y="47.4" width="24.6" height="12.2" fill="#F8766D" stroke="#3a3a3a" stroke-width="0.6"/>
<line x1="416.6" y1="53.4" x2="441.2" y2="53.4" stroke="#2a2a2a" stroke-width="1.15"/>
<line x1="461.8" y1="27.7" x2="461.8" y2="44.5" stroke="#333" stroke-width="0.8"/>
<line x1="461.8" y1="27.7" x2="461.8" y2="44.5" stroke="#000" stroke-width="1.75" stroke-dasharray="1.3 0.45"/>
<line x1="461.8" y1="55.7" x2="461.8" y2="71.6" stroke="#333" stroke-width="0.8"/>
<line x1="461.8" y1="55.7" x2="461.8" y2="71.6" stroke="#000" stroke-width="1.75" stroke-dasharray="1.3 0.45"/>
<circle cx="461.8" cy="75.3" r="0.85" fill="#000"/>
<rect x="449.5" y="44.5" width="24.6" height="11.2" fill="#5DA800" stroke="#3a3a3a" stroke-width="0.6"/>
<line x1="449.5" y1="50.7" x2="474.1" y2="50.7" stroke="#2a2a2a" stroke-width="1.15"/>
<line x1="494.2" y1="22.1" x2="494.2" y2="40.8" stroke="#333" stroke-width="0.8"/>
<line x1="494.2" y1="22.1" x2="494.2" y2="40.8" stroke="#000" stroke-width="1.75" stroke-dasharray="1.3 0.45"/>
<line x1="494.2" y1="54.8" x2="494.2" y2="63.2" stroke="#333" stroke-width="0.8"/>
<line x1="494.2" y1="54.8" x2="494.2" y2="63.2" stroke="#000" stroke-width="1.75" stroke-dasharray="1.3 0.45"/>
<circle cx="494.2" cy="63.2" r="0.85" fill="#000"/>
<circle cx="494.2" cy="66" r="0.85" fill="#000"/>
<circle cx="494.2" cy="69" r="0.85" fill="#000"/>
<circle cx="494.2" cy="72" r="0.85" fill="#000"/>
<circle cx="494.2" cy="75.3" r="0.85" fill="#000"/>
<rect x="481.9" y="40.8" width="24.6" height="14" fill="#00BEC4" stroke="#3a3a3a" stroke-width="0.6"/>
<line x1="481.9" y1="49.2" x2="506.5" y2="49.2" stroke="#2a2a2a" stroke-width="1.15"/>
<line x1="526.8" y1="15.6" x2="526.8" y2="29" stroke="#333" stroke-width="0.8"/>
<line x1="526.8" y1="15.6" x2="526.8" y2="29" stroke="#000" stroke-width="1.75" stroke-dasharray="1.3 0.45"/>
<line x1="526.8" y1="42.6" x2="526.8" y2="61.3" stroke="#333" stroke-width="0.8"/>
<line x1="526.8" y1="42.6" x2="526.8" y2="61.3" stroke="#000" stroke-width="1.75" stroke-dasharray="1.3 0.45"/>
<rect x="514.5" y="29" width="24.6" height="13.6" fill="#E07CF8" stroke="#3a3a3a" stroke-width="0.6"/>
<line x1="514.5" y1="38.9" x2="539.1" y2="38.9" stroke="#2a2a2a" stroke-width="1.15"/>
<line x1="441" y1="16.2" x2="518.8" y2="16.2" stroke="#5a5a5a" stroke-width="1.05"/>
<path d="M476.4 13.9L478.8 13.9M477 12.86L478.2 14.94M478.2 12.86L477 14.94" stroke="#222" stroke-width="0.8" fill="none"/>
<path d="M480.1 13.9L482.5 13.9M480.7 12.86L481.9 14.94M481.9 12.86L480.7 14.94" stroke="#222" stroke-width="0.8" fill="none"/>
<path d="M483.8 13.9L486.2 13.9M484.4 12.86L485.6 14.94M485.6 12.86L484.4 14.94" stroke="#222" stroke-width="0.8" fill="none"/>
<line x1="463.3" y1="20.5" x2="518.8" y2="20.5" stroke="#5a5a5a" stroke-width="1.05"/>
<path d="M487.4 18.5L489.8 18.5M488 17.46L489.2 19.54M489.2 17.46L488 19.54" stroke="#222" stroke-width="0.8" fill="none"/>
<path d="M491.1 18.5L493.5 18.5M491.7 17.46L492.9 19.54M492.9 17.46L491.7 19.54" stroke="#222" stroke-width="0.8" fill="none"/>
<path d="M494.8 18.5L497.2 18.5M495.4 17.46L496.6 19.54M496.6 17.46L495.4 19.54" stroke="#222" stroke-width="0.8" fill="none"/>
<line x1="441.3" y1="25.9" x2="490.9" y2="25.9" stroke="#5a5a5a" stroke-width="1.05"/>
<path d="M464.05 23.5L466.45 23.5M464.65 22.46L465.85 24.54M465.85 22.46L464.65 24.54" stroke="#222" stroke-width="0.8" fill="none"/>
<path d="M467.75 23.5L470.15 23.5M468.35 22.46L469.55 24.54M469.55 22.46L468.35 24.54" stroke="#222" stroke-width="0.8" fill="none"/>
<line x1="496.5" y1="25.9" x2="518.8" y2="25.9" stroke="#5a5a5a" stroke-width="1.05"/>
<path d="M504.65 23.5L507.05 23.5M505.25 22.46L506.45 24.54M506.45 22.46L505.25 24.54" stroke="#222" stroke-width="0.8" fill="none"/>
<path d="M508.35 23.5L510.75 23.5M508.95 22.46L510.15 24.54M510.15 22.46L508.95 24.54" stroke="#222" stroke-width="0.8" fill="none"/>
<text x="409.8" y="112.6" font-size="6.6" text-anchor="start" fill="#000" stroke="#000" stroke-width="0.1">C4B</text>
<rect x="409.5" y="116.9" width="137.5" height="75.7" fill="#fff" stroke="none" stroke-width="0"/>
<line x1="409.5" y1="182.09" x2="547" y2="182.09" stroke="#F4F4F4" stroke-width="0.6"/>
<line x1="409.5" y1="164.23" x2="547" y2="164.23" stroke="#F4F4F4" stroke-width="0.6"/>
<line x1="409.5" y1="146.37" x2="547" y2="146.37" stroke="#F4F4F4" stroke-width="0.6"/>
<line x1="409.5" y1="128.51" x2="547" y2="128.51" stroke="#F4F4F4" stroke-width="0.6"/>
<line x1="409.5" y1="191.02" x2="547" y2="191.02" stroke="#EAEAEA" stroke-width="0.8"/>
<line x1="409.5" y1="173.16" x2="547" y2="173.16" stroke="#EAEAEA" stroke-width="0.8"/>
<line x1="409.5" y1="155.3" x2="547" y2="155.3" stroke="#EAEAEA" stroke-width="0.8"/>
<line x1="409.5" y1="137.44" x2="547" y2="137.44" stroke="#EAEAEA" stroke-width="0.8"/>
<line x1="409.5" y1="119.58" x2="547" y2="119.58" stroke="#EAEAEA" stroke-width="0.8"/>
<line x1="428.9" y1="116.9" x2="428.9" y2="192.6" stroke="#EAEAEA" stroke-width="0.8"/>
<line x1="461.8" y1="116.9" x2="461.8" y2="192.6" stroke="#EAEAEA" stroke-width="0.8"/>
<line x1="494.2" y1="116.9" x2="494.2" y2="192.6" stroke="#EAEAEA" stroke-width="0.8"/>
<line x1="526.8" y1="116.9" x2="526.8" y2="192.6" stroke="#EAEAEA" stroke-width="0.8"/>
<rect x="409.5" y="116.9" width="137.5" height="75.7" fill="none" stroke="#B8B8B8" stroke-width="1"/>
<line x1="408" y1="191.02" x2="409.5" y2="191.02" stroke="#555" stroke-width="0.7"/>
<text x="407.5" y="192.82" font-size="5.1" text-anchor="end" fill="#4D4D4D" stroke="#4D4D4D" stroke-width="0.1">3</text>
<line x1="408" y1="173.16" x2="409.5" y2="173.16" stroke="#555" stroke-width="0.7"/>
<text x="407.5" y="174.96" font-size="5.1" text-anchor="end" fill="#4D4D4D" stroke="#4D4D4D" stroke-width="0.1">5</text>
<line x1="408" y1="155.3" x2="409.5" y2="155.3" stroke="#555" stroke-width="0.7"/>
<text x="407.5" y="157.1" font-size="5.1" text-anchor="end" fill="#4D4D4D" stroke="#4D4D4D" stroke-width="0.1">7</text>
<line x1="408" y1="137.44" x2="409.5" y2="137.44" stroke="#555" stroke-width="0.7"/>
<text x="407.5" y="139.24" font-size="5.1" text-anchor="end" fill="#4D4D4D" stroke="#4D4D4D" stroke-width="0.1">9</text>
<line x1="408" y1="119.58" x2="409.5" y2="119.58" stroke="#555" stroke-width="0.7"/>
<text x="407.5" y="121.38" font-size="5.1" text-anchor="end" fill="#4D4D4D" stroke="#4D4D4D" stroke-width="0.1">11</text>
<line x1="428.9" y1="192.6" x2="428.9" y2="194.1" stroke="#555" stroke-width="0.7"/>
<text x="428.9" y="199.3" font-size="5.6" text-anchor="middle" fill="#4D4D4D" stroke="#4D4D4D" stroke-width="0.1">Control</text>
<line x1="461.8" y1="192.6" x2="461.8" y2="194.1" stroke="#555" stroke-width="0.7"/>
<text x="461.8" y="199.3" font-size="5.6" text-anchor="middle" fill="#4D4D4D" stroke="#4D4D4D" stroke-width="0.1">Type 1</text>
<line x1="494.2" y1="192.6" x2="494.2" y2="194.1" stroke="#555" stroke-width="0.7"/>
<text x="494.2" y="199.3" font-size="5.6" text-anchor="middle" fill="#4D4D4D" stroke="#4D4D4D" stroke-width="0.1">Mix</text>
<line x1="526.8" y1="192.6" x2="526.8" y2="194.1" stroke="#555" stroke-width="0.7"/>
<text x="526.8" y="199.3" font-size="5.6" text-anchor="middle" fill="#4D4D4D" stroke="#4D4D4D" stroke-width="0.1">Type 2</text>
<text x="478.55" y="205.6" font-size="6" text-anchor="middle" fill="#000" stroke="#000" stroke-width="0.1">SCZ group</text>
<text x="399" y="154.75" font-size="5.6" text-anchor="middle" fill="#000" stroke="#000" stroke-width="0.1" transform="rotate(-90 399 154.75)">log2+1</text>
<line x1="428.9" y1="128" x2="428.9" y2="155.1" stroke="#333" stroke-width="0.8"/>
<line x1="428.9" y1="128" x2="428.9" y2="155.1" stroke="#000" stroke-width="1.75" stroke-dasharray="1.3 0.45"/>
<line x1="428.9" y1="168.5" x2="428.9" y2="182.2" stroke="#333" stroke-width="0.8"/>
<line x1="428.9" y1="168.5" x2="428.9" y2="182.2" stroke="#000" stroke-width="1.75" stroke-dasharray="1.3 0.45"/>
<circle cx="428.9" cy="120.6" r="0.85" fill="#000"/>
<circle cx="428.9" cy="185" r="0.85" fill="#000"/>
<circle cx="428.9" cy="187.4" r="0.85" fill="#000"/>
<rect x="416.6" y="155.1" width="24.6" height="13.4" fill="#F8766D" stroke="#3a3a3a" stroke-width="0.6"/>
<line x1="416.6" y1="162.2" x2="441.2" y2="162.2" stroke="#2a2a2a" stroke-width="1.15"/>
<line x1="461.8" y1="135.5" x2="461.8" y2="150.1" stroke="#333" stroke-width="0.8"/>
<line x1="461.8" y1="135.5" x2="461.8" y2="150.1" stroke="#000" stroke-width="1.75" stroke-dasharray="1.3 0.45"/>
<line x1="461.8" y1="163.9" x2="461.8" y2="179.4" stroke="#333" stroke-width="0.8"/>
<line x1="461.8" y1="163.9" x2="461.8" y2="179.4" stroke="#000" stroke-width="1.75" stroke-dasharray="1.3 0.45"/>
<circle cx="461.8" cy="185.5" r="0.85" fill="#000"/>
<rect x="449.5" y="150.1" width="24.6" height="13.8" fill="#5DA800" stroke="#3a3a3a" stroke-width="0.6"/>
<line x1="449.5" y1="155.1" x2="474.1" y2="155.1" stroke="#2a2a2a" stroke-width="1.15"/>
<line x1="494.2" y1="118.7" x2="494.2" y2="144.5" stroke="#333" stroke-width="0.8"/>
<line x1="494.2" y1="118.7" x2="494.2" y2="144.5" stroke="#000" stroke-width="1.75" stroke-dasharray="1.3 0.45"/>
<line x1="494.2" y1="164.4" x2="494.2" y2="174.7" stroke="#333" stroke-width="0.8"/>
<line x1="494.2" y1="164.4" x2="494.2" y2="174.7" stroke="#000" stroke-width="1.75" stroke-dasharray="1.3 0.45"/>
<circle cx="494.2" cy="179.4" r="0.85" fill="#000"/>
<rect x="481.9" y="144.5" width="24.6" height="19.9" fill="#00BEC4" stroke="#3a3a3a" stroke-width="0.6"/>
<line x1="481.9" y1="153.2" x2="506.5" y2="153.2" stroke="#2a2a2a" stroke-width="1.15"/>
<line x1="526.8" y1="118.7" x2="526.8" y2="137.4" stroke="#333" stroke-width="0.8"/>
<line x1="526.8" y1="118.7" x2="526.8" y2="137.4" stroke="#000" stroke-width="1.75" stroke-dasharray="1.3 0.45"/>
<line x1="526.8" y1="149.5" x2="526.8" y2="160.7" stroke="#333" stroke-width="0.8"/>
<line x1="526.8" y1="149.5" x2="526.8" y2="160.7" stroke="#000" stroke-width="1.75" stroke-dasharray="1.3 0.45"/>
<rect x="514.5" y="137.4" width="24.6" height="12.1" fill="#E07CF8" stroke="#3a3a3a" stroke-width="0.6"/>
<line x1="514.5" y1="143.4" x2="539.1" y2="143.4" stroke="#2a2a2a" stroke-width="1.15"/>
<line x1="440.8" y1="123.4" x2="518.8" y2="123.4" stroke="#5a5a5a" stroke-width="1.05"/>
<path d="M477.5 121.4L479.9 121.4M478.1 120.36L479.3 122.44M479.3 120.36L478.1 122.44" stroke="#222" stroke-width="0.8" fill="none"/>
<path d="M481.2 121.4L483.6 121.4M481.8 120.36L483 122.44M483 120.36L481.8 122.44" stroke="#222" stroke-width="0.8" fill="none"/>
<path d="M484.9 121.4L487.3 121.4M485.5 120.36L486.7 122.44M486.7 120.36L485.5 122.44" stroke="#222" stroke-width="0.8" fill="none"/>
<line x1="466.9" y1="127.7" x2="518.8" y2="127.7" stroke="#5a5a5a" stroke-width="1.05"/>
<path d="M482.2 125.9L484.6 125.9M482.8 124.86L484 126.94M484 124.86L482.8 126.94" stroke="#222" stroke-width="0.8" fill="none"/>
<path d="M485.9 125.9L488.3 125.9M486.5 124.86L487.7 126.94M487.7 124.86L486.5 126.94" stroke="#222" stroke-width="0.8" fill="none"/>
<path d="M489.6 125.9L492 125.9M490.2 124.86L491.4 126.94M491.4 124.86L490.2 126.94" stroke="#222" stroke-width="0.8" fill="none"/>
<line x1="441.3" y1="133.1" x2="490.9" y2="133.1" stroke="#5a5a5a" stroke-width="1.05"/>
<path d="M461.5 130.9L463.9 130.9M462.1 129.86L463.3 131.94M463.3 129.86L462.1 131.94" stroke="#222" stroke-width="0.8" fill="none"/>
<path d="M465.2 130.9L467.6 130.9M465.8 129.86L467 131.94M467 129.86L465.8 131.94" stroke="#222" stroke-width="0.8" fill="none"/>
<path d="M468.9 130.9L471.3 130.9M469.5 129.86L470.7 131.94M470.7 129.86L469.5 131.94" stroke="#222" stroke-width="0.8" fill="none"/>
<line x1="497.4" y1="133.1" x2="518.8" y2="133.1" stroke="#5a5a5a" stroke-width="1.05"/>
<path d="M504.55 130.9L506.95 130.9M505.15 129.86L506.35 131.94M506.35 129.86L505.15 131.94" stroke="#222" stroke-width="0.8" fill="none"/>
<path d="M508.25 130.9L510.65 130.9M508.85 129.86L510.05 131.94M510.05 129.86L508.85 131.94" stroke="#222" stroke-width="0.8" fill="none"/>
<text x="381.8" y="223.2" font-size="14.9" text-anchor="start" fill="#000" stroke="#000" stroke-width="0.1" style="text-rendering:geometricPrecision">F</text>
<text x="407.7" y="226.6" font-size="6.6" text-anchor="start" fill="#000" stroke="#000" stroke-width="0.1">C4A</text>
<rect x="406.7" y="230.3" width="140.3" height="76.3" fill="#fff" stroke="none" stroke-width="0"/>
<line x1="406.7" y1="296.35" x2="547" y2="296.35" stroke="#F4F4F4" stroke-width="0.6"/>
<line x1="406.7" y1="276.05" x2="547" y2="276.05" stroke="#F4F4F4" stroke-width="0.6"/>
<line x1="406.7" y1="255.75" x2="547" y2="255.75" stroke="#F4F4F4" stroke-width="0.6"/>
<line x1="406.7" y1="306.5" x2="547" y2="306.5" stroke="#EAEAEA" stroke-width="0.8"/>
<line x1="406.7" y1="286.2" x2="547" y2="286.2" stroke="#EAEAEA" stroke-width="0.8"/>
<line x1="406.7" y1="265.9" x2="547" y2="265.9" stroke="#EAEAEA" stroke-width="0.8"/>
<line x1="406.7" y1="245.6" x2="547" y2="245.6" stroke="#EAEAEA" stroke-width="0.8"/>
<line x1="427.1" y1="230.3" x2="427.1" y2="306.6" stroke="#EAEAEA" stroke-width="0.8"/>
<line x1="460.1" y1="230.3" x2="460.1" y2="306.6" stroke="#EAEAEA" stroke-width="0.8"/>
<line x1="493.1" y1="230.3" x2="493.1" y2="306.6" stroke="#EAEAEA" stroke-width="0.8"/>
<line x1="526.2" y1="230.3" x2="526.2" y2="306.6" stroke="#EAEAEA" stroke-width="0.8"/>
<rect x="406.7" y="230.3" width="140.3" height="76.3" fill="none" stroke="#B8B8B8" stroke-width="1"/>
<line x1="405.2" y1="306.5" x2="406.7" y2="306.5" stroke="#555" stroke-width="0.7"/>
<text x="404.7" y="308.3" font-size="5.1" text-anchor="end" fill="#4D4D4D" stroke="#4D4D4D" stroke-width="0.1">2</text>
<line x1="405.2" y1="286.2" x2="406.7" y2="286.2" stroke="#555" stroke-width="0.7"/>
<text x="404.7" y="288" font-size="5.1" text-anchor="end" fill="#4D4D4D" stroke="#4D4D4D" stroke-width="0.1">4</text>
<line x1="405.2" y1="265.9" x2="406.7" y2="265.9" stroke="#555" stroke-width="0.7"/>
<text x="404.7" y="267.7" font-size="5.1" text-anchor="end" fill="#4D4D4D" stroke="#4D4D4D" stroke-width="0.1">6</text>
<line x1="405.2" y1="245.6" x2="406.7" y2="245.6" stroke="#555" stroke-width="0.7"/>
<text x="404.7" y="247.4" font-size="5.1" text-anchor="end" fill="#4D4D4D" stroke="#4D4D4D" stroke-width="0.1">8</text>
<line x1="427.1" y1="306.6" x2="427.1" y2="308.1" stroke="#555" stroke-width="0.7"/>
<text x="427.1" y="314.4" font-size="5.6" text-anchor="middle" fill="#4D4D4D" stroke="#4D4D4D" stroke-width="0.1">Control</text>
<line x1="460.1" y1="306.6" x2="460.1" y2="308.1" stroke="#555" stroke-width="0.7"/>
<text x="460.1" y="314.4" font-size="5.6" text-anchor="middle" fill="#4D4D4D" stroke="#4D4D4D" stroke-width="0.1">Type 1</text>
<line x1="493.1" y1="306.6" x2="493.1" y2="308.1" stroke="#555" stroke-width="0.7"/>
<text x="493.1" y="314.4" font-size="5.6" text-anchor="middle" fill="#4D4D4D" stroke="#4D4D4D" stroke-width="0.1">Mix</text>
<line x1="526.2" y1="306.6" x2="526.2" y2="308.1" stroke="#555" stroke-width="0.7"/>
<text x="526.2" y="314.4" font-size="5.6" text-anchor="middle" fill="#4D4D4D" stroke="#4D4D4D" stroke-width="0.1">Type 2</text>
<text x="477.15" y="320.6" font-size="6" text-anchor="middle" fill="#000" stroke="#000" stroke-width="0.1">SCZ group</text>
<text x="399.2" y="268.45" font-size="5.6" text-anchor="middle" fill="#000" stroke="#000" stroke-width="0.1" transform="rotate(-90 399.2 268.45)">log2+1</text>
<line x1="427.1" y1="238.8" x2="427.1" y2="256.9" stroke="#333" stroke-width="0.8"/>
<line x1="427.1" y1="238.8" x2="427.1" y2="256.9" stroke="#000" stroke-width="1.75" stroke-dasharray="1.3 0.45"/>
<line x1="427.1" y1="270" x2="427.1" y2="284" stroke="#333" stroke-width="0.8"/>
<line x1="427.1" y1="270" x2="427.1" y2="284" stroke="#000" stroke-width="1.75" stroke-dasharray="1.3 0.45"/>
<circle cx="427.1" cy="233.6" r="0.85" fill="#000"/>
<circle cx="427.1" cy="285.8" r="0.85" fill="#000"/>
<circle cx="427.1" cy="288" r="0.85" fill="#000"/>
<circle cx="427.1" cy="290.5" r="0.85" fill="#000"/>
<circle cx="427.1" cy="293" r="0.85" fill="#000"/>
<rect x="414.8" y="256.9" width="24.6" height="13.1" fill="#F8766D" stroke="#3a3a3a" stroke-width="0.6"/>
<line x1="414.8" y1="264" x2="439.4" y2="264" stroke="#2a2a2a" stroke-width="1.15"/>
<line x1="460.1" y1="252.3" x2="460.1" y2="260" stroke="#333" stroke-width="0.8"/>
<line x1="460.1" y1="252.3" x2="460.1" y2="260" stroke="#000" stroke-width="1.75" stroke-dasharray="1.3 0.45"/>
<line x1="460.1" y1="270.5" x2="460.1" y2="278.4" stroke="#333" stroke-width="0.8"/>
<line x1="460.1" y1="270.5" x2="460.1" y2="278.4" stroke="#000" stroke-width="1.75" stroke-dasharray="1.3 0.45"/>
<circle cx="460.1" cy="235.5" r="0.85" fill="#000"/>
<circle cx="460.1" cy="249.5" r="0.85" fill="#000"/>
<circle cx="460.1" cy="280.2" r="0.85" fill="#000"/>
<circle cx="460.1" cy="303" r="0.85" fill="#000"/>
<rect x="447.8" y="260" width="24.6" height="10.5" fill="#5DA800" stroke="#3a3a3a" stroke-width="0.6"/>
<line x1="447.8" y1="266.2" x2="472.4" y2="266.2" stroke="#2a2a2a" stroke-width="1.15"/>
<line x1="493.1" y1="245.7" x2="493.1" y2="256" stroke="#333" stroke-width="0.8"/>
<line x1="493.1" y1="245.7" x2="493.1" y2="256" stroke="#000" stroke-width="1.75" stroke-dasharray="1.3 0.45"/>
<line x1="493.1" y1="271.8" x2="493.1" y2="285" stroke="#333" stroke-width="0.8"/>
<line x1="493.1" y1="271.8" x2="493.1" y2="285" stroke="#000" stroke-width="1.75" stroke-dasharray="1.3 0.45"/>
<circle cx="493.1" cy="235.5" r="0.85" fill="#000"/>
<circle cx="493.1" cy="241.4" r="0.85" fill="#000"/>
<rect x="480.8" y="256" width="24.6" height="15.8" fill="#00BEC4" stroke="#3a3a3a" stroke-width="0.6"/>
<line x1="480.8" y1="265.3" x2="505.4" y2="265.3" stroke="#2a2a2a" stroke-width="1.15"/>
<line x1="526.2" y1="241" x2="526.2" y2="253.7" stroke="#333" stroke-width="0.8"/>
<line x1="526.2" y1="241" x2="526.2" y2="253.7" stroke="#000" stroke-width="1.75" stroke-dasharray="1.3 0.45"/>
<line x1="526.2" y1="262.1" x2="526.2" y2="273.7" stroke="#333" stroke-width="0.8"/>
<line x1="526.2" y1="262.1" x2="526.2" y2="273.7" stroke="#000" stroke-width="1.75" stroke-dasharray="1.3 0.45"/>
<rect x="513.9" y="253.7" width="24.6" height="8.4" fill="#E07CF8" stroke="#3a3a3a" stroke-width="0.6"/>
<line x1="513.9" y1="255" x2="538.5" y2="255" stroke="#2a2a2a" stroke-width="1.15"/>
<line x1="436.1" y1="238.6" x2="516.4" y2="238.6" stroke="#5a5a5a" stroke-width="1.05"/>
<path d="M470.85 236.5L473.25 236.5M471.45 235.46L472.65 237.54M472.65 235.46L471.45 237.54" stroke="#222" stroke-width="0.8" fill="none"/>
<path d="M474.55 236.5L476.95 236.5M475.15 235.46L476.35 237.54M476.35 235.46L475.15 237.54" stroke="#222" stroke-width="0.8" fill="none"/>
<line x1="462.2" y1="244.4" x2="516.4" y2="244.4" stroke="#5a5a5a" stroke-width="1.05"/>
<path d="M479.45 242L481.85 242M480.05 240.96L481.25 243.04M481.25 240.96L480.05 243.04" stroke="#222" stroke-width="0.8" fill="none"/>
<path d="M483.15 242L485.55 242M483.75 240.96L484.95 243.04M484.95 240.96L483.75 243.04" stroke="#222" stroke-width="0.8" fill="none"/>
<text x="407.7" y="331.2" font-size="6.6" text-anchor="start" fill="#000" stroke="#000" stroke-width="0.1">C4B</text>
<rect x="406.7" y="334.8" width="140.3" height="76.8" fill="#fff" stroke="none" stroke-width="0"/>
<line x1="406.7" y1="402.2" x2="547" y2="402.2" stroke="#F4F4F4" stroke-width="0.6"/>
<line x1="406.7" y1="383.8" x2="547" y2="383.8" stroke="#F4F4F4" stroke-width="0.6"/>
<line x1="406.7" y1="365.4" x2="547" y2="365.4" stroke="#F4F4F4" stroke-width="0.6"/>
<line x1="406.7" y1="347" x2="547" y2="347" stroke="#F4F4F4" stroke-width="0.6"/>
<line x1="406.7" y1="411.4" x2="547" y2="411.4" stroke="#EAEAEA" stroke-width="0.8"/>
<line x1="406.7" y1="393" x2="547" y2="393" stroke="#EAEAEA" stroke-width="0.8"/>
<line x1="406.7" y1="374.6" x2="547" y2="374.6" stroke="#EAEAEA" stroke-width="0.8"/>
<line x1="406.7" y1="356.2" x2="547" y2="356.2" stroke="#EAEAEA" stroke-width="0.8"/>
<line x1="406.7" y1="337.8" x2="547" y2="337.8" stroke="#EAEAEA" stroke-width="0.8"/>
<line x1="427.1" y1="334.8" x2="427.1" y2="411.6" stroke="#EAEAEA" stroke-width="0.8"/>
<line x1="460.1" y1="334.8" x2="460.1" y2="411.6" stroke="#EAEAEA" stroke-width="0.8"/>
<line x1="493.1" y1="334.8" x2="493.1" y2="411.6" stroke="#EAEAEA" stroke-width="0.8"/>
<line x1="526.2" y1="334.8" x2="526.2" y2="411.6" stroke="#EAEAEA" stroke-width="0.8"/>
<rect x="406.7" y="334.8" width="140.3" height="76.8" fill="none" stroke="#B8B8B8" stroke-width="1"/>
<line x1="405.2" y1="411.4" x2="406.7" y2="411.4" stroke="#555" stroke-width="0.7"/>
<text x="404.7" y="413.2" font-size="5.1" text-anchor="end" fill="#4D4D4D" stroke="#4D4D4D" stroke-width="0.1">2</text>
<line x1="405.2" y1="393" x2="406.7" y2="393" stroke="#555" stroke-width="0.7"/>
<text x="404.7" y="394.8" font-size="5.1" text-anchor="end" fill="#4D4D4D" stroke="#4D4D4D" stroke-width="0.1">4</text>
<line x1="405.2" y1="374.6" x2="406.7" y2="374.6" stroke="#555" stroke-width="0.7"/>
<text x="404.7" y="376.4" font-size="5.1" text-anchor="end" fill="#4D4D4D" stroke="#4D4D4D" stroke-width="0.1">6</text>
<line x1="405.2" y1="356.2" x2="406.7" y2="356.2" stroke="#555" stroke-width="0.7"/>
<text x="404.7" y="358" font-size="5.1" text-anchor="end" fill="#4D4D4D" stroke="#4D4D4D" stroke-width="0.1">8</text>
<line x1="405.2" y1="337.8" x2="406.7" y2="337.8" stroke="#555" stroke-width="0.7"/>
<text x="404.7" y="339.6" font-size="5.1" text-anchor="end" fill="#4D4D4D" stroke="#4D4D4D" stroke-width="0.1">10</text>
<line x1="427.1" y1="411.6" x2="427.1" y2="413.1" stroke="#555" stroke-width="0.7"/>
<text x="427.1" y="419.4" font-size="5.6" text-anchor="middle" fill="#4D4D4D" stroke="#4D4D4D" stroke-width="0.1">Control</text>
<line x1="460.1" y1="411.6" x2="460.1" y2="413.1" stroke="#555" stroke-width="0.7"/>
<text x="460.1" y="419.4" font-size="5.6" text-anchor="middle" fill="#4D4D4D" stroke="#4D4D4D" stroke-width="0.1">Type 1</text>
<line x1="493.1" y1="411.6" x2="493.1" y2="413.1" stroke="#555" stroke-width="0.7"/>
<text x="493.1" y="419.4" font-size="5.6" text-anchor="middle" fill="#4D4D4D" stroke="#4D4D4D" stroke-width="0.1">Mix</text>
<line x1="526.2" y1="411.6" x2="526.2" y2="413.1" stroke="#555" stroke-width="0.7"/>
<text x="526.2" y="419.4" font-size="5.6" text-anchor="middle" fill="#4D4D4D" stroke="#4D4D4D" stroke-width="0.1">Type 2</text>
<text x="477.15" y="425.6" font-size="6" text-anchor="middle" fill="#000" stroke="#000" stroke-width="0.1">SCZ group</text>
<text x="397.9" y="373.2" font-size="5.6" text-anchor="middle" fill="#000" stroke="#000" stroke-width="0.1" transform="rotate(-90 397.9 373.2)">log2+1</text>
<line x1="427.1" y1="350.7" x2="427.1" y2="368.4" stroke="#333" stroke-width="0.8"/>
<line x1="427.1" y1="350.7" x2="427.1" y2="368.4" stroke="#000" stroke-width="1.75" stroke-dasharray="1.3 0.45"/>
<line x1="427.1" y1="381.4" x2="427.1" y2="395.4" stroke="#333" stroke-width="0.8"/>
<line x1="427.1" y1="381.4" x2="427.1" y2="395.4" stroke="#000" stroke-width="1.75" stroke-dasharray="1.3 0.45"/>
<circle cx="427.1" cy="339.1" r="0.85" fill="#000"/>
<circle cx="427.1" cy="348.4" r="0.85" fill="#000"/>
<circle cx="427.1" cy="397.3" r="0.85" fill="#000"/>
<circle cx="427.1" cy="399.2" r="0.85" fill="#000"/>
<circle cx="427.1" cy="408.1" r="0.85" fill="#000"/>
<rect x="414.8" y="368.4" width="24.6" height="13" fill="#F8766D" stroke="#3a3a3a" stroke-width="0.6"/>
<line x1="414.8" y1="375.3" x2="439.4" y2="375.3" stroke="#2a2a2a" stroke-width="1.15"/>
<line x1="460.1" y1="361.9" x2="460.1" y2="371.7" stroke="#333" stroke-width="0.8"/>
<line x1="460.1" y1="361.9" x2="460.1" y2="371.7" stroke="#000" stroke-width="1.75" stroke-dasharray="1.3 0.45"/>
<line x1="460.1" y1="378.3" x2="460.1" y2="389.5" stroke="#333" stroke-width="0.8"/>
<line x1="460.1" y1="378.3" x2="460.1" y2="389.5" stroke="#000" stroke-width="1.75" stroke-dasharray="1.3 0.45"/>
<circle cx="460.1" cy="348.4" r="0.85" fill="#000"/>
<circle cx="460.1" cy="358.1" r="0.85" fill="#000"/>
<rect x="447.8" y="371.7" width="24.6" height="6.6" fill="#5DA800" stroke="#3a3a3a" stroke-width="0.6"/>
<line x1="447.8" y1="375.3" x2="472.4" y2="375.3" stroke="#2a2a2a" stroke-width="1.15"/>
<line x1="493.1" y1="346" x2="493.1" y2="364.1" stroke="#333" stroke-width="0.8"/>
<line x1="493.1" y1="346" x2="493.1" y2="364.1" stroke="#000" stroke-width="1.75" stroke-dasharray="1.3 0.45"/>
<line x1="493.1" y1="379.6" x2="493.1" y2="393.6" stroke="#333" stroke-width="0.8"/>
<line x1="493.1" y1="379.6" x2="493.1" y2="393.6" stroke="#000" stroke-width="1.75" stroke-dasharray="1.3 0.45"/>
<rect x="480.8" y="364.1" width="24.6" height="15.5" fill="#00BEC4" stroke="#3a3a3a" stroke-width="0.6"/>
<line x1="480.8" y1="375.3" x2="505.4" y2="375.3" stroke="#2a2a2a" stroke-width="1.15"/>
<line x1="526.2" y1="350.7" x2="526.2" y2="360" stroke="#333" stroke-width="0.8"/>
<line x1="526.2" y1="350.7" x2="526.2" y2="360" stroke="#000" stroke-width="1.75" stroke-dasharray="1.3 0.45"/>
<line x1="526.2" y1="370.6" x2="526.2" y2="386.1" stroke="#333" stroke-width="0.8"/>
<line x1="526.2" y1="370.6" x2="526.2" y2="386.1" stroke="#000" stroke-width="1.75" stroke-dasharray="1.3 0.45"/>
<circle cx="526.2" cy="393.6" r="0.85" fill="#000"/>
<rect x="513.9" y="360" width="24.6" height="10.6" fill="#E07CF8" stroke="#3a3a3a" stroke-width="0.6"/>
<line x1="513.9" y1="366.1" x2="538.5" y2="366.1" stroke="#2a2a2a" stroke-width="1.15"/>
<line x1="437.6" y1="339.8" x2="518.3" y2="339.8" stroke="#5a5a5a" stroke-width="1.05"/>
<path d="M472.85 337.3L475.25 337.3M473.45 336.26L474.65 338.34M474.65 336.26L473.45 338.34" stroke="#222" stroke-width="0.8" fill="none"/>
<path d="M476.55 337.3L478.95 337.3M477.15 336.26L478.35 338.34M478.35 336.26L477.15 338.34" stroke="#222" stroke-width="0.8" fill="none"/>
<line x1="463.2" y1="344.5" x2="518.3" y2="344.5" stroke="#5a5a5a" stroke-width="1.05"/>
<path d="M486.85 341.9L489.25 341.9M487.45 340.86L488.65 342.94M488.65 340.86L487.45 342.94" stroke="#222" stroke-width="0.8" fill="none"/>
<path d="M490.55 341.9L492.95 341.9M491.15 340.86L492.35 342.94M492.35 340.86L491.15 342.94" stroke="#222" stroke-width="0.8" fill="none"/>
</svg>
</body></html>
